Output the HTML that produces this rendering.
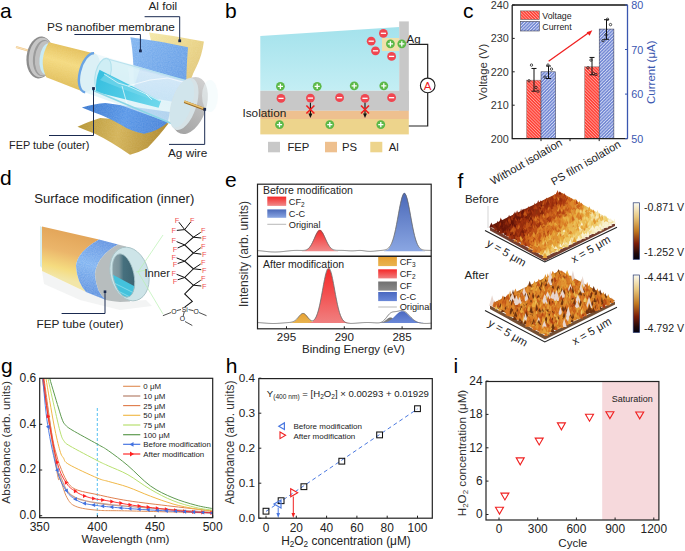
<!DOCTYPE html>
<html><head><meta charset="utf-8"><style>
html,body{margin:0;padding:0;background:#fff;}
svg{display:block;font-family:"Liberation Sans", sans-serif;}
</style></head><body>
<svg width="685" height="551" viewBox="0 0 685 551">
<rect width="685" height="551" fill="#fff"/>
<text x="0" y="17.5" font-size="21" fill="#000" text-anchor="start" >a</text>
<text x="225" y="17.5" font-size="21" fill="#000" text-anchor="start" >b</text>
<text x="463" y="17.5" font-size="21" fill="#000" text-anchor="start" >c</text>
<text x="0" y="185" font-size="21" fill="#000" text-anchor="start" >d</text>
<text x="225" y="186.5" font-size="21" fill="#000" text-anchor="start" >e</text>
<text x="457.5" y="187.5" font-size="21" fill="#000" text-anchor="start" >f</text>
<text x="1" y="373" font-size="21" fill="#000" text-anchor="start" >g</text>
<text x="225.8" y="373.3" font-size="21" fill="#000" text-anchor="start" >h</text>
<text x="453.6" y="373.4" font-size="21" fill="#000" text-anchor="start" >i</text>
<defs><linearGradient id="afoil" gradientUnits="userSpaceOnUse" x1="150" y1="33" x2="200" y2="78"><stop offset="0" stop-color="#f4e8a8"/><stop offset="0.6" stop-color="#ead488"/><stop offset="1" stop-color="#e0c67a"/></linearGradient><linearGradient id="afoil2" gradientUnits="userSpaceOnUse" x1="80" y1="125" x2="165" y2="140"><stop offset="0" stop-color="#b89838"/><stop offset="0.45" stop-color="#d4b45a"/><stop offset="1" stop-color="#b08a30"/></linearGradient><linearGradient id="amem" gradientUnits="userSpaceOnUse" x1="130" y1="40" x2="185" y2="78"><stop offset="0" stop-color="#80b4f0"/><stop offset="1" stop-color="#669ee6"/></linearGradient><linearGradient id="amem2" gradientUnits="userSpaceOnUse" x1="85" y1="105" x2="165" y2="130"><stop offset="0" stop-color="#3a78d0"/><stop offset="0.5" stop-color="#5a98e8"/><stop offset="1" stop-color="#4a84d8"/></linearGradient><linearGradient id="ayel" gradientUnits="userSpaceOnUse" x1="75" y1="48" x2="64" y2="88"><stop offset="0" stop-color="#e4c05c"/><stop offset="0.4" stop-color="#f4da80"/><stop offset="1" stop-color="#dfbc58"/></linearGradient><linearGradient id="atube" gradientUnits="userSpaceOnUse" x1="140" y1="62" x2="125" y2="118"><stop offset="0" stop-color="#eef8fb"/><stop offset="0.5" stop-color="#d4eef6"/><stop offset="1" stop-color="#dff3f8"/></linearGradient><linearGradient id="acyan" gradientUnits="userSpaceOnUse" x1="100" y1="75" x2="160" y2="105"><stop offset="0" stop-color="#38c0e0"/><stop offset="1" stop-color="#70d8ec"/></linearGradient><linearGradient id="adisc" gradientUnits="userSpaceOnUse" x1="175" y1="78" x2="200" y2="132"><stop offset="0" stop-color="#f4f4f4"/><stop offset="1" stop-color="#cacaca"/></linearGradient><filter id="tex" x="0" y="0" width="1" height="1"><feTurbulence type="fractalNoise" baseFrequency="0.8" numOctaves="2" seed="5"/><feColorMatrix values="0 0 0 0 1  0 0 0 0 1  0 0 0 0 1  0 0 0 0.5 -0.1"/><feComposite in2="SourceGraphic" operator="in"/></filter></defs>
<path d="M149,32.6 Q176,36 203.9,41.6 Q202,56 196.3,67 Q193,73 190.7,80 L160,75 Z" fill="url(#afoil)"/>
<path d="M149,32.6 Q176,36 203.9,41.6 Q202,56 196.3,67 Q193,73 190.7,80 L160,75 Z" fill="#a08030" filter="url(#tex)" opacity="0.3"/>
<path d="M130.4,37.2 Q160,41 188,47.2 Q186,70 186,104 L134,95 Q134,55 130.4,37.2 Z" fill="url(#amem)"/>
<path d="M130.4,37.2 Q160,41 188,47.2 Q186,70 186,104 L134,95 Q134,55 130.4,37.2 Z" fill="#fff" filter="url(#tex)" opacity="0.5"/>
<path d="M77.5,126.8 Q90,121 100.3,118 L168.6,123.3 Q160,135 147.6,147.8 Q140,152 130,154.8 Q110,141 95,133.8 Q85,130 77.5,126.8 Z" fill="url(#afoil2)"/>
<path d="M77.5,126.8 Q90,121 100.3,118 L168.6,123.3 Q160,135 147.6,147.8 Q140,152 130,154.8 Q110,141 95,133.8 Q85,130 77.5,126.8 Z" fill="#604010" filter="url(#tex)" opacity="0.25"/>
<path d="M81.9,107.5 Q95,104 105.5,103.1 L170,112 L167.7,122.4 Q158,131 144,133.8 Q130,131 121.3,125 Q105,116 95,112.8 Q88,110 81.9,107.5 Z" fill="url(#amem2)"/>
<path d="M81.9,107.5 Q95,104 105.5,103.1 L170,112 L167.7,122.4 Q158,131 144,133.8 Q130,131 121.3,125 Q105,116 95,112.8 Q88,110 81.9,107.5 Z" fill="#fff" filter="url(#tex)" opacity="0.4"/>
<path d="M16,47 L40,54" stroke="#f0c888" stroke-width="2.2"/><path d="M16,47 L40,54" stroke="#fff4e0" stroke-width="0.6"/>
<ellipse cx="40" cy="57.5" rx="13.5" ry="21" transform="rotate(6 40 57.5)" fill="#8c8c8c"/>
<ellipse cx="41" cy="57.5" rx="12.2" ry="19.8" transform="rotate(6 41 57.5)" fill="#c6c6c6"/>
<ellipse cx="43" cy="58" rx="10" ry="18" transform="rotate(6 43 58)" fill="#9c9c9c"/>
<ellipse cx="44" cy="58.2" rx="9" ry="17.2" transform="rotate(6 44 58.2)" fill="#c0c0c0"/>
<ellipse cx="47" cy="59" rx="7.5" ry="15.5" transform="rotate(6 47 59)" fill="#c8eaf4"/>
<path d="M48.9,42.3 L95.3,53.7 L84,92 L46.3,77.3 Q38,60 48.9,42.3 Z" fill="url(#ayel)"/>
<path d="M48.9,42.3 L95.3,53.7 L84,92 L46.3,77.3 Q38,60 48.9,42.3 Z" fill="#806010" filter="url(#tex)" opacity="0.22"/>
<path d="M95.3,53.7 L190.7,81.9 L177.3,125.4 L84,92 Z" fill="url(#atube)" opacity="0.72"/>
<ellipse cx="89.6" cy="72.8" rx="9.5" ry="19.8" transform="rotate(15 89.6 72.8)" fill="#dcf0f6"/>
<path d="M94,53.2 A9.5,19.8 15 0 0 85.2,92.4" fill="none" stroke="#6aa4e4" stroke-width="2.4"/>
<path d="M108,59 L140,68 L130,100 L97,88 Z" fill="#d6f0f6" opacity="0.8"/>
<ellipse cx="103" cy="74" rx="7.5" ry="16" transform="rotate(15 103 74)" fill="#cfeef5" stroke="#b0e0ec" stroke-width="1.1"/>
<path d="M99.5,69.7 Q106,73 130,85 L161,101 L158.6,107.8 Q128,100 96,92 Q95,80 99.5,69.7 Z" fill="url(#acyan)"/>
<path d="M106,73.6 L129.7,86.8 L161,101 L150,99 L120,88 L100,80 Z" fill="#7ad8ec" opacity="0.6"/>
<path d="M128,67 L190,83 L182,106 L161,101 L130,85 Z" fill="#e8f6fb" opacity="0.35"/>
<path d="M104,74 L118,83 L128,86 L146,94 L152,100 M128,86 L150,80 L168,78 L190,84 M122,86 L127,104 M146,94 L160,101" stroke="#fff" stroke-width="0.7" fill="none" opacity="0.95"/>
<path d="M106,58.5 L190.7,81.9" stroke="#b8e2ee" stroke-width="1.1"/>
<path d="M92.4,90 L177.4,126" stroke="#8ad6e6" stroke-width="1.6"/>
<defs><linearGradient id="arim" gradientUnits="userSpaceOnUse" x1="200" y1="80" x2="185" y2="134"><stop offset="0" stop-color="#cfcfcf"/><stop offset="1" stop-color="#a4a4a4"/></linearGradient></defs>
<ellipse cx="189.5" cy="105.5" rx="16.8" ry="29.5" transform="rotate(18 189.5 105.5)" fill="url(#arim)"/>
<ellipse cx="184" cy="104" rx="12.5" ry="27" transform="rotate(18 184 104)" fill="#d6e2e6"/>
<ellipse cx="182" cy="103.5" rx="10" ry="25" transform="rotate(18 182 103.5)" fill="#cfe6ee" opacity="0.8"/>
<path d="M184.3,101.8 L204.7,109.3" stroke="#9a6a20" stroke-width="2.8"/>
<path d="M184.3,101.3 L204.7,108.8" stroke="#eac474" stroke-width="1.5"/>
<ellipse cx="210" cy="96" rx="8" ry="16" fill="#eef9fc" opacity="0.5"/>
<g stroke="#1a2a50" stroke-width="1" fill="none"><path d="M144.6,16.7 H179.7 V40.8"/><path d="M74.4,34.5 H140.4 V50.9"/><path d="M49,135.5 H93.5 V88.5"/><path d="M169,144.4 H204.7 V109.3"/></g>
<rect x="178.29999999999998" y="39.4" width="2.8" height="2.8" fill="#1a2a50"/>
<rect x="139.0" y="49.5" width="2.8" height="2.8" fill="#1a2a50"/>
<rect x="92.1" y="87.1" width="2.8" height="2.8" fill="#1a2a50"/>
<rect x="203.29999999999998" y="107.89999999999999" width="2.8" height="2.8" fill="#1a2a50"/>
<text x="148.4" y="9.9" font-size="11.8" fill="#222" text-anchor="start" >Al foil</text>
<text x="47" y="30.6" font-size="11.8" fill="#222" text-anchor="start" >PS nanofiber membrane</text>
<text x="9" y="148.5" font-size="10.9" fill="#222" text-anchor="start" >FEP tube (outer)</text>
<text x="168" y="157.3" font-size="11.8" fill="#222" text-anchor="start" >Ag wire</text>
<defs><linearGradient id="bw" x1="0" y1="0" x2="0" y2="1"><stop offset="0" stop-color="#a4e2ec"/><stop offset="1" stop-color="#c4eef4"/></linearGradient></defs>
<path d="M260.3,36 L399.2,27 V90.8 H260.3 Z" fill="url(#bw)"/>
<rect x="399.2" y="21.4" width="9.6" height="89.4" fill="#c8c8c8"/>
<rect x="260.3" y="90.8" width="148.5" height="20" fill="#c8c8c8"/>
<rect x="260.3" y="110.8" width="148.5" height="8.2" fill="#eec08f"/>
<rect x="260.3" y="119" width="148.5" height="15.4" fill="#edd48c"/>
<rect x="382" y="38" width="17.2" height="13" fill="#efe0aa"/>
<path d="M408.8,44.3 H427.7 V78 M427.7,92.8 V126 H408.8" stroke="#222" stroke-width="1.2" fill="none"/>
<circle cx="427.7" cy="85.4" r="7.3" fill="#fff" stroke="#222" stroke-width="1.1"/>
<text x="427.7" y="89.6" font-size="11.5" fill="#f02020" text-anchor="middle" >A</text>
<text x="406.5" y="43.2" font-size="11.5" fill="#222" text-anchor="start" >Ag</text>
<circle cx="280.4" cy="86.3" r="4.4" fill="#5cb848"/><path d="M277.79999999999995,86.3 h5.2 M280.4,83.7 v5.2" stroke="#fff" stroke-width="1.3"/>
<circle cx="317.2" cy="86.3" r="4.4" fill="#5cb848"/><path d="M314.59999999999997,86.3 h5.2 M317.2,83.7 v5.2" stroke="#fff" stroke-width="1.3"/>
<circle cx="354.2" cy="85.8" r="4.4" fill="#5cb848"/><path d="M351.59999999999997,85.8 h5.2 M354.2,83.2 v5.2" stroke="#fff" stroke-width="1.3"/>
<circle cx="383.8" cy="85.8" r="4.4" fill="#5cb848"/><path d="M381.2,85.8 h5.2 M383.8,83.2 v5.2" stroke="#fff" stroke-width="1.3"/>
<circle cx="279.5" cy="124.6" r="4.4" fill="#5cb848"/><path d="M276.9,124.6 h5.2 M279.5,122.0 v5.2" stroke="#fff" stroke-width="1.3"/>
<circle cx="329.8" cy="124.6" r="4.4" fill="#5cb848"/><path d="M327.2,124.6 h5.2 M329.8,122.0 v5.2" stroke="#fff" stroke-width="1.3"/>
<circle cx="380.8" cy="124.6" r="4.4" fill="#5cb848"/><path d="M378.2,124.6 h5.2 M380.8,122.0 v5.2" stroke="#fff" stroke-width="1.3"/>
<circle cx="390.4" cy="43.8" r="4.4" fill="#5cb848"/><path d="M387.79999999999995,43.8 h5.2 M390.4,41.199999999999996 v5.2" stroke="#fff" stroke-width="1.3"/>
<circle cx="401.8" cy="43.8" r="4.4" fill="#5cb848"/><path d="M399.2,43.8 h5.2 M401.8,41.199999999999996 v5.2" stroke="#fff" stroke-width="1.3"/>
<circle cx="281" cy="98.4" r="4.4" fill="#f04650"/><path d="M278.4,98.4 h5.2" stroke="#fff" stroke-width="1.3"/>
<circle cx="310.4" cy="98.1" r="4.4" fill="#f04650"/><path d="M307.79999999999995,98.1 h5.2" stroke="#fff" stroke-width="1.3"/>
<circle cx="339.6" cy="97.7" r="4.4" fill="#f04650"/><path d="M337.0,97.7 h5.2" stroke="#fff" stroke-width="1.3"/>
<circle cx="365" cy="98.3" r="4.4" fill="#f04650"/><path d="M362.4,98.3 h5.2" stroke="#fff" stroke-width="1.3"/>
<circle cx="391.6" cy="97.7" r="4.4" fill="#f04650"/><path d="M389.0,97.7 h5.2" stroke="#fff" stroke-width="1.3"/>
<circle cx="383.4" cy="33.3" r="4.4" fill="#f04650"/><path d="M380.79999999999995,33.3 h5.2" stroke="#fff" stroke-width="1.3"/>
<circle cx="371.2" cy="41.2" r="4.4" fill="#f04650"/><path d="M368.59999999999997,41.2 h5.2" stroke="#fff" stroke-width="1.3"/>
<circle cx="375.5" cy="50.8" r="4.4" fill="#f04650"/><path d="M372.9,50.8 h5.2" stroke="#fff" stroke-width="1.3"/>
<circle cx="391.6" cy="56.4" r="4.4" fill="#f04650"/><path d="M389.0,56.4 h5.2" stroke="#fff" stroke-width="1.3"/>
<path d="M310.4,102.7 V114" stroke="#111" stroke-width="1.1"/><path d="M308.4,113.6 L312.4,113.6 L310.4,118 Z" fill="#111"/>
<path d="M306.4,105.5 L314.4,113.5 M314.4,105.5 L306.4,113.5" stroke="#f21d1d" stroke-width="1.6"/>
<path d="M365,102.7 V114" stroke="#111" stroke-width="1.1"/><path d="M363,113.6 L367,113.6 L365,118 Z" fill="#111"/>
<path d="M361,105.5 L369,113.5 M369,105.5 L361,113.5" stroke="#f21d1d" stroke-width="1.6"/>
<text x="242.4" y="117" font-size="11.8" fill="#222" text-anchor="start" >Isolation</text>
<rect x="268" y="141.8" width="12" height="10.5" fill="#c8c8c8"/>
<rect x="325" y="141.8" width="12" height="10.5" fill="#eec08f"/>
<rect x="370.3" y="141.8" width="12" height="10.5" fill="#edd48c"/>
<text x="287.4" y="150.9" font-size="11.3" fill="#222" text-anchor="start" >FEP</text>
<text x="341.9" y="150.9" font-size="11.3" fill="#222" text-anchor="start" >PS</text>
<text x="388.7" y="150.9" font-size="11.3" fill="#222" text-anchor="start" >Al</text>
<defs><pattern id="hr" width="2.2" height="2.2" patternUnits="userSpaceOnUse" patternTransform="rotate(-45)"><rect width="2.2" height="2.2" fill="#ff3a30"/><rect width="0.9" height="2.2" fill="#ffa098"/></pattern><pattern id="hb" width="2.3" height="2.3" patternUnits="userSpaceOnUse" patternTransform="rotate(45)"><rect width="2.2" height="2.2" fill="#5a72cc"/><rect width="0.95" height="2.2" fill="#d8e0f6"/></pattern></defs>
<rect x="526.5" y="80.14999999999999" width="14.5" height="58.45" fill="url(#hr)" stroke="#888" stroke-width="0.5"/>
<rect x="541.0" y="71.8" width="14.600000000000023" height="66.8" fill="url(#hb)" stroke="#334" stroke-width="0.5"/>
<rect x="584.5" y="66.78999999999999" width="14.700000000000045" height="71.81" fill="url(#hr)" stroke="#888" stroke-width="0.5"/>
<rect x="599.2" y="29.04800000000003" width="14.699999999999932" height="109.55199999999996" fill="url(#hb)" stroke="#334" stroke-width="0.5"/>
<path d="M534,68.46 V91.17200000000004 M531.5,68.46 h5 M531.5,91.17200000000004 h5" stroke="#111" stroke-width="1" fill="none"/>
<path d="M548.5,66.01066666666668 V78.47999999999999 M546.0,66.01066666666668 h5 M546.0,78.47999999999999 h5" stroke="#111" stroke-width="1" fill="none"/>
<path d="M592,57.43799999999996 V74.80600000000001 M589.5,57.43799999999996 h5 M589.5,74.80600000000001 h5" stroke="#111" stroke-width="1" fill="none"/>
<path d="M606.5,19.695999999999984 V39.29066666666668 M604.0,19.695999999999984 h5 M604.0,39.29066666666668 h5" stroke="#111" stroke-width="1" fill="none"/>
<circle cx="531.5" cy="65.1" r="1.2" fill="none" stroke="#222" stroke-width="0.8"/>
<circle cx="529" cy="80.8" r="1.2" fill="none" stroke="#222" stroke-width="0.8"/>
<circle cx="536" cy="87.5" r="1.2" fill="none" stroke="#222" stroke-width="0.8"/>
<circle cx="538" cy="91.2" r="1.2" fill="none" stroke="#222" stroke-width="0.8"/>
<circle cx="545" cy="77.1" r="1.2" fill="none" stroke="#222" stroke-width="0.8"/>
<circle cx="548" cy="65.1" r="1.2" fill="none" stroke="#222" stroke-width="0.8"/>
<circle cx="551.5" cy="69.1" r="1.2" fill="none" stroke="#222" stroke-width="0.8"/>
<circle cx="588" cy="67.8" r="1.2" fill="none" stroke="#222" stroke-width="0.8"/>
<circle cx="591" cy="60.1" r="1.2" fill="none" stroke="#222" stroke-width="0.8"/>
<circle cx="593.5" cy="73.5" r="1.2" fill="none" stroke="#222" stroke-width="0.8"/>
<circle cx="596" cy="74.5" r="1.2" fill="none" stroke="#222" stroke-width="0.8"/>
<circle cx="603" cy="40.6" r="1.2" fill="none" stroke="#222" stroke-width="0.8"/>
<circle cx="606" cy="34.8" r="1.2" fill="none" stroke="#222" stroke-width="0.8"/>
<circle cx="607.5" cy="19.3" r="1.2" fill="none" stroke="#222" stroke-width="0.8"/>
<circle cx="610.5" cy="24.6" r="1.2" fill="none" stroke="#222" stroke-width="0.8"/>
<path d="M512.2,5.0 V138.6 H627.5" stroke="#222" stroke-width="1.3" fill="none"/>
<path d="M512.2,5.0 H627.5" stroke="#111" stroke-width="1.3" fill="none"/>
<path d="M627.5,5.0 V138.6" stroke="#3a56b0" stroke-width="1.3" fill="none"/>
<path d="M512.2,138.6 h2.5" stroke="#222" stroke-width="1"/>
<text x="508.7" y="138.6" font-size="10.8" fill="#333" text-anchor="end" dominant-baseline="central">200</text>
<path d="M512.2,105.2 h2.5" stroke="#222" stroke-width="1"/>
<text x="508.7" y="105.19999999999999" font-size="10.8" fill="#333" text-anchor="end" dominant-baseline="central">210</text>
<path d="M512.2,71.8 h2.5" stroke="#222" stroke-width="1"/>
<text x="508.7" y="71.8" font-size="10.8" fill="#333" text-anchor="end" dominant-baseline="central">220</text>
<path d="M512.2,38.4 h2.5" stroke="#222" stroke-width="1"/>
<text x="508.7" y="38.39999999999999" font-size="10.8" fill="#333" text-anchor="end" dominant-baseline="central">230</text>
<path d="M512.2,5.0 h2.5" stroke="#222" stroke-width="1"/>
<text x="508.7" y="5.0" font-size="10.8" fill="#333" text-anchor="end" dominant-baseline="central">240</text>
<path d="M627.5,138.6 h-2.5" stroke="#3a56b0" stroke-width="1"/>
<text x="631.3" y="138.6" font-size="10.8" fill="#3a56b0" text-anchor="start" dominant-baseline="central">50</text>
<path d="M627.5,94.1 h-2.5" stroke="#3a56b0" stroke-width="1"/>
<text x="631.3" y="94.06666666666666" font-size="10.8" fill="#3a56b0" text-anchor="start" dominant-baseline="central">60</text>
<path d="M627.5,49.5 h-2.5" stroke="#3a56b0" stroke-width="1"/>
<text x="631.3" y="49.53333333333333" font-size="10.8" fill="#3a56b0" text-anchor="start" dominant-baseline="central">70</text>
<path d="M627.5,5.0 h-2.5" stroke="#3a56b0" stroke-width="1"/>
<text x="631.3" y="5.0" font-size="10.8" fill="#3a56b0" text-anchor="start" dominant-baseline="central">80</text>
<path d="M541,138.6 v2.5" stroke="#222" stroke-width="1"/>
<path d="M570,138.6 v2.5" stroke="#222" stroke-width="1"/>
<path d="M599.2,138.6 v2.5" stroke="#222" stroke-width="1"/>
<text x="0" y="0" font-size="11.4" fill="#333" text-anchor="middle" dominant-baseline="central" transform="translate(482.5,72) rotate(-90)">Voltage (V)</text>
<text x="0" y="0" font-size="11.5" fill="#3a56b0" text-anchor="middle" dominant-baseline="central" transform="translate(651,72.2) rotate(-90)">Current (μA)</text>
<rect x="520.6" y="10.9" width="18.7" height="8.7" fill="url(#hr)" stroke="#666" stroke-width="0.6"/>
<rect x="520.6" y="21.4" width="18.7" height="9.6" fill="url(#hb)" stroke="#445" stroke-width="0.6"/>
<text x="542.3" y="18.9" font-size="8.8" fill="#222" text-anchor="start" >Voltage</text>
<text x="542.3" y="29.5" font-size="8.8" fill="#222" text-anchor="start" >Current</text>
<path d="M548.6,61.3 L589,32.5" stroke="#f02020" stroke-width="1.3" fill="none"/>
<path d="M592.3,30.2 L586.6,32.2 L589.6,35.8 Z" fill="#f02020"/>
<text font-size="11" fill="#222" text-anchor="end" transform="translate(563,145) rotate(-30)">Without isolation</text>
<text font-size="11" fill="#222" text-anchor="end" transform="translate(621.5,146.5) rotate(-30)">PS film isolation</text>
<text x="34.2" y="202.7" font-size="13.1" fill="#222" text-anchor="start" >Surface modification (inner)</text>
<defs><linearGradient id="dor" gradientUnits="userSpaceOnUse" x1="60" y1="228" x2="48" y2="275"><stop offset="0" stop-color="#e2a458"/><stop offset="0.45" stop-color="#ebb56a"/><stop offset="0.8" stop-color="#f5dc80"/><stop offset="1" stop-color="#f2e6a8"/></linearGradient><linearGradient id="dbl" gradientUnits="userSpaceOnUse" x1="100" y1="240" x2="85" y2="290"><stop offset="0" stop-color="#5a8ee0"/><stop offset="0.5" stop-color="#7ab0f0"/><stop offset="1" stop-color="#5a90e0"/></linearGradient><linearGradient id="dsh" gradientUnits="userSpaceOnUse" x1="60" y1="270" x2="70" y2="305"><stop offset="0" stop-color="#e8d8c8"/><stop offset="1" stop-color="#ffffff" stop-opacity="0"/></linearGradient><radialGradient id="dgr" cx="0.5" cy="0.5" r="0.5"><stop offset="0" stop-color="#c8cccc"/><stop offset="1" stop-color="#a8b0b0"/></radialGradient><filter id="noise" x="0" y="0" width="1" height="1"><feTurbulence type="fractalNoise" baseFrequency="0.9" numOctaves="2" seed="3"/><feColorMatrix values="0 0 0 0 1  0 0 0 0 1  0 0 0 0 1  0 0 0 0.35 0"/><feComposite in2="SourceGraphic" operator="in"/></filter></defs>
<path d="M40,226 L42,227.3 L42,268 L40,266 Z" fill="#d8eef0"/>
<path d="M42,271 L86,292 L120,302 L146,300 L152,306 L120,310 L80,300 L44,284 Z" fill="#eef0f0" opacity="0.7"/>
<path d="M42,226.5 L99,239.5 Q77,252 76,266 Q77,282 86,292 L42,271 Z" fill="url(#dor)"/>
<path d="M99,239.5 L118,244.5 Q97,256 95,274 Q96,292 106,300 L86,292 Q77,282 76,266 Q77,252 99,239.5 Z" fill="url(#dbl)"/>
<path d="M99,239.5 L118,244.5 Q97,256 95,274 Q96,292 106,300 L86,292 Q77,282 76,266 Q77,252 99,239.5 Z" fill="#fff" filter="url(#noise)" opacity="0.8"/>
<path d="M118,244.5 L126,246.6 L130,301.5 L120,302 Q110,301 106,300 Q96,292 95,274 Q97,256 118,244.5 Z" fill="#b7bdbe"/>
<ellipse cx="129.5" cy="274" rx="19" ry="27.3" transform="rotate(-15 129.5 274)" fill="#cde4e8" stroke="#a9c3c7" stroke-width="0.9"/>
<defs><clipPath id="dop"><ellipse cx="123.5" cy="275.5" rx="10.5" ry="22" transform="rotate(-12 123.5 275.5)"/></clipPath><linearGradient id="ddk" x1="0" y1="0" x2="1" y2="0"><stop offset="0" stop-color="#8ea4aa"/><stop offset="0.3" stop-color="#7a949c"/><stop offset="0.45" stop-color="#46707e"/><stop offset="1" stop-color="#385e6c"/></linearGradient></defs>
<g clip-path="url(#dop)"><rect x="110" y="250" width="30" height="52" fill="url(#ddk)"/><path d="M108,272 L136,287 L136,302 L108,302 Z" fill="#44c2dc"/><path d="M112,282 L134,293 M114,289 L132,298" stroke="#9ae4f0" stroke-width="1" opacity="0.7"/></g>
<ellipse cx="123.5" cy="275.5" rx="10.5" ry="22" transform="rotate(-12 123.5 275.5)" fill="none" stroke="#a8c4c8" stroke-width="0.8"/>
<path d="M138,272 L163,235 M138,272 L163,314 M136,272 L146,270" stroke="#b8f0b0" stroke-width="0.7" fill="none"/>
<text x="144.4" y="277" font-size="11.2" fill="#222" text-anchor="start" >Inner</text>
<path d="M61.6,313.5 H105 V291.7" stroke="#1a2a50" stroke-width="1" fill="none"/><rect x="103.7" y="290.4" width="2.6" height="2.6" fill="#1a2a50"/>
<text x="36.5" y="327.6" font-size="11.8" fill="#222" text-anchor="start" >FEP tube (outer)</text>
<path d="M184.7,229.6 L193.4,237.2 L184.7,244.9 L193.4,253 L184.7,261.2 L193.4,268.8 L184.7,277.5 L193.4,285.2 L184.7,293.9 L192.3,301.5 L184.7,307.1" stroke="#111" stroke-width="1.05" fill="none"/>
<text x="177" y="222.5" font-size="7.4" fill="#f05050" text-anchor="middle">F</text>
<text x="192.3" y="222.5" font-size="7.4" fill="#f05050" text-anchor="middle">F</text>
<text x="173.8" y="233.39999999999998" font-size="7.4" fill="#f05050" text-anchor="middle">F</text>
<text x="203.2" y="233.39999999999998" font-size="7.4" fill="#f05050" text-anchor="middle">F</text>
<text x="204.3" y="241.0" font-size="7.4" fill="#f05050" text-anchor="middle">F</text>
<text x="173.8" y="243.2" font-size="7.4" fill="#f05050" text-anchor="middle">F</text>
<text x="174.9" y="251.89999999999998" font-size="7.4" fill="#f05050" text-anchor="middle">F</text>
<text x="203.2" y="248.7" font-size="7.4" fill="#f05050" text-anchor="middle">F</text>
<text x="204.3" y="257.4" font-size="7.4" fill="#f05050" text-anchor="middle">F</text>
<text x="173.8" y="259.5" font-size="7.4" fill="#f05050" text-anchor="middle">F</text>
<text x="174.9" y="267.2" font-size="7.4" fill="#f05050" text-anchor="middle">F</text>
<text x="203.2" y="265.0" font-size="7.4" fill="#f05050" text-anchor="middle">F</text>
<text x="204.3" y="272.7" font-size="7.4" fill="#f05050" text-anchor="middle">F</text>
<text x="173.8" y="275.9" font-size="7.4" fill="#f05050" text-anchor="middle">F</text>
<text x="174.9" y="283.5" font-size="7.4" fill="#f05050" text-anchor="middle">F</text>
<text x="203.2" y="281.3" font-size="7.4" fill="#f05050" text-anchor="middle">F</text>
<text x="204.3" y="289.0" font-size="7.4" fill="#f05050" text-anchor="middle">F</text>
<path d="M184.7,229.6 L178.9,222.2 M184.7,229.6 L190.5,222.2 M184.7,229.6 L176.8,230.4 M193.4,237.2 L200.7,232.4 M193.4,237.2 L201.3,238.0 M184.7,244.9 L176.6,241.6 M184.7,244.9 L177.6,248.0 M193.4,253 L200.8,247.7 M193.4,253 L201.3,254.2 M184.7,261.2 L176.6,257.9 M184.7,261.2 L177.7,263.5 M193.4,268.8 L200.7,264.0 M193.4,268.8 L201.3,269.7 M184.7,277.5 L176.6,274.3 M184.7,277.5 L177.7,279.8 M193.4,285.2 L200.7,280.3 M193.4,285.2 L201.3,286.0" stroke="#111" stroke-width="1" fill="none"/>
<text x="184.7" y="311.5" font-size="6.8" fill="#222" text-anchor="middle">Si</text>
<text x="173.8" y="313.7" font-size="6.8" fill="#222" text-anchor="middle">O</text>
<text x="196.2" y="313.7" font-size="6.8" fill="#222" text-anchor="middle">O</text>
<text x="182.5" y="321.4" font-size="6.8" fill="#222" text-anchor="middle">O</text>
<path d="M181,309.5 L176.5,310.7 M188.5,309.5 L193.5,310.7 M184.2,312 L183.2,316 M171,312.5 L162.9,315.7 M199,312.5 L206.5,315.7 M185,321.5 L192.3,325.5" stroke="#222" stroke-width="0.8" fill="none"/>
<defs><linearGradient id="gr1" x1="0" y1="0" x2="0" y2="1"><stop offset="0" stop-color="#f52828"/><stop offset="1" stop-color="#f08a8a"/></linearGradient><linearGradient id="gb1" x1="0" y1="0" x2="0" y2="1"><stop offset="0" stop-color="#4a68b8"/><stop offset="1" stop-color="#8aa6e2"/></linearGradient><linearGradient id="go1" x1="0" y1="0" x2="0" y2="1"><stop offset="0" stop-color="#e8a030"/><stop offset="1" stop-color="#e8b450"/></linearGradient><linearGradient id="gg1" x1="0" y1="0" x2="0" y2="1"><stop offset="0" stop-color="#707070"/><stop offset="1" stop-color="#8a8a8a"/></linearGradient><linearGradient id="gr2" x1="0" y1="0" x2="0" y2="1"><stop offset="0" stop-color="#f52828"/><stop offset="1" stop-color="#f08080"/></linearGradient><linearGradient id="gb2" x1="0" y1="0" x2="0" y2="1"><stop offset="0" stop-color="#4a68c0"/><stop offset="1" stop-color="#6a88d8"/></linearGradient></defs>
<path d="M302.00,251.06 L302.60,251.01 L303.20,250.93 L303.80,250.84 L304.40,250.71 L305.00,250.55 L305.60,250.34 L306.20,250.07 L306.80,249.75 L307.40,249.35 L308.00,248.86 L308.60,248.29 L309.20,247.62 L309.80,246.83 L310.40,245.94 L311.00,244.95 L311.60,243.84 L312.20,242.64 L312.80,241.36 L313.40,240.01 L314.00,238.63 L314.60,237.23 L315.20,235.86 L315.80,234.54 L316.40,233.32 L317.00,232.23 L317.60,231.30 L318.20,230.56 L318.80,230.04 L319.40,229.75 L320.00,229.71 L320.60,229.92 L321.20,230.36 L321.80,231.03 L322.40,231.90 L323.00,232.94 L323.60,234.12 L324.20,235.41 L324.80,236.77 L325.40,238.16 L326.00,239.55 L326.60,240.91 L327.20,242.22 L327.80,243.45 L328.40,244.59 L329.00,245.62 L329.60,246.55 L330.20,247.37 L330.80,248.08 L331.40,248.68 L332.00,249.20 L332.60,249.62 L333.20,249.97 L333.80,250.26 L334.40,250.48 L335.00,250.66 L335.60,250.80 L336.20,250.90 L336.80,250.99 L337.40,251.05 L338.00,251.09 L338.00,251.2 L302.00,251.2 Z" fill="url(#gr1)"/>
<path d="M384.00,250.89 L384.68,250.76 L385.37,250.59 L386.05,250.36 L386.73,250.05 L387.42,249.65 L388.10,249.14 L388.78,248.49 L389.47,247.68 L390.15,246.67 L390.83,245.44 L391.52,243.97 L392.20,242.23 L392.88,240.20 L393.57,237.86 L394.25,235.22 L394.93,232.28 L395.62,229.07 L396.30,225.60 L396.98,221.94 L397.67,218.15 L398.35,214.31 L399.03,210.50 L399.72,206.82 L400.40,203.38 L401.08,200.27 L401.77,197.59 L402.45,195.44 L403.13,193.87 L403.82,192.95 L404.50,192.71 L405.18,193.15 L405.87,194.26 L406.55,196.01 L407.23,198.33 L407.92,201.14 L408.60,204.36 L409.28,207.88 L409.97,211.61 L410.65,215.44 L411.33,219.27 L412.02,223.03 L412.70,226.64 L413.38,230.03 L414.07,233.17 L414.75,236.03 L415.43,238.58 L416.12,240.82 L416.80,242.77 L417.48,244.43 L418.17,245.83 L418.85,246.99 L419.53,247.93 L420.22,248.70 L420.90,249.30 L421.58,249.78 L422.27,250.15 L422.95,250.43 L423.63,250.65 L424.32,250.80 L425.00,250.92 L425.00,251.2 L384.00,251.2 Z" fill="url(#gb1)"/>
<path d="M257.50,250.57 L258.50,250.64 L259.50,250.73 L260.50,250.83 L261.50,250.93 L262.50,251.04 L263.50,251.16 L264.50,251.27 L265.50,251.38 L266.50,251.49 L267.50,251.59 L268.50,251.69 L269.50,251.77 L270.50,251.85 L271.50,251.91 L272.50,251.95 L273.50,251.98 L274.50,252.00 L275.50,252.00 L276.50,251.98 L277.50,251.95 L278.50,251.90 L279.50,251.83 L280.50,251.76 L281.50,251.67 L282.50,251.57 L283.50,251.47 L284.50,251.36 L285.50,251.24 L286.50,251.13 L287.50,251.02 L288.50,250.91 L289.50,250.80 L290.50,250.71 L291.50,250.62 L292.50,250.55 L293.50,250.49 L294.50,250.45 L295.50,250.41 L296.50,250.40 L297.50,250.40 L298.50,250.41 L299.50,250.43 L300.50,250.45 L301.50,250.46 L302.50,250.46 L303.50,250.42 L304.50,250.31 L305.50,250.11 L306.50,249.76 L307.50,249.23 L308.50,248.46 L309.50,247.42 L310.50,246.08 L311.50,244.43 L312.50,242.50 L313.50,240.36 L314.50,238.11 L315.50,235.90 L316.50,233.88 L317.50,232.22 L318.50,231.07 L319.50,230.53 L320.50,230.65 L321.50,231.41 L322.50,232.75 L323.50,234.55 L324.50,236.64 L325.50,238.86 L326.50,241.06 L327.50,243.11 L328.50,244.92 L329.50,246.45 L330.50,247.66 L331.50,248.59 L332.50,249.26 L333.50,249.72 L334.50,250.02 L335.50,250.20 L336.50,250.30 L337.50,250.34 L338.50,250.36 L339.50,250.37 L340.50,250.38 L341.50,250.39 L342.50,250.41 L343.50,250.45 L344.50,250.50 L345.50,250.55 L346.50,250.62 L347.50,250.68 L348.50,250.75 L349.50,250.81 L350.50,250.85 L351.50,250.87 L352.50,250.87 L353.50,250.84 L354.50,250.78 L355.50,250.71 L356.50,250.62 L357.50,250.54 L358.50,250.48 L359.50,250.45 L360.50,250.46 L361.50,250.51 L362.50,250.60 L363.50,250.73 L364.50,250.87 L365.50,251.02 L366.50,251.15 L367.50,251.25 L368.50,251.32 L369.50,251.36 L370.50,251.36 L371.50,251.32 L372.50,251.26 L373.50,251.19 L374.50,251.09 L375.50,250.99 L376.50,250.89 L377.50,250.79 L378.50,250.69 L379.50,250.60 L380.50,250.50 L381.50,250.41 L382.50,250.31 L383.50,250.18 L384.50,250.00 L385.50,249.75 L386.50,249.39 L387.50,248.86 L388.50,248.09 L389.50,247.00 L390.50,245.52 L391.50,243.55 L392.50,241.01 L393.50,237.84 L394.50,234.03 L395.50,229.59 L396.50,224.62 L397.50,219.28 L398.50,213.76 L399.50,208.37 L400.50,203.39 L401.50,199.16 L402.50,195.95 L403.50,194.00 L404.50,193.46 L405.50,194.37 L406.50,196.66 L407.50,200.17 L408.50,204.64 L409.50,209.79 L410.50,215.28 L411.50,220.83 L412.50,226.15 L413.50,231.05 L414.50,235.38 L415.50,239.07 L416.50,242.10 L417.50,244.50 L418.50,246.34 L419.50,247.70 L420.50,248.67 L421.50,249.33 L422.50,249.76 L423.50,250.03 L424.50,250.19 L425.50,250.27 L426.50,250.32 L427.50,250.34 L428.50,250.36 L429.50,250.38 L430.50,250.41 L431.50,250.45" stroke="#666" stroke-width="0.8" fill="none"/>
<path d="M290.00,322.84 L290.43,322.79 L290.87,322.73 L291.30,322.66 L291.73,322.57 L292.17,322.45 L292.60,322.32 L293.03,322.16 L293.47,321.97 L293.90,321.74 L294.33,321.49 L294.77,321.19 L295.20,320.86 L295.63,320.49 L296.07,320.09 L296.50,319.64 L296.93,319.16 L297.37,318.66 L297.80,318.13 L298.23,317.58 L298.67,317.03 L299.10,316.48 L299.53,315.94 L299.97,315.42 L300.40,314.94 L300.83,314.50 L301.27,314.12 L301.70,313.80 L302.13,313.56 L302.57,313.39 L303.00,313.31 L303.43,313.31 L303.87,313.40 L304.30,313.57 L304.73,313.82 L305.17,314.15 L305.60,314.53 L306.03,314.98 L306.47,315.46 L306.90,315.98 L307.33,316.52 L307.77,317.07 L308.20,317.63 L308.63,318.17 L309.07,318.70 L309.50,319.20 L309.93,319.68 L310.37,320.12 L310.80,320.52 L311.23,320.89 L311.67,321.22 L312.10,321.51 L312.53,321.76 L312.97,321.98 L313.40,322.17 L313.83,322.33 L314.27,322.46 L314.70,322.57 L315.13,322.66 L315.57,322.74 L316.00,322.80 L316.00,323.0 L290.00,323.0 Z" fill="url(#go1)"/>
<path d="M308.00,322.85 L308.70,322.78 L309.40,322.67 L310.10,322.53 L310.80,322.33 L311.50,322.06 L312.20,321.70 L312.90,321.22 L313.60,320.61 L314.30,319.82 L315.00,318.82 L315.70,317.60 L316.40,316.10 L317.10,314.32 L317.80,312.21 L318.50,309.78 L319.20,307.03 L319.90,303.95 L320.60,300.59 L321.30,297.00 L322.00,293.24 L322.70,289.39 L323.40,285.56 L324.10,281.86 L324.80,278.40 L325.50,275.31 L326.20,272.69 L326.90,270.64 L327.60,269.25 L328.30,268.57 L329.00,268.62 L329.70,269.41 L330.40,270.90 L331.10,273.03 L331.80,275.73 L332.50,278.88 L333.20,282.38 L333.90,286.11 L334.60,289.94 L335.30,293.78 L336.00,297.53 L336.70,301.09 L337.40,304.41 L338.10,307.44 L338.80,310.15 L339.50,312.53 L340.20,314.59 L340.90,316.33 L341.60,317.79 L342.30,318.98 L343.00,319.94 L343.70,320.70 L344.40,321.30 L345.10,321.76 L345.80,322.10 L346.50,322.36 L347.20,322.55 L347.90,322.69 L348.60,322.79 L349.30,322.86 L350.00,322.91 L350.00,323.0 L308.00,323.0 Z" fill="url(#gr2)"/>
<path d="M380.00,322.81 L380.35,322.77 L380.70,322.71 L381.05,322.64 L381.40,322.56 L381.75,322.47 L382.10,322.36 L382.45,322.24 L382.80,322.10 L383.15,321.94 L383.50,321.76 L383.85,321.56 L384.20,321.35 L384.55,321.11 L384.90,320.86 L385.25,320.60 L385.60,320.32 L385.95,320.04 L386.30,319.75 L386.65,319.46 L387.00,319.17 L387.35,318.89 L387.70,318.62 L388.05,318.37 L388.40,318.15 L388.75,317.95 L389.10,317.78 L389.45,317.65 L389.80,317.56 L390.15,317.51 L390.50,317.50 L390.85,317.53 L391.20,317.61 L391.55,317.72 L391.90,317.87 L392.25,318.06 L392.60,318.27 L392.95,318.51 L393.30,318.77 L393.65,319.05 L394.00,319.33 L394.35,319.62 L394.70,319.91 L395.05,320.20 L395.40,320.48 L395.75,320.75 L396.10,321.01 L396.45,321.25 L396.80,321.47 L397.15,321.68 L397.50,321.86 L397.85,322.03 L398.20,322.18 L398.55,322.31 L398.90,322.42 L399.25,322.52 L399.60,322.61 L399.95,322.68 L400.30,322.74 L400.65,322.79 L401.00,322.84 L401.00,323.0 L380.00,323.0 Z" fill="url(#gg1)"/>
<path d="M380.00,322.92 L380.75,322.89 L381.50,322.85 L382.25,322.80 L383.00,322.73 L383.75,322.63 L384.50,322.52 L385.25,322.37 L386.00,322.19 L386.75,321.97 L387.50,321.70 L388.25,321.38 L389.00,321.01 L389.75,320.57 L390.50,320.08 L391.25,319.53 L392.00,318.92 L392.75,318.26 L393.50,317.55 L394.25,316.81 L395.00,316.05 L395.75,315.28 L396.50,314.53 L397.25,313.81 L398.00,313.14 L398.75,312.55 L399.50,312.05 L400.25,311.65 L401.00,311.37 L401.75,311.22 L402.50,311.21 L403.25,311.33 L404.00,311.58 L404.75,311.96 L405.50,312.44 L406.25,313.02 L407.00,313.67 L407.75,314.38 L408.50,315.13 L409.25,315.89 L410.00,316.66 L410.75,317.40 L411.50,318.12 L412.25,318.79 L413.00,319.41 L413.75,319.98 L414.50,320.48 L415.25,320.92 L416.00,321.31 L416.75,321.64 L417.50,321.92 L418.25,322.15 L419.00,322.34 L419.75,322.49 L420.50,322.61 L421.25,322.71 L422.00,322.78 L422.75,322.84 L423.50,322.88 L424.25,322.92 L425.00,322.94 L425.00,323.0 L380.00,323.0 Z" fill="url(#gb2)"/>
<path d="M257.50,322.56 L258.50,322.61 L259.50,322.67 L260.50,322.73 L261.50,322.81 L262.50,322.88 L263.50,322.97 L264.50,323.05 L265.50,323.13 L266.50,323.21 L267.50,323.28 L268.50,323.35 L269.50,323.40 L270.50,323.45 L271.50,323.48 L272.50,323.50 L273.50,323.50 L274.50,323.49 L275.50,323.47 L276.50,323.43 L277.50,323.38 L278.50,323.32 L279.50,323.26 L280.50,323.18 L281.50,323.10 L282.50,323.02 L283.50,322.94 L284.50,322.85 L285.50,322.77 L286.50,322.69 L287.50,322.62 L288.50,322.53 L289.50,322.43 L290.50,322.30 L291.50,322.12 L292.50,321.85 L293.50,321.46 L294.50,320.92 L295.50,320.19 L296.50,319.27 L297.50,318.18 L298.50,317.00 L299.50,315.81 L300.50,314.74 L301.50,313.93 L302.50,313.48 L303.50,313.47 L304.50,313.90 L305.50,314.71 L306.50,315.80 L307.50,317.04 L308.50,318.26 L309.50,319.34 L310.50,320.17 L311.50,320.65 L312.50,320.74 L313.50,320.37 L314.50,319.50 L315.50,318.07 L316.50,316.02 L317.50,313.31 L318.50,309.91 L319.50,305.81 L320.50,301.08 L321.50,295.85 L322.50,290.33 L323.50,284.78 L324.50,279.53 L325.50,274.94 L326.50,271.31 L327.50,268.95 L328.50,268.02 L329.50,268.61 L330.50,270.67 L331.50,274.03 L332.50,278.43 L333.50,283.54 L334.50,289.03 L335.50,294.57 L336.50,299.87 L337.50,304.71 L338.50,308.96 L339.50,312.55 L340.50,315.48 L341.50,317.78 L342.50,319.53 L343.50,320.83 L344.50,321.75 L345.50,322.40 L346.50,322.83 L347.50,323.11 L348.50,323.28 L349.50,323.37 L350.50,323.41 L351.50,323.41 L352.50,323.38 L353.50,323.34 L354.50,323.28 L355.50,323.21 L356.50,323.13 L357.50,323.05 L358.50,322.97 L359.50,322.89 L360.50,322.81 L361.50,322.73 L362.50,322.67 L363.50,322.61 L364.50,322.56 L365.50,322.53 L366.50,322.51 L367.50,322.50 L368.50,322.51 L369.50,322.53 L370.50,322.56 L371.50,322.60 L372.50,322.66 L373.50,322.72 L374.50,322.78 L375.50,322.84 L376.50,322.88 L377.50,322.90 L378.50,322.86 L379.50,322.74 L380.50,322.51 L381.50,322.13 L382.50,321.57 L383.50,320.79 L384.50,319.82 L385.50,318.66 L386.50,317.39 L387.50,316.10 L388.50,314.87 L389.50,313.81 L390.50,312.97 L391.50,312.38 L392.50,312.02 L393.50,311.82 L394.50,311.71 L395.50,311.62 L396.50,311.48 L397.50,311.28 L398.50,311.04 L399.50,310.79 L400.50,310.59 L401.50,310.50 L402.50,310.56 L403.50,310.81 L404.50,311.27 L405.50,311.91 L406.50,312.73 L407.50,313.67 L408.50,314.70 L409.50,315.77 L410.50,316.84 L411.50,317.86 L412.50,318.82 L413.50,319.70 L414.50,320.46 L415.50,321.13 L416.50,321.68 L417.50,322.14 L418.50,322.51 L419.50,322.80 L420.50,323.02 L421.50,323.19 L422.50,323.31 L423.50,323.38 L424.50,323.43 L425.50,323.44 L426.50,323.43 L427.50,323.41 L428.50,323.36 L429.50,323.31 L430.50,323.24 L431.50,323.16" stroke="#666" stroke-width="0.8" fill="none"/>
<rect x="257.5" y="184.2" width="173.7" height="144.60000000000002" fill="none" stroke="#222" stroke-width="1.2"/>
<path d="M257.5,256.2 H431.2" stroke="#222" stroke-width="1.4"/>
<path d="M286.5,328.8 v-2.5" stroke="#222" stroke-width="1"/>
<text x="286.5" y="341" font-size="11.6" fill="#222" text-anchor="middle" >295</text>
<path d="M344.3,328.8 v-2.5" stroke="#222" stroke-width="1"/>
<text x="344.3" y="341" font-size="11.6" fill="#222" text-anchor="middle" >290</text>
<path d="M402.1,328.8 v-2.5" stroke="#222" stroke-width="1"/>
<text x="402.1" y="341" font-size="11.6" fill="#222" text-anchor="middle" >285</text>
<text x="353.5" y="352.8" font-size="11.5" fill="#222" text-anchor="middle" >Binding Energy (eV)</text>
<text x="0" y="0" font-size="12.1" fill="#333" text-anchor="middle" dominant-baseline="central" transform="translate(244,254) rotate(-90)">Intensity (arb. units)</text>
<text x="263" y="194.3" font-size="10.5" fill="#222" text-anchor="start" >Before modification</text>
<text x="263" y="268.2" font-size="10.5" fill="#222" text-anchor="start" >After modification</text>
<rect x="267.3" y="196.6" width="18.9" height="9.3" fill="url(#gr1)"/>
<rect x="267.3" y="209.4" width="18.9" height="8.4" fill="url(#gb1)"/>
<path d="M267.3,224.3 H286.2" stroke="#999" stroke-width="0.7"/>
<text x="288.8" y="204.5" font-size="9.2" fill="#222" text-anchor="start" >CF<tspan font-size="6.5" dy="2.2">2</tspan></text>
<text x="288.8" y="216.8" font-size="9.2" fill="#222" text-anchor="start" >C-C</text>
<text x="288.8" y="227.6" font-size="9.2" fill="#222" text-anchor="start" >Original</text>
<rect x="378.2" y="257" width="18.7" height="9.100000000000023" fill="url(#go1)"/>
<text x="399.7" y="264.8" font-size="9.2" fill="#222" text-anchor="start" >CF<tspan font-size="6.5" dy="2.2">3</tspan></text>
<rect x="378.2" y="269.3" width="18.7" height="9.099999999999966" fill="url(#gr2)"/>
<text x="399.7" y="277.09999999999997" font-size="9.2" fill="#222" text-anchor="start" >CF<tspan font-size="6.5" dy="2.2">2</tspan></text>
<rect x="378.2" y="281.5" width="18.7" height="9.100000000000023" fill="url(#gg1)"/>
<text x="399.7" y="289.3" font-size="9.2" fill="#222" text-anchor="start" >CF</text>
<rect x="378.2" y="292" width="18.7" height="9.100000000000023" fill="url(#gb2)"/>
<text x="399.7" y="299.8" font-size="9.2" fill="#222" text-anchor="start" >C-C</text>
<path d="M378.2,307 H396.9" stroke="#999" stroke-width="0.7"/>
<text x="399.7" y="310.3" font-size="9.2" fill="#222" text-anchor="start" >Original</text>
<defs><linearGradient id="cbar" x1="0" y1="0" x2="0" y2="1"><stop offset="0" stop-color="#fbfbf0"/><stop offset="0.25" stop-color="#e8c880"/><stop offset="0.5" stop-color="#c07820"/><stop offset="0.72" stop-color="#7a1c08"/><stop offset="0.9" stop-color="#200808"/><stop offset="1" stop-color="#000010"/></linearGradient></defs>
<text x="464.9" y="202.7" font-size="11.5" fill="#222" text-anchor="start" >Before</text>
<text x="464.5" y="278.5" font-size="11.5" fill="#222" text-anchor="start" >After</text>
<defs><linearGradient id="fgbefore" gradientUnits="userSpaceOnUse" x1="525.0" y1="211.0" x2="580.0" y2="241.0"><stop offset="0" stop-color="#6a1a08"/><stop offset="0.35" stop-color="#b04814"/><stop offset="0.6" stop-color="#d88a30"/><stop offset="0.85" stop-color="#e8c060"/><stop offset="1" stop-color="#f0e0a0"/></linearGradient></defs>
<path d="M490.0,228.0 L560.0,194.0 L615.0,224.0 L545.0,258.0 Z" fill="url(#fgbefore)" transform="translate(0,-2)"/>
<path d="M490,227 L545,257 L615,223 L615,226 L545,261 L490,230.5 Z" fill="#5a1c0a" opacity="0.85"/>
<g><path d="M557.8,194.7 L559.8,191.2 L561.9,194.7 Z" fill="#81220b"/><path d="M561.7,195.7 L562.9,192.9 L564.2,195.7 Z" fill="#c85e1b"/><path d="M555.5,195.9 L557.6,190.1 L559.8,195.9 Z" fill="#b64614"/><path d="M558.7,196.8 L560.9,194.0 L563.2,196.8 Z" fill="#b24213"/><path d="M554.5,196.9 L556.7,192.3 L558.8,196.9 Z" fill="#af3e12"/><path d="M563.6,197.3 L565.1,195.0 L566.5,197.3 Z" fill="#d36c1f"/><path d="M560.9,197.7 L562.3,193.2 L563.8,197.7 Z" fill="#bf5217"/><path d="M551.8,197.9 L553.5,195.7 L555.2,197.9 Z" fill="#ab3910"/><path d="M555.2,198.3 L557.4,195.6 L559.5,198.3 Z" fill="#b94a15"/><path d="M562.7,198.4 L564.6,192.9 L566.6,198.4 Z" fill="#aa3710"/><path d="M550.1,199.3 L552.6,197.0 L555.1,199.3 Z" fill="#902a0d"/><path d="M552.7,199.3 L554.4,193.7 L556.1,199.3 Z" fill="#c85e1b"/><path d="M558.2,200.0 L560.4,196.9 L562.5,200.0 Z" fill="#a2330f"/><path d="M565.9,200.0 L567.3,197.0 L568.7,200.0 Z" fill="#b24112"/><path d="M560.7,200.2 L562.6,195.0 L564.5,200.2 Z" fill="#b74814"/><path d="M548.7,200.3 L551.0,197.3 L553.3,200.3 Z" fill="#ac3a11"/><path d="M555.7,200.4 L557.9,197.1 L560.1,200.4 Z" fill="#dd872b"/><path d="M562.3,200.4 L564.4,195.7 L566.5,200.4 Z" fill="#bb4d16"/><path d="M549.5,200.7 L552.0,196.0 L554.5,200.7 Z" fill="#982e0e"/><path d="M545.0,200.7 L546.8,198.3 L548.5,200.7 Z" fill="#791e0a"/><path d="M565.2,200.9 L567.2,197.0 L569.3,200.9 Z" fill="#af3e11"/><path d="M552.4,201.0 L553.7,197.8 L555.0,201.0 Z" fill="#a7350f"/><path d="M554.5,201.0 L556.4,197.2 L558.4,201.0 Z" fill="#9d300e"/><path d="M570.2,201.1 L571.7,197.9 L573.3,201.1 Z" fill="#c35819"/><path d="M546.8,201.6 L548.9,199.2 L550.9,201.6 Z" fill="#ae3c11"/><path d="M562.0,201.9 L564.2,198.5 L566.4,201.9 Z" fill="#af3e12"/><path d="M559.4,201.9 L560.9,196.6 L562.5,201.9 Z" fill="#ba4c15"/><path d="M544.7,202.0 L546.3,197.4 L547.9,202.0 Z" fill="#9b2f0e"/><path d="M559.3,202.3 L561.7,197.7 L564.1,202.3 Z" fill="#a0320e"/><path d="M570.4,202.4 L572.5,200.2 L574.7,202.4 Z" fill="#e19532"/><path d="M567.1,202.4 L569.6,196.8 L572.0,202.4 Z" fill="#ca601b"/><path d="M572.6,202.6 L575.2,198.7 L577.8,202.6 Z" fill="#e6a439"/><path d="M545.8,202.7 L547.2,197.4 L548.5,202.7 Z" fill="#c75c1a"/><path d="M555.2,202.8 L557.2,197.6 L559.1,202.8 Z" fill="#bb4e16"/><path d="M558.2,202.8 L560.4,197.6 L562.7,202.8 Z" fill="#952c0d"/><path d="M565.5,203.0 L567.7,198.4 L570.0,203.0 Z" fill="#d67120"/><path d="M553.5,203.0 L554.7,198.8 L555.9,203.0 Z" fill="#bd5017"/><path d="M542.6,203.0 L544.3,199.4 L546.1,203.0 Z" fill="#b34313"/><path d="M549.2,203.0 L551.7,198.4 L554.3,203.0 Z" fill="#a4340f"/><path d="M539.0,203.6 L540.8,200.2 L542.6,203.6 Z" fill="#8d280c"/><path d="M569.7,203.6 L571.7,200.7 L573.7,203.6 Z" fill="#de8b2d"/><path d="M562.3,203.7 L564.2,198.1 L566.1,203.7 Z" fill="#ad3b11"/><path d="M548.0,203.7 L549.5,200.9 L551.0,203.7 Z" fill="#b74815"/><path d="M553.4,203.9 L555.8,198.8 L558.2,203.9 Z" fill="#a5340f"/><path d="M575.1,204.0 L576.6,199.2 L578.0,204.0 Z" fill="#b14012"/><path d="M551.0,204.2 L552.8,201.3 L554.6,204.2 Z" fill="#aa3710"/><path d="M567.2,204.3 L568.9,200.7 L570.6,204.3 Z" fill="#d97a25"/><path d="M557.8,204.8 L559.7,199.8 L561.7,204.8 Z" fill="#a8360f"/><path d="M545.5,204.8 L547.7,199.2 L549.8,204.8 Z" fill="#8a270c"/><path d="M543.7,204.9 L545.2,200.6 L546.6,204.9 Z" fill="#ae3d11"/><path d="M570.5,204.9 L572.5,201.0 L574.4,204.9 Z" fill="#d67120"/><path d="M572.5,205.2 L574.7,199.3 L576.9,205.2 Z" fill="#d67120"/><path d="M570.9,205.3 L572.7,199.6 L574.6,205.3 Z" fill="#dd862a"/><path d="M569.8,205.3 L571.2,200.5 L572.7,205.3 Z" fill="#de8a2c"/><path d="M542.1,205.3 L543.3,200.9 L544.6,205.3 Z" fill="#c35719"/><path d="M536.3,205.4 L538.2,199.9 L540.1,205.4 Z" fill="#912a0d"/><path d="M561.1,205.5 L563.1,201.3 L565.0,205.5 Z" fill="#9f310e"/><path d="M577.6,205.5 L579.5,201.0 L581.5,205.5 Z" fill="#dc852a"/><path d="M565.1,205.6 L567.0,201.2 L568.9,205.6 Z" fill="#c25618"/><path d="M555.2,205.8 L556.5,200.9 L557.9,205.8 Z" fill="#8a270c"/><path d="M549.3,205.8 L551.5,203.0 L553.7,205.8 Z" fill="#ab3910"/><path d="M561.0,205.8 L562.7,200.0 L564.3,205.8 Z" fill="#b34313"/><path d="M559.5,206.1 L561.1,200.2 L562.7,206.1 Z" fill="#a7350f"/><path d="M565.1,206.1 L567.2,203.8 L569.3,206.1 Z" fill="#d87723"/><path d="M535.4,206.2 L536.8,203.1 L538.2,206.2 Z" fill="#902a0d"/><path d="M542.1,206.2 L544.5,204.0 L547.0,206.2 Z" fill="#932b0d"/><path d="M555.8,206.3 L558.2,202.9 L560.6,206.3 Z" fill="#b84915"/><path d="M551.0,206.4 L552.7,200.6 L554.3,206.4 Z" fill="#942c0d"/><path d="M539.5,206.4 L541.4,204.0 L543.3,206.4 Z" fill="#711a09"/><path d="M575.8,206.7 L577.3,204.7 L578.8,206.7 Z" fill="#c85e1b"/><path d="M579.2,206.8 L581.5,202.6 L583.9,206.8 Z" fill="#d46e1f"/><path d="M533.6,206.9 L534.8,202.6 L536.0,206.9 Z" fill="#9d300e"/><path d="M548.2,206.9 L550.6,201.6 L553.1,206.9 Z" fill="#992e0e"/><path d="M542.4,207.2 L544.7,204.9 L547.1,207.2 Z" fill="#a3330f"/><path d="M568.0,207.2 L569.5,204.8 L571.0,207.2 Z" fill="#c65c1a"/><path d="M559.5,207.3 L560.9,205.1 L562.3,207.3 Z" fill="#ae3c11"/><path d="M577.4,207.3 L578.9,203.1 L580.5,207.3 Z" fill="#ca611b"/><path d="M566.2,207.4 L568.0,204.0 L569.7,207.4 Z" fill="#cd641c"/><path d="M544.5,207.4 L546.9,202.4 L549.4,207.4 Z" fill="#8d280c"/><path d="M560.4,207.5 L562.1,203.5 L563.9,207.5 Z" fill="#d56f1f"/><path d="M548.2,207.5 L550.5,202.3 L552.8,207.5 Z" fill="#ac3a11"/><path d="M572.2,207.6 L573.5,205.3 L574.7,207.6 Z" fill="#d67221"/><path d="M581.3,207.7 L582.9,204.6 L584.5,207.7 Z" fill="#e5a037"/><path d="M547.9,207.7 L549.8,204.6 L551.7,207.7 Z" fill="#a8360f"/><path d="M537.6,208.0 L539.7,203.9 L541.8,208.0 Z" fill="#a8360f"/><path d="M567.6,208.2 L569.0,202.8 L570.5,208.2 Z" fill="#d87924"/><path d="M562.5,208.3 L564.5,205.8 L566.5,208.3 Z" fill="#db8228"/><path d="M572.1,208.4 L574.0,204.5 L575.9,208.4 Z" fill="#dd862a"/><path d="M540.9,208.4 L542.9,205.0 L544.8,208.4 Z" fill="#c55a1a"/><path d="M556.6,208.4 L557.9,203.5 L559.3,208.4 Z" fill="#d67221"/><path d="M543.7,208.5 L545.0,202.7 L546.3,208.5 Z" fill="#942c0d"/><path d="M553.2,208.5 L555.5,202.9 L557.9,208.5 Z" fill="#ba4c15"/><path d="M534.9,208.6 L537.0,205.4 L539.0,208.6 Z" fill="#972d0d"/><path d="M532.7,208.7 L534.0,205.6 L535.3,208.7 Z" fill="#9a2f0e"/><path d="M529.7,208.8 L531.1,206.2 L532.5,208.8 Z" fill="#88260c"/><path d="M579.5,208.9 L581.4,205.5 L583.3,208.9 Z" fill="#db8228"/><path d="M550.2,209.2 L551.6,203.7 L553.0,209.2 Z" fill="#9b2f0e"/><path d="M575.8,209.3 L577.9,204.4 L579.9,209.3 Z" fill="#cc631c"/><path d="M533.4,209.3 L535.7,204.9 L538.0,209.3 Z" fill="#b03f12"/><path d="M564.1,209.4 L565.8,206.7 L567.4,209.4 Z" fill="#d26b1e"/><path d="M552.5,209.4 L553.9,206.0 L555.2,209.4 Z" fill="#c25719"/><path d="M571.7,209.5 L573.7,207.3 L575.7,209.5 Z" fill="#d26b1e"/><path d="M537.2,209.5 L539.7,206.7 L542.1,209.5 Z" fill="#7d200a"/><path d="M579.0,209.7 L580.8,205.1 L582.6,209.7 Z" fill="#da7f27"/><path d="M560.9,209.8 L562.2,204.9 L563.6,209.8 Z" fill="#d26b1e"/><path d="M583.8,209.8 L585.1,205.9 L586.3,209.8 Z" fill="#ebb84f"/><path d="M561.9,209.8 L564.2,206.0 L566.5,209.8 Z" fill="#dc852a"/><path d="M545.6,209.9 L547.0,204.3 L548.3,209.9 Z" fill="#9b2f0e"/><path d="M526.3,209.9 L528.8,206.2 L531.4,209.9 Z" fill="#982e0e"/><path d="M539.9,210.0 L541.7,208.0 L543.4,210.0 Z" fill="#9f310e"/><path d="M542.8,210.0 L544.6,206.0 L546.3,210.0 Z" fill="#992e0e"/><path d="M557.7,210.1 L559.4,204.1 L561.0,210.1 Z" fill="#da7d26"/><path d="M568.4,210.1 L570.8,204.7 L573.2,210.1 Z" fill="#d67221"/><path d="M588.1,210.2 L589.3,206.3 L590.6,210.2 Z" fill="#e49d35"/><path d="M530.4,210.2 L532.1,207.9 L533.8,210.2 Z" fill="#81220b"/><path d="M554.9,210.4 L556.5,207.1 L558.0,210.4 Z" fill="#c25618"/><path d="M581.7,210.4 L583.2,207.3 L584.6,210.4 Z" fill="#dd872b"/><path d="M552.9,210.5 L555.0,206.8 L557.2,210.5 Z" fill="#ce661d"/><path d="M536.7,210.6 L538.6,206.5 L540.5,210.6 Z" fill="#952c0d"/><path d="M573.6,210.8 L574.9,207.6 L576.2,210.8 Z" fill="#c45919"/><path d="M563.8,210.8 L566.3,207.1 L568.8,210.8 Z" fill="#c55a1a"/><path d="M543.5,210.8 L544.8,205.7 L546.1,210.8 Z" fill="#a5340f"/><path d="M559.3,210.9 L561.6,207.7 L563.9,210.9 Z" fill="#d56f1f"/><path d="M549.2,210.9 L550.5,207.0 L551.7,210.9 Z" fill="#9b2f0e"/><path d="M537.2,211.1 L539.7,208.8 L542.1,211.1 Z" fill="#8b270c"/><path d="M587.3,211.1 L589.1,207.6 L590.8,211.1 Z" fill="#e8ab3e"/><path d="M550.8,211.2 L552.3,208.8 L553.8,211.2 Z" fill="#c95f1b"/><path d="M574.7,211.3 L576.7,209.1 L578.7,211.3 Z" fill="#dc852a"/><path d="M546.4,211.4 L549.0,206.3 L551.6,211.4 Z" fill="#d67221"/><path d="M579.0,211.4 L581.0,209.3 L583.1,211.4 Z" fill="#e8ad41"/><path d="M566.6,211.4 L568.8,206.9 L570.9,211.4 Z" fill="#c15518"/><path d="M583.5,211.5 L584.9,208.6 L586.2,211.5 Z" fill="#efcc69"/><path d="M525.1,211.6 L526.5,209.3 L527.9,211.6 Z" fill="#9c300e"/><path d="M533.5,211.6 L535.1,208.5 L536.6,211.6 Z" fill="#912a0d"/><path d="M569.5,211.7 L571.0,208.4 L572.5,211.7 Z" fill="#bd5017"/><path d="M581.6,211.8 L582.9,209.1 L584.1,211.8 Z" fill="#e39934"/><path d="M556.3,211.8 L558.7,207.9 L561.1,211.8 Z" fill="#e19632"/><path d="M541.7,211.8 L542.9,206.0 L544.1,211.8 Z" fill="#b14012"/><path d="M522.7,211.9 L525.0,208.4 L527.4,211.9 Z" fill="#972d0d"/><path d="M547.7,212.1 L550.2,206.8 L552.7,212.1 Z" fill="#b64714"/><path d="M575.8,212.1 L577.8,207.7 L579.8,212.1 Z" fill="#eab54b"/><path d="M530.5,212.1 L532.7,208.3 L534.8,212.1 Z" fill="#88260c"/><path d="M529.8,212.1 L531.4,209.6 L533.0,212.1 Z" fill="#a3330f"/><path d="M552.8,212.1 L555.1,206.8 L557.3,212.1 Z" fill="#c35819"/><path d="M584.0,212.2 L586.6,209.6 L589.1,212.2 Z" fill="#e09230"/><path d="M528.3,212.2 L529.9,207.2 L531.6,212.2 Z" fill="#7f210b"/><path d="M589.4,212.2 L591.7,209.5 L593.9,212.2 Z" fill="#e6a439"/><path d="M540.7,212.2 L542.7,207.9 L544.6,212.2 Z" fill="#ae3c11"/><path d="M567.2,212.4 L569.7,207.7 L572.3,212.4 Z" fill="#d36c1f"/><path d="M573.0,212.4 L574.7,208.5 L576.4,212.4 Z" fill="#e09230"/><path d="M569.7,212.6 L571.4,208.6 L573.2,212.6 Z" fill="#e29833"/><path d="M559.2,212.7 L561.6,208.7 L564.0,212.7 Z" fill="#e09130"/><path d="M538.0,212.7 L539.3,208.0 L540.6,212.7 Z" fill="#b34313"/><path d="M582.2,212.9 L583.9,207.8 L585.6,212.9 Z" fill="#f0d173"/><path d="M562.5,212.9 L564.8,210.5 L567.0,212.9 Z" fill="#cc641c"/><path d="M545.6,213.1 L547.0,208.2 L548.3,213.1 Z" fill="#922b0d"/><path d="M528.1,213.2 L529.5,210.1 L530.8,213.2 Z" fill="#982e0d"/><path d="M559.5,213.3 L561.9,211.1 L564.3,213.3 Z" fill="#d77321"/><path d="M525.9,213.4 L527.5,208.7 L529.0,213.4 Z" fill="#ae3c11"/><path d="M521.4,213.4 L523.1,208.8 L524.8,213.4 Z" fill="#80220b"/><path d="M572.6,213.4 L574.3,210.1 L576.0,213.4 Z" fill="#e29733"/><path d="M558.1,213.5 L559.7,210.8 L561.4,213.5 Z" fill="#d36c1f"/><path d="M575.1,213.5 L576.7,207.9 L578.4,213.5 Z" fill="#ebbb53"/><path d="M533.3,213.5 L534.7,208.2 L536.1,213.5 Z" fill="#992e0e"/><path d="M591.1,213.5 L593.4,210.6 L595.7,213.5 Z" fill="#e7a73a"/><path d="M539.8,213.6 L541.2,208.1 L542.6,213.6 Z" fill="#d1691e"/><path d="M545.3,213.7 L547.5,207.7 L549.7,213.7 Z" fill="#b84915"/><path d="M551.8,213.7 L554.0,208.8 L556.2,213.7 Z" fill="#c95f1b"/><path d="M579.2,213.8 L580.8,209.2 L582.4,213.8 Z" fill="#f3da8d"/><path d="M544.5,213.9 L545.9,208.2 L547.2,213.9 Z" fill="#c65b1a"/><path d="M557.3,214.0 L559.8,208.6 L562.2,214.0 Z" fill="#b44413"/><path d="M519.7,214.0 L521.1,208.4 L522.6,214.0 Z" fill="#81220b"/><path d="M587.7,214.1 L589.6,211.4 L591.5,214.1 Z" fill="#e7a93b"/><path d="M568.9,214.1 L570.2,210.0 L571.5,214.1 Z" fill="#cd641c"/><path d="M539.6,214.2 L542.0,209.3 L544.4,214.2 Z" fill="#84240b"/><path d="M577.4,214.3 L579.4,211.0 L581.5,214.3 Z" fill="#ebba51"/><path d="M553.0,214.3 L555.4,210.0 L557.8,214.3 Z" fill="#cd641c"/><path d="M592.0,214.4 L593.6,209.3 L595.2,214.4 Z" fill="#de8a2c"/><path d="M520.5,214.5 L523.1,208.8 L525.7,214.5 Z" fill="#641408"/><path d="M564.8,214.5 L566.6,211.0 L568.4,214.5 Z" fill="#cc631c"/><path d="M537.1,214.5 L538.6,208.6 L540.2,214.5 Z" fill="#932b0d"/><path d="M580.1,214.6 L582.5,211.9 L584.9,214.6 Z" fill="#efce6b"/><path d="M585.4,214.6 L587.6,210.5 L589.8,214.6 Z" fill="#f3db8f"/><path d="M522.3,214.6 L524.5,210.5 L526.7,214.6 Z" fill="#83230b"/><path d="M528.6,214.6 L530.9,211.9 L533.2,214.6 Z" fill="#86250b"/><path d="M561.5,214.6 L563.3,209.0 L565.2,214.6 Z" fill="#b44413"/><path d="M595.9,214.6 L597.5,209.9 L599.1,214.6 Z" fill="#f5e2a4"/><path d="M544.3,214.7 L546.8,209.7 L549.4,214.7 Z" fill="#b14012"/><path d="M530.9,214.8 L532.7,210.6 L534.5,214.8 Z" fill="#a6350f"/><path d="M552.6,214.8 L554.6,212.1 L556.6,214.8 Z" fill="#d97b25"/><path d="M573.2,214.9 L574.7,209.2 L576.1,214.9 Z" fill="#dc8329"/><path d="M519.0,214.9 L520.3,210.9 L521.6,214.9 Z" fill="#962d0d"/><path d="M579.7,215.0 L581.3,213.0 L582.8,215.0 Z" fill="#e19632"/><path d="M567.6,215.1 L569.9,212.7 L572.3,215.1 Z" fill="#d97c25"/><path d="M523.6,215.1 L525.6,210.4 L527.5,215.1 Z" fill="#ad3c11"/><path d="M549.9,215.2 L552.3,212.3 L554.7,215.2 Z" fill="#c15418"/><path d="M546.0,215.3 L547.6,213.1 L549.2,215.3 Z" fill="#d97a25"/><path d="M586.3,215.5 L588.0,209.8 L589.7,215.5 Z" fill="#e19431"/><path d="M585.0,215.6 L586.4,210.3 L587.9,215.6 Z" fill="#e29833"/><path d="M555.9,215.6 L557.5,211.9 L559.1,215.6 Z" fill="#c9601b"/><path d="M574.6,215.7 L577.2,211.5 L579.8,215.7 Z" fill="#eab449"/><path d="M592.0,215.7 L594.2,212.1 L596.4,215.7 Z" fill="#ecbf58"/><path d="M559.2,215.7 L561.0,212.7 L562.9,215.7 Z" fill="#d67220"/><path d="M535.8,215.8 L538.3,211.5 L540.9,215.8 Z" fill="#952c0d"/><path d="M543.0,215.9 L544.8,212.9 L546.6,215.9 Z" fill="#ab3910"/><path d="M597.7,216.0 L599.3,213.2 L600.9,216.0 Z" fill="#eab74d"/><path d="M551.0,216.0 L552.4,213.6 L553.8,216.0 Z" fill="#d1691e"/><path d="M590.9,216.0 L592.4,211.5 L593.8,216.0 Z" fill="#f5e2a4"/><path d="M532.5,216.0 L534.3,212.7 L536.0,216.0 Z" fill="#ab3810"/><path d="M548.3,216.0 L550.2,210.5 L552.1,216.0 Z" fill="#cb621c"/><path d="M585.5,216.1 L587.5,212.3 L589.6,216.1 Z" fill="#e39d35"/><path d="M528.7,216.1 L531.2,212.2 L533.6,216.1 Z" fill="#7a1f0a"/><path d="M567.7,216.1 L570.1,212.6 L572.5,216.1 Z" fill="#e8aa3c"/><path d="M514.9,216.2 L517.1,210.2 L519.3,216.2 Z" fill="#982e0e"/><path d="M565.0,216.2 L566.9,211.1 L568.8,216.2 Z" fill="#e19431"/><path d="M574.1,216.3 L575.8,213.8 L577.6,216.3 Z" fill="#e7a73a"/><path d="M556.2,216.4 L557.5,210.7 L558.7,216.4 Z" fill="#a3330f"/><path d="M518.0,216.4 L519.9,212.5 L521.7,216.4 Z" fill="#ae3c11"/><path d="M566.3,216.4 L568.5,213.3 L570.8,216.4 Z" fill="#df8e2e"/><path d="M578.6,216.5 L581.0,212.7 L583.5,216.5 Z" fill="#ebbb52"/><path d="M522.5,216.5 L524.9,210.8 L527.3,216.5 Z" fill="#c55a19"/><path d="M559.5,216.6 L561.1,213.9 L562.7,216.6 Z" fill="#cb621c"/><path d="M563.7,216.6 L566.1,213.5 L568.4,216.6 Z" fill="#c35819"/><path d="M512.8,216.6 L515.0,211.5 L517.2,216.6 Z" fill="#7c200a"/><path d="M552.3,216.7 L554.1,212.4 L555.9,216.7 Z" fill="#c25618"/><path d="M531.4,216.8 L533.9,211.4 L536.4,216.8 Z" fill="#992e0e"/><path d="M528.4,216.9 L530.1,213.9 L531.8,216.9 Z" fill="#902a0d"/><path d="M534.5,216.9 L537.0,214.6 L539.5,216.9 Z" fill="#b34313"/><path d="M581.1,216.9 L583.5,213.2 L585.8,216.9 Z" fill="#e9af43"/><path d="M572.7,216.9 L574.0,211.8 L575.4,216.9 Z" fill="#e49d36"/><path d="M598.7,217.0 L600.8,213.9 L602.8,217.0 Z" fill="#f9f0ce"/><path d="M539.8,217.2 L541.1,213.4 L542.3,217.2 Z" fill="#c65c1a"/><path d="M546.4,217.3 L548.3,212.7 L550.2,217.3 Z" fill="#ce661d"/><path d="M520.7,217.3 L523.3,214.6 L525.9,217.3 Z" fill="#86250b"/><path d="M544.9,217.4 L546.2,211.8 L547.5,217.4 Z" fill="#cb621c"/><path d="M579.8,217.4 L582.0,211.6 L584.1,217.4 Z" fill="#e29733"/><path d="M593.7,217.5 L595.0,215.1 L596.3,217.5 Z" fill="#f1d379"/><path d="M518.2,217.5 L519.5,212.2 L520.8,217.5 Z" fill="#a0320e"/><path d="M572.7,217.5 L574.7,213.9 L576.7,217.5 Z" fill="#e8ac3f"/><path d="M575.8,217.6 L578.3,211.7 L580.8,217.6 Z" fill="#da7c26"/><path d="M594.1,217.6 L595.8,213.8 L597.5,217.6 Z" fill="#ebb951"/><path d="M541.8,217.7 L543.5,213.3 L545.3,217.7 Z" fill="#d97c25"/><path d="M587.5,217.8 L589.0,215.4 L590.5,217.8 Z" fill="#e6a63a"/><path d="M554.7,217.8 L556.9,212.6 L559.1,217.8 Z" fill="#c25618"/><path d="M576.9,217.9 L579.5,212.0 L582.0,217.9 Z" fill="#e09330"/><path d="M513.2,217.9 L515.5,213.7 L517.9,217.9 Z" fill="#6e1909"/><path d="M599.3,217.9 L600.7,215.2 L602.0,217.9 Z" fill="#f9efcb"/><path d="M557.3,217.9 L559.9,215.2 L562.5,217.9 Z" fill="#b84a15"/><path d="M511.7,218.0 L513.7,213.2 L515.6,218.0 Z" fill="#972d0d"/><path d="M534.1,218.0 L536.5,214.3 L538.9,218.0 Z" fill="#ae3c11"/><path d="M546.0,218.0 L547.7,212.2 L549.3,218.0 Z" fill="#d67120"/><path d="M522.9,218.1 L525.3,214.7 L527.6,218.1 Z" fill="#a8360f"/><path d="M565.1,218.1 L567.2,214.6 L569.2,218.1 Z" fill="#e39b35"/><path d="M519.9,218.1 L522.3,214.7 L524.7,218.1 Z" fill="#721b09"/><path d="M523.8,218.1 L526.4,215.7 L529.0,218.1 Z" fill="#751c09"/><path d="M540.2,218.1 L541.6,214.6 L543.0,218.1 Z" fill="#ba4b15"/><path d="M583.8,218.2 L585.4,214.7 L587.0,218.2 Z" fill="#ebb950"/><path d="M596.4,218.2 L598.0,212.5 L599.6,218.2 Z" fill="#f3dc93"/><path d="M584.8,218.3 L587.2,213.8 L589.6,218.3 Z" fill="#e5a137"/><path d="M559.5,218.4 L561.4,215.1 L563.3,218.4 Z" fill="#d0681d"/><path d="M530.1,218.4 L531.9,213.2 L533.7,218.4 Z" fill="#942c0d"/><path d="M590.8,218.5 L592.7,216.1 L594.5,218.5 Z" fill="#eec763"/><path d="M560.8,218.6 L562.6,215.4 L564.3,218.6 Z" fill="#dc852a"/><path d="M568.7,218.7 L570.9,214.8 L573.2,218.7 Z" fill="#e39b35"/><path d="M544.5,218.8 L545.9,216.5 L547.2,218.8 Z" fill="#c65b1a"/><path d="M550.6,218.8 L552.6,216.4 L554.5,218.8 Z" fill="#a9360f"/><path d="M507.0,218.9 L509.3,216.9 L511.5,218.9 Z" fill="#741c09"/><path d="M513.2,219.0 L514.9,215.5 L516.6,219.0 Z" fill="#701a09"/><path d="M533.4,219.0 L534.9,217.0 L536.4,219.0 Z" fill="#a3330f"/><path d="M588.5,219.1 L589.8,213.5 L591.2,219.1 Z" fill="#ebba51"/><path d="M562.7,219.1 L565.1,216.4 L567.6,219.1 Z" fill="#e9af43"/><path d="M579.0,219.2 L580.6,214.2 L582.3,219.2 Z" fill="#d77422"/><path d="M596.5,219.2 L598.5,216.4 L600.5,219.2 Z" fill="#faf2d2"/><path d="M582.5,219.2 L584.1,215.0 L585.7,219.2 Z" fill="#ecbe57"/><path d="M551.9,219.2 L554.2,216.4 L556.5,219.2 Z" fill="#b94b15"/><path d="M576.6,219.3 L578.3,216.6 L580.1,219.3 Z" fill="#de8b2d"/><path d="M557.4,219.3 L558.7,216.2 L560.0,219.3 Z" fill="#dc8329"/><path d="M539.7,219.3 L541.5,217.1 L543.3,219.3 Z" fill="#c15518"/><path d="M591.4,219.4 L593.3,214.2 L595.2,219.4 Z" fill="#f3dc91"/><path d="M521.5,219.4 L524.0,216.7 L526.6,219.4 Z" fill="#932b0d"/><path d="M527.6,219.5 L530.0,213.7 L532.4,219.5 Z" fill="#7c200a"/><path d="M535.5,219.5 L537.6,216.0 L539.7,219.5 Z" fill="#d36c1e"/><path d="M529.3,219.5 L530.8,217.1 L532.2,219.5 Z" fill="#932b0d"/><path d="M584.9,219.7 L587.2,216.2 L589.5,219.7 Z" fill="#ebbb52"/><path d="M594.1,219.7 L596.6,214.5 L599.2,219.7 Z" fill="#f7e9b8"/><path d="M546.4,219.7 L548.3,216.4 L550.1,219.7 Z" fill="#9a2f0e"/><path d="M570.8,219.8 L572.6,213.9 L574.3,219.8 Z" fill="#db8228"/><path d="M600.3,219.8 L602.0,214.7 L603.7,219.8 Z" fill="#e5a137"/><path d="M602.9,219.8 L604.4,214.9 L606.0,219.8 Z" fill="#f1d680"/><path d="M567.4,219.8 L569.1,215.5 L570.8,219.8 Z" fill="#e49f36"/><path d="M531.6,219.9 L533.9,217.7 L536.1,219.9 Z" fill="#942c0d"/><path d="M507.2,219.9 L509.1,214.8 L511.0,219.9 Z" fill="#7d200a"/><path d="M525.7,219.9 L527.8,216.4 L530.0,219.9 Z" fill="#82230b"/><path d="M558.9,220.0 L561.4,218.0 L563.8,220.0 Z" fill="#df8e2e"/><path d="M516.6,220.0 L518.9,215.5 L521.2,220.0 Z" fill="#6b1708"/><path d="M538.5,220.1 L540.4,216.2 L542.3,220.1 Z" fill="#c65b1a"/><path d="M576.8,220.1 L578.2,214.2 L579.6,220.1 Z" fill="#da7f27"/><path d="M597.7,220.1 L599.7,214.3 L601.6,220.1 Z" fill="#e8ae41"/><path d="M564.7,220.1 L566.6,217.1 L568.4,220.1 Z" fill="#e8ac3e"/><path d="M547.6,220.3 L549.8,215.3 L552.0,220.3 Z" fill="#b54614"/><path d="M541.7,220.4 L543.8,217.4 L545.9,220.4 Z" fill="#cd651d"/><path d="M584.2,220.4 L586.7,216.3 L589.3,220.4 Z" fill="#f0d171"/><path d="M514.3,220.4 L515.6,217.5 L517.0,220.4 Z" fill="#a9360f"/><path d="M509.9,220.4 L511.8,215.6 L513.7,220.4 Z" fill="#a2330f"/><path d="M528.4,220.5 L530.6,215.3 L532.8,220.5 Z" fill="#c35819"/><path d="M572.5,220.5 L573.7,217.0 L574.9,220.5 Z" fill="#d97a24"/><path d="M554.0,220.6 L556.4,216.1 L558.7,220.6 Z" fill="#dd892c"/><path d="M531.0,220.8 L533.0,215.6 L535.0,220.8 Z" fill="#be5117"/><path d="M603.2,220.8 L605.8,215.6 L608.4,220.8 Z" fill="#efcf6d"/><path d="M580.4,220.8 L581.6,217.2 L582.9,220.8 Z" fill="#da7f27"/><path d="M551.1,220.8 L552.6,216.7 L554.1,220.8 Z" fill="#c05318"/><path d="M588.8,220.9 L590.1,216.8 L591.3,220.9 Z" fill="#efce6c"/><path d="M582.3,220.9 L584.8,216.1 L587.3,220.9 Z" fill="#f0d274"/><path d="M534.6,220.9 L537.0,218.1 L539.4,220.9 Z" fill="#b14012"/><path d="M561.0,220.9 L563.5,216.1 L566.0,220.9 Z" fill="#eab449"/><path d="M544.0,221.0 L545.7,218.6 L547.3,221.0 Z" fill="#c25618"/><path d="M569.5,221.0 L571.3,217.9 L573.0,221.0 Z" fill="#df8e2e"/><path d="M524.6,221.2 L526.0,218.6 L527.4,221.2 Z" fill="#9b2f0e"/><path d="M566.7,221.2 L568.0,216.6 L569.3,221.2 Z" fill="#ebb84f"/><path d="M556.8,221.2 L558.1,215.9 L559.4,221.2 Z" fill="#d77321"/><path d="M528.6,221.3 L530.9,216.1 L533.2,221.3 Z" fill="#741c09"/><path d="M603.2,221.3 L604.8,217.7 L606.4,221.3 Z" fill="#f1d57d"/><path d="M519.2,221.3 L520.8,217.5 L522.4,221.3 Z" fill="#8c280c"/><path d="M599.6,221.3 L601.4,215.5 L603.3,221.3 Z" fill="#ebbc54"/><path d="M583.3,221.4 L585.4,218.0 L587.5,221.4 Z" fill="#ebba52"/><path d="M515.0,221.4 L516.2,219.2 L517.4,221.4 Z" fill="#b03f12"/><path d="M551.4,221.5 L553.7,218.4 L556.1,221.5 Z" fill="#d26c1e"/><path d="M592.9,221.5 L595.3,216.2 L597.8,221.5 Z" fill="#f4df9a"/><path d="M533.1,221.5 L535.6,216.1 L538.0,221.5 Z" fill="#d87723"/><path d="M558.8,221.5 L560.7,218.9 L562.5,221.5 Z" fill="#dc8429"/><path d="M505.7,221.5 L507.3,217.1 L509.0,221.5 Z" fill="#7a1f0a"/><path d="M508.6,221.6 L509.9,215.8 L511.1,221.6 Z" fill="#731b09"/><path d="M565.0,221.7 L567.3,216.0 L569.6,221.7 Z" fill="#e9b247"/><path d="M502.8,221.7 L505.1,218.6 L507.5,221.7 Z" fill="#741c09"/><path d="M519.0,221.8 L521.6,217.7 L524.2,221.8 Z" fill="#b44413"/><path d="M570.3,221.8 L572.7,215.9 L575.1,221.8 Z" fill="#cc641c"/><path d="M609.3,221.8 L610.8,217.9 L612.3,221.8 Z" fill="#faf2d2"/><path d="M538.5,221.9 L541.0,218.8 L543.6,221.9 Z" fill="#d46e1f"/><path d="M592.1,222.0 L594.1,217.8 L596.0,222.0 Z" fill="#e5a138"/><path d="M547.1,222.0 L548.8,218.7 L550.5,222.0 Z" fill="#a4340f"/><path d="M606.8,222.0 L609.2,218.7 L611.6,222.0 Z" fill="#faf2d2"/><path d="M603.8,222.1 L606.1,219.4 L608.5,222.1 Z" fill="#ebbb53"/><path d="M576.2,222.1 L577.7,217.6 L579.3,222.1 Z" fill="#e8ae42"/><path d="M597.4,222.2 L599.2,218.1 L600.9,222.2 Z" fill="#f4de98"/><path d="M561.2,222.2 L562.7,216.4 L564.2,222.2 Z" fill="#df8e2e"/><path d="M506.9,222.2 L509.2,217.5 L511.4,222.2 Z" fill="#b14012"/><path d="M524.9,222.3 L527.4,218.9 L530.0,222.3 Z" fill="#a6350f"/><path d="M548.5,222.3 L550.6,217.9 L552.6,222.3 Z" fill="#ac3910"/><path d="M577.9,222.3 L579.6,219.8 L581.3,222.3 Z" fill="#efce6b"/><path d="M516.6,222.4 L518.9,220.0 L521.2,222.4 Z" fill="#791e0a"/><path d="M505.3,222.5 L507.0,218.2 L508.7,222.5 Z" fill="#6d1809"/><path d="M550.2,222.5 L552.3,217.1 L554.3,222.5 Z" fill="#ca611b"/><path d="M523.4,222.5 L524.9,217.5 L526.3,222.5 Z" fill="#a3330f"/><path d="M512.9,222.5 L514.1,216.7 L515.4,222.5 Z" fill="#6e1909"/><path d="M516.6,222.5 L518.6,218.2 L520.6,222.5 Z" fill="#952c0d"/><path d="M568.9,222.6 L570.9,216.7 L573.0,222.6 Z" fill="#e29933"/><path d="M573.7,222.6 L576.0,220.5 L578.3,222.6 Z" fill="#e29833"/><path d="M600.5,222.6 L602.6,220.3 L604.6,222.6 Z" fill="#f5e3a7"/><path d="M587.3,222.7 L589.2,216.9 L591.1,222.7 Z" fill="#edc25c"/><path d="M544.3,222.8 L546.2,220.0 L548.1,222.8 Z" fill="#c25618"/><path d="M537.3,222.8 L539.0,217.8 L540.6,222.8 Z" fill="#b54514"/><path d="M595.5,222.8 L597.2,217.7 L598.9,222.8 Z" fill="#e8ad40"/><path d="M521.3,222.8 L522.6,217.7 L524.0,222.8 Z" fill="#a0320e"/><path d="M574.9,222.9 L577.0,217.2 L579.1,222.9 Z" fill="#ebbb53"/><path d="M589.0,222.9 L590.2,218.7 L591.4,222.9 Z" fill="#edc45e"/><path d="M580.8,222.9 L582.8,217.8 L584.8,222.9 Z" fill="#ecbd55"/><path d="M499.0,222.9 L500.8,217.6 L502.5,222.9 Z" fill="#82230b"/><path d="M537.1,223.0 L538.5,220.3 L539.9,223.0 Z" fill="#d46d1f"/><path d="M529.7,223.0 L531.0,218.8 L532.4,223.0 Z" fill="#ba4b15"/><path d="M561.7,223.2 L564.0,218.4 L566.4,223.2 Z" fill="#e39a34"/><path d="M554.3,223.2 L556.4,219.8 L558.6,223.2 Z" fill="#d46e1f"/><path d="M541.4,223.3 L543.7,218.6 L546.1,223.3 Z" fill="#b94a15"/><path d="M604.3,223.3 L606.0,220.4 L607.6,223.3 Z" fill="#faf2d2"/><path d="M532.8,223.3 L534.3,219.0 L535.7,223.3 Z" fill="#c75d1a"/><path d="M578.9,223.4 L581.1,220.2 L583.3,223.4 Z" fill="#eeca67"/><path d="M517.0,223.4 L519.3,220.1 L521.7,223.4 Z" fill="#87250c"/><path d="M498.8,223.4 L501.0,218.8 L503.3,223.4 Z" fill="#641408"/><path d="M557.7,223.4 L559.8,219.6 L561.8,223.4 Z" fill="#d26b1e"/><path d="M512.8,223.4 L514.7,218.7 L516.5,223.4 Z" fill="#7e210a"/><path d="M568.9,223.5 L570.6,217.6 L572.3,223.5 Z" fill="#df8d2e"/><path d="M541.0,223.6 L542.6,220.3 L544.2,223.6 Z" fill="#d67120"/><path d="M520.0,223.6 L522.3,218.3 L524.6,223.6 Z" fill="#962d0d"/><path d="M510.1,223.6 L511.8,219.0 L513.4,223.6 Z" fill="#641408"/><path d="M564.8,223.7 L566.5,218.3 L568.1,223.7 Z" fill="#e09130"/><path d="M588.0,223.8 L590.0,219.8 L592.0,223.8 Z" fill="#f2d682"/><path d="M590.2,223.8 L591.5,220.1 L592.9,223.8 Z" fill="#efcb68"/><path d="M515.4,223.8 L517.0,221.5 L518.5,223.8 Z" fill="#9a2f0e"/><path d="M554.2,223.8 L555.6,221.5 L557.0,223.8 Z" fill="#db8027"/><path d="M550.4,223.9 L551.8,218.0 L553.2,223.9 Z" fill="#c25618"/><path d="M571.7,223.9 L574.1,219.7 L576.5,223.9 Z" fill="#e7a83b"/><path d="M612.9,223.9 L614.3,218.6 L615.7,223.9 Z" fill="#faf2d2"/><path d="M597.8,224.0 L599.5,218.8 L601.2,224.0 Z" fill="#f2d98a"/><path d="M507.3,224.0 L509.6,220.9 L511.9,224.0 Z" fill="#a8360f"/><path d="M570.5,224.0 L571.9,221.4 L573.3,224.0 Z" fill="#e5a238"/><path d="M555.1,224.1 L556.9,218.9 L558.8,224.1 Z" fill="#dc8329"/><path d="M607.3,224.1 L608.7,221.8 L610.1,224.1 Z" fill="#f4dd96"/><path d="M576.2,224.2 L578.7,221.0 L581.3,224.2 Z" fill="#ecbd55"/><path d="M546.7,224.2 L548.5,220.6 L550.2,224.2 Z" fill="#d0681e"/><path d="M523.8,224.3 L525.3,219.6 L526.8,224.3 Z" fill="#962d0d"/><path d="M535.0,224.3 L536.3,219.6 L537.5,224.3 Z" fill="#bf5317"/><path d="M606.3,224.3 L607.7,221.3 L609.0,224.3 Z" fill="#faf2d2"/><path d="M537.5,224.3 L539.1,221.3 L540.6,224.3 Z" fill="#c45819"/><path d="M529.8,224.4 L531.3,220.4 L532.7,224.4 Z" fill="#d67220"/><path d="M501.3,224.4 L502.7,222.4 L504.1,224.4 Z" fill="#641408"/><path d="M526.0,224.5 L527.7,222.0 L529.4,224.5 Z" fill="#c15518"/><path d="M531.5,224.5 L533.9,220.0 L536.3,224.5 Z" fill="#ad3b11"/><path d="M585.3,224.5 L587.0,219.8 L588.6,224.5 Z" fill="#e8aa3c"/><path d="M592.4,224.5 L594.7,218.6 L596.9,224.5 Z" fill="#e29732"/><path d="M536.3,224.6 L538.0,222.5 L539.6,224.6 Z" fill="#ad3c11"/><path d="M511.6,224.7 L512.9,219.8 L514.2,224.7 Z" fill="#641408"/><path d="M560.8,224.7 L563.0,219.9 L565.2,224.7 Z" fill="#dc862a"/><path d="M581.0,224.7 L583.6,219.2 L586.2,224.7 Z" fill="#ebbb53"/><path d="M601.0,224.8 L603.2,219.8 L605.4,224.8 Z" fill="#faf2d2"/><path d="M502.5,224.8 L503.9,222.6 L505.3,224.8 Z" fill="#7d200a"/><path d="M497.7,224.8 L499.3,222.8 L500.9,224.8 Z" fill="#6d1809"/><path d="M608.3,225.0 L609.9,221.8 L611.5,225.0 Z" fill="#f9f0ce"/><path d="M529.1,225.0 L530.9,219.5 L532.6,225.0 Z" fill="#b04012"/><path d="M589.9,225.0 L592.3,220.1 L594.6,225.0 Z" fill="#efce6c"/><path d="M596.4,225.1 L598.3,221.2 L600.3,225.1 Z" fill="#f2d682"/><path d="M504.3,225.1 L506.3,220.0 L508.4,225.1 Z" fill="#912a0d"/><path d="M520.8,225.1 L522.1,219.4 L523.5,225.1 Z" fill="#a3330f"/><path d="M541.2,225.2 L543.7,222.9 L546.3,225.2 Z" fill="#bf5317"/><path d="M574.8,225.2 L576.2,221.3 L577.5,225.2 Z" fill="#e5a338"/><path d="M553.3,225.2 L555.4,222.5 L557.6,225.2 Z" fill="#e9af43"/><path d="M521.8,225.4 L523.5,221.8 L525.1,225.4 Z" fill="#942c0d"/><path d="M586.7,225.4 L588.4,222.4 L590.1,225.4 Z" fill="#f3dc91"/><path d="M572.8,225.6 L574.9,219.7 L577.0,225.6 Z" fill="#ecc059"/><path d="M550.5,225.6 L553.0,219.8 L555.6,225.6 Z" fill="#e09130"/><path d="M566.2,225.7 L567.8,220.9 L569.4,225.7 Z" fill="#d87623"/><path d="M569.5,225.7 L571.3,222.0 L573.1,225.7 Z" fill="#eab54a"/><path d="M576.7,225.7 L578.8,220.5 L580.9,225.7 Z" fill="#e19532"/><path d="M597.9,225.7 L600.2,221.1 L602.6,225.7 Z" fill="#f2d98a"/><path d="M601.4,225.7 L603.0,220.3 L604.6,225.7 Z" fill="#f7eabb"/><path d="M516.9,225.8 L519.5,222.5 L522.1,225.8 Z" fill="#a6350f"/><path d="M580.1,225.8 L581.8,222.3 L583.5,225.8 Z" fill="#f9f1cf"/><path d="M561.1,225.8 L562.5,221.2 L564.0,225.8 Z" fill="#db8128"/><path d="M595.8,225.8 L597.5,222.0 L599.2,225.8 Z" fill="#f3db90"/><path d="M530.3,225.8 L532.6,221.8 L534.9,225.8 Z" fill="#89260c"/><path d="M546.1,225.9 L547.9,221.4 L549.7,225.9 Z" fill="#dd862a"/><path d="M541.4,225.9 L543.5,223.8 L545.7,225.9 Z" fill="#b74915"/><path d="M506.9,225.9 L508.7,221.8 L510.6,225.9 Z" fill="#7d200a"/><path d="M564.4,225.9 L566.9,222.9 L569.3,225.9 Z" fill="#e7a73a"/><path d="M525.1,226.0 L526.9,221.0 L528.7,226.0 Z" fill="#c15418"/><path d="M588.2,226.0 L590.2,220.6 L592.1,226.0 Z" fill="#f0d172"/><path d="M559.3,226.0 L560.8,220.2 L562.3,226.0 Z" fill="#db8128"/><path d="M542.0,226.1 L543.7,223.6 L545.3,226.1 Z" fill="#d97c25"/><path d="M548.0,226.1 L550.4,221.4 L552.7,226.1 Z" fill="#e19531"/><path d="M607.3,226.1 L609.8,223.8 L612.3,226.1 Z" fill="#faf2d2"/><path d="M509.2,226.1 L511.5,222.1 L513.9,226.1 Z" fill="#641408"/><path d="M556.5,226.1 L558.6,223.4 L560.7,226.1 Z" fill="#e29732"/><path d="M495.6,226.1 L497.8,220.8 L500.0,226.1 Z" fill="#701a09"/><path d="M512.5,226.2 L515.1,222.0 L517.6,226.2 Z" fill="#88260c"/><path d="M563.0,226.2 L565.3,222.2 L567.6,226.2 Z" fill="#d77623"/><path d="M498.6,226.4 L500.4,221.8 L502.3,226.4 Z" fill="#9e310e"/><path d="M605.1,226.4 L607.3,223.7 L609.5,226.4 Z" fill="#faf2d2"/><path d="M577.6,226.4 L579.1,221.4 L580.5,226.4 Z" fill="#eec763"/><path d="M589.8,226.5 L592.2,221.1 L594.6,226.5 Z" fill="#ecbe56"/><path d="M552.6,226.5 L554.6,222.5 L556.6,226.5 Z" fill="#e5a137"/><path d="M594.6,226.5 L596.6,221.3 L598.6,226.5 Z" fill="#f0d171"/><path d="M602.0,226.6 L603.4,222.8 L604.9,226.6 Z" fill="#faf2d2"/><path d="M510.6,226.7 L512.0,222.7 L513.4,226.7 Z" fill="#641408"/><path d="M531.0,226.7 L533.3,222.3 L535.7,226.7 Z" fill="#b34313"/><path d="M490.9,226.8 L492.8,224.4 L494.7,226.8 Z" fill="#8a270c"/><path d="M535.4,226.8 L536.7,224.7 L537.9,226.8 Z" fill="#952c0d"/><path d="M583.9,226.8 L586.4,221.0 L588.9,226.8 Z" fill="#eab54a"/><path d="M563.0,226.8 L565.5,223.4 L567.9,226.8 Z" fill="#d97c25"/><path d="M567.2,226.9 L568.8,221.6 L570.4,226.9 Z" fill="#ebb950"/><path d="M518.8,226.9 L521.2,222.1 L523.6,226.9 Z" fill="#a5340f"/><path d="M501.9,227.0 L504.1,222.2 L506.4,227.0 Z" fill="#711a09"/><path d="M540.2,227.0 L541.7,224.5 L543.2,227.0 Z" fill="#d26a1e"/><path d="M527.6,227.1 L529.3,221.7 L531.0,227.1 Z" fill="#bf5217"/><path d="M593.1,227.1 L594.5,225.0 L595.9,227.1 Z" fill="#f4e09d"/><path d="M585.8,227.1 L587.2,222.2 L588.6,227.1 Z" fill="#eec763"/><path d="M594.6,227.1 L596.0,222.1 L597.5,227.1 Z" fill="#eec763"/><path d="M500.3,227.1 L501.8,221.9 L503.2,227.1 Z" fill="#641408"/><path d="M522.8,227.1 L524.7,224.4 L526.7,227.1 Z" fill="#ac3a11"/><path d="M537.3,227.2 L539.7,221.5 L542.1,227.2 Z" fill="#9d300e"/><path d="M516.5,227.3 L518.0,222.0 L519.6,227.3 Z" fill="#a9360f"/><path d="M572.2,227.3 L573.4,224.8 L574.6,227.3 Z" fill="#e09331"/><path d="M552.3,227.3 L553.6,222.3 L554.9,227.3 Z" fill="#dd872b"/><path d="M553.9,227.3 L555.9,224.9 L557.9,227.3 Z" fill="#df8e2e"/><path d="M559.6,227.4 L561.6,221.4 L563.6,227.4 Z" fill="#e09130"/><path d="M581.9,227.4 L583.2,223.8 L584.6,227.4 Z" fill="#e8ae41"/><path d="M598.3,227.4 L600.1,222.9 L601.9,227.4 Z" fill="#faf2d2"/><path d="M489.2,227.4 L491.4,222.4 L493.5,227.4 Z" fill="#641408"/><path d="M547.7,227.5 L549.3,222.3 L551.0,227.5 Z" fill="#e8aa3c"/><path d="M574.9,227.5 L577.1,224.3 L579.2,227.5 Z" fill="#e19431"/><path d="M536.3,227.6 L538.4,223.9 L540.5,227.6 Z" fill="#a4340f"/><path d="M512.8,227.6 L514.8,223.4 L516.7,227.6 Z" fill="#641408"/><path d="M518.5,227.7 L519.8,224.3 L521.2,227.7 Z" fill="#b64714"/><path d="M603.7,227.7 L605.9,221.8 L608.2,227.7 Z" fill="#faf2d2"/><path d="M498.4,227.7 L499.6,223.1 L500.8,227.7 Z" fill="#8b270c"/><path d="M574.3,227.7 L575.8,222.6 L577.3,227.7 Z" fill="#eab449"/><path d="M592.6,227.8 L594.1,223.8 L595.7,227.8 Z" fill="#f0d173"/><path d="M547.3,227.8 L549.6,224.3 L551.8,227.8 Z" fill="#d87924"/><path d="M499.3,227.8 L500.7,225.3 L502.0,227.8 Z" fill="#651408"/><path d="M504.9,228.0 L506.2,223.0 L507.6,228.0 Z" fill="#701a09"/><path d="M544.7,228.0 L546.1,224.8 L547.5,228.0 Z" fill="#e39c35"/><path d="M560.5,228.1 L562.2,225.9 L563.9,228.1 Z" fill="#d87623"/><path d="M509.4,228.2 L511.5,223.7 L513.5,228.2 Z" fill="#942c0d"/><path d="M581.2,228.2 L583.7,224.5 L586.3,228.2 Z" fill="#ecbf57"/><path d="M519.1,228.3 L521.5,222.4 L523.9,228.3 Z" fill="#942c0d"/><path d="M522.7,228.3 L524.2,223.4 L525.7,228.3 Z" fill="#b24213"/><path d="M589.5,228.3 L590.8,223.7 L592.0,228.3 Z" fill="#f2d784"/><path d="M557.1,228.3 L559.1,223.6 L561.1,228.3 Z" fill="#cd641c"/><path d="M492.9,228.4 L494.1,224.7 L495.4,228.4 Z" fill="#89260c"/><path d="M533.6,228.4 L535.6,225.1 L537.6,228.4 Z" fill="#ca601b"/><path d="M552.6,228.4 L554.5,225.7 L556.4,228.4 Z" fill="#db8329"/><path d="M547.3,228.4 L548.8,224.0 L550.3,228.4 Z" fill="#d46e1f"/><path d="M584.6,228.5 L586.3,223.1 L588.0,228.5 Z" fill="#e19531"/><path d="M532.1,228.6 L533.7,224.7 L535.3,228.6 Z" fill="#992e0e"/><path d="M595.2,228.7 L597.5,225.5 L599.7,228.7 Z" fill="#faf2d2"/><path d="M524.4,228.7 L526.8,223.8 L529.1,228.7 Z" fill="#c15518"/><path d="M594.9,228.8 L596.4,225.2 L597.9,228.8 Z" fill="#faf2d2"/><path d="M515.1,228.8 L516.7,224.6 L518.2,228.8 Z" fill="#b14112"/><path d="M528.3,228.8 L529.7,226.3 L531.2,228.8 Z" fill="#a4340f"/><path d="M564.1,228.9 L566.3,225.7 L568.4,228.9 Z" fill="#e09331"/><path d="M508.3,228.9 L510.4,225.7 L512.6,228.9 Z" fill="#85240b"/><path d="M537.8,228.9 L540.3,225.8 L542.9,228.9 Z" fill="#b24112"/><path d="M591.2,229.0 L592.5,224.8 L593.7,229.0 Z" fill="#f9f0ce"/><path d="M494.5,229.0 L495.9,223.9 L497.3,229.0 Z" fill="#641408"/><path d="M502.1,229.0 L503.8,224.4 L505.5,229.0 Z" fill="#7d200a"/><path d="M559.6,229.0 L561.8,225.9 L564.0,229.0 Z" fill="#da7f27"/><path d="M523.5,229.0 L524.8,225.4 L526.1,229.0 Z" fill="#aa3710"/><path d="M512.9,229.1 L514.4,226.3 L515.9,229.1 Z" fill="#9a2f0e"/><path d="M574.9,229.2 L577.2,226.7 L579.6,229.2 Z" fill="#eec964"/><path d="M510.3,229.3 L511.6,224.4 L512.9,229.3 Z" fill="#8e290c"/><path d="M541.7,229.3 L544.2,226.6 L546.7,229.3 Z" fill="#cf671d"/><path d="M579.3,229.3 L581.8,224.9 L584.3,229.3 Z" fill="#e7a73b"/><path d="M516.7,229.4 L518.8,224.4 L521.0,229.4 Z" fill="#cc631c"/><path d="M586.0,229.4 L588.6,227.2 L591.2,229.4 Z" fill="#eec864"/><path d="M512.8,229.4 L514.7,227.4 L516.5,229.4 Z" fill="#a5340f"/><path d="M496.9,229.5 L498.4,225.8 L499.9,229.5 Z" fill="#771d0a"/><path d="M569.2,229.5 L570.9,225.7 L572.6,229.5 Z" fill="#eab74e"/><path d="M599.9,229.6 L602.0,225.5 L604.1,229.6 Z" fill="#faf2d2"/><path d="M550.8,229.7 L553.3,224.4 L555.7,229.7 Z" fill="#d46d1f"/><path d="M506.7,229.7 L507.9,226.9 L509.1,229.7 Z" fill="#741c09"/><path d="M560.8,229.8 L563.3,224.5 L565.9,229.8 Z" fill="#e9b145"/><path d="M532.3,229.8 L533.6,224.6 L535.0,229.8 Z" fill="#d36d1f"/><path d="M554.8,229.8 L557.2,225.5 L559.6,229.8 Z" fill="#d97a25"/><path d="M576.8,229.8 L579.4,226.2 L582.0,229.8 Z" fill="#f7ebbd"/><path d="M582.4,229.9 L584.8,225.4 L587.1,229.9 Z" fill="#eab348"/><path d="M499.8,230.0 L501.9,226.9 L503.9,230.0 Z" fill="#641408"/><path d="M537.0,230.1 L538.3,226.7 L539.5,230.1 Z" fill="#d67221"/><path d="M543.5,230.1 L545.7,225.0 L547.9,230.1 Z" fill="#da7f27"/><path d="M572.0,230.1 L573.6,226.6 L575.2,230.1 Z" fill="#ebbc54"/><path d="M502.0,230.1 L504.5,226.2 L507.0,230.1 Z" fill="#671508"/><path d="M547.1,230.2 L549.0,226.5 L551.0,230.2 Z" fill="#da7f27"/><path d="M567.7,230.3 L569.1,226.4 L570.4,230.3 Z" fill="#ecbd55"/><path d="M541.5,230.3 L542.8,228.0 L544.1,230.3 Z" fill="#d77422"/><path d="M538.0,230.4 L540.6,224.5 L543.1,230.4 Z" fill="#dd882b"/><path d="M575.3,230.4 L577.6,227.4 L580.0,230.4 Z" fill="#e6a63a"/><path d="M593.9,230.5 L595.7,225.7 L597.5,230.5 Z" fill="#faf2d2"/><path d="M522.6,230.6 L524.9,227.2 L527.2,230.6 Z" fill="#cd641c"/><path d="M582.0,230.7 L584.3,228.1 L586.5,230.7 Z" fill="#df8d2e"/><path d="M493.8,230.7 L495.7,226.1 L497.7,230.7 Z" fill="#88260c"/><path d="M527.4,230.7 L529.7,228.3 L531.9,230.7 Z" fill="#b03f12"/><path d="M562.4,230.7 L564.3,227.1 L566.2,230.7 Z" fill="#e09130"/><path d="M526.4,230.7 L527.8,227.2 L529.2,230.7 Z" fill="#bb4d16"/><path d="M597.8,230.8 L600.3,228.3 L602.7,230.8 Z" fill="#f2d886"/><path d="M499.4,230.8 L501.1,228.0 L502.7,230.8 Z" fill="#9e310e"/><path d="M530.6,230.8 L532.5,225.7 L534.4,230.8 Z" fill="#af3d11"/><path d="M514.8,230.8 L516.9,227.9 L519.1,230.8 Z" fill="#b84915"/><path d="M565.3,230.8 L567.2,225.5 L569.1,230.8 Z" fill="#e9b145"/><path d="M554.4,230.9 L555.8,226.6 L557.2,230.9 Z" fill="#e49f36"/><path d="M519.9,230.9 L521.8,224.9 L523.7,230.9 Z" fill="#9d300e"/><path d="M589.0,230.9 L591.2,227.8 L593.4,230.9 Z" fill="#faf2d2"/><path d="M511.6,231.0 L513.7,225.6 L515.7,231.0 Z" fill="#c25618"/><path d="M555.7,231.0 L558.1,225.5 L560.5,231.0 Z" fill="#e19431"/><path d="M505.0,231.0 L506.6,227.3 L508.2,231.0 Z" fill="#731b09"/><path d="M507.0,231.1 L508.3,225.7 L509.6,231.1 Z" fill="#7b1f0a"/><path d="M542.1,231.1 L544.1,228.3 L546.2,231.1 Z" fill="#d36d1f"/><path d="M590.3,231.1 L592.7,225.5 L595.0,231.1 Z" fill="#faf2d2"/><path d="M584.6,231.2 L586.3,227.6 L588.1,231.2 Z" fill="#f2d783"/><path d="M533.8,231.2 L535.7,225.7 L537.7,231.2 Z" fill="#c05418"/><path d="M557.5,231.2 L560.0,228.9 L562.5,231.2 Z" fill="#e29732"/><path d="M576.0,231.3 L577.8,225.7 L579.7,231.3 Z" fill="#e39c35"/><path d="M547.2,231.3 L549.2,228.3 L551.2,231.3 Z" fill="#d26a1e"/><path d="M596.7,231.3 L599.1,227.5 L601.5,231.3 Z" fill="#faf2d2"/><path d="M502.4,231.4 L503.9,228.9 L505.5,231.4 Z" fill="#641408"/><path d="M563.6,231.4 L564.9,226.3 L566.2,231.4 Z" fill="#e5a037"/><path d="M554.3,231.5 L555.7,226.1 L557.0,231.5 Z" fill="#c55a19"/><path d="M551.2,231.5 L552.7,226.8 L554.2,231.5 Z" fill="#bf5317"/><path d="M569.0,231.5 L571.2,229.4 L573.4,231.5 Z" fill="#ebbc54"/><path d="M584.8,231.5 L587.3,227.7 L589.7,231.5 Z" fill="#f1d57e"/><path d="M573.6,231.6 L574.9,227.6 L576.2,231.6 Z" fill="#eab348"/><path d="M576.2,231.7 L577.9,227.8 L579.6,231.7 Z" fill="#e6a339"/><path d="M532.5,231.8 L535.0,228.0 L537.5,231.8 Z" fill="#c05318"/><path d="M565.9,231.9 L567.5,226.8 L569.1,231.9 Z" fill="#e7a83b"/><path d="M496.8,231.9 L498.0,226.7 L499.3,231.9 Z" fill="#711a09"/><path d="M522.5,232.0 L524.6,228.2 L526.8,232.0 Z" fill="#a0320e"/><path d="M517.5,232.1 L519.6,226.9 L521.7,232.1 Z" fill="#9c300e"/><path d="M594.9,232.1 L596.3,228.2 L597.7,232.1 Z" fill="#f9f0cd"/><path d="M556.6,232.1 L558.7,229.0 L560.9,232.1 Z" fill="#cf671d"/><path d="M509.5,232.2 L511.1,228.3 L512.6,232.2 Z" fill="#b14012"/><path d="M537.7,232.3 L540.3,228.5 L542.8,232.3 Z" fill="#d26b1e"/><path d="M573.5,232.4 L575.2,230.1 L576.9,232.4 Z" fill="#e7a83b"/><path d="M510.1,232.4 L512.3,227.4 L514.6,232.4 Z" fill="#c65c1a"/><path d="M566.3,232.5 L568.2,228.9 L570.2,232.5 Z" fill="#e49d36"/><path d="M561.5,232.5 L564.1,229.3 L566.6,232.5 Z" fill="#f7e8b6"/><path d="M530.6,232.5 L532.6,228.2 L534.6,232.5 Z" fill="#bc4f16"/><path d="M526.7,232.5 L528.2,230.1 L529.7,232.5 Z" fill="#c25618"/><path d="M499.9,232.6 L501.6,226.8 L503.3,232.6 Z" fill="#6d1809"/><path d="M572.8,232.6 L575.3,229.4 L577.7,232.6 Z" fill="#eab74d"/><path d="M589.7,232.6 L591.1,229.0 L592.5,232.6 Z" fill="#f3dc92"/><path d="M539.3,232.7 L541.7,229.2 L544.0,232.7 Z" fill="#d97c26"/><path d="M545.1,232.7 L546.5,226.8 L547.9,232.7 Z" fill="#d56e1f"/><path d="M536.4,232.7 L538.0,227.7 L539.6,232.7 Z" fill="#dc8429"/><path d="M593.1,232.7 L595.2,228.1 L597.4,232.7 Z" fill="#faf2d2"/><path d="M520.1,232.9 L522.5,228.6 L524.9,232.9 Z" fill="#82230b"/><path d="M535.0,233.0 L536.4,228.5 L537.8,233.0 Z" fill="#be5217"/><path d="M552.6,233.1 L554.8,229.3 L557.0,233.1 Z" fill="#de8c2d"/><path d="M513.7,233.1 L515.4,228.0 L517.1,233.1 Z" fill="#c15518"/><path d="M503.1,233.1 L504.6,230.2 L506.1,233.1 Z" fill="#932b0d"/><path d="M524.5,233.2 L526.2,228.3 L528.0,233.2 Z" fill="#942c0d"/><path d="M549.4,233.2 L551.0,230.0 L552.6,233.2 Z" fill="#d0691e"/><path d="M514.5,233.2 L516.8,227.8 L519.2,233.2 Z" fill="#992e0e"/><path d="M580.1,233.3 L582.0,231.1 L583.8,233.3 Z" fill="#f1d57d"/><path d="M568.8,233.4 L571.1,228.5 L573.3,233.4 Z" fill="#ecbe57"/><path d="M584.1,233.4 L586.5,230.8 L589.0,233.4 Z" fill="#f0d377"/><path d="M544.4,233.6 L545.7,228.4 L546.9,233.6 Z" fill="#dc862a"/><path d="M546.5,233.6 L548.4,230.3 L550.2,233.6 Z" fill="#b14012"/><path d="M530.4,233.7 L532.8,228.7 L535.2,233.7 Z" fill="#be5117"/><path d="M507.4,233.7 L509.8,231.4 L512.3,233.7 Z" fill="#9d300e"/><path d="M498.9,233.8 L501.0,228.4 L503.0,233.8 Z" fill="#85240b"/><path d="M520.7,233.8 L522.7,230.1 L524.6,233.8 Z" fill="#761d0a"/><path d="M506.5,233.8 L508.4,228.8 L510.4,233.8 Z" fill="#9b2f0e"/><path d="M570.6,233.8 L572.9,231.4 L575.1,233.8 Z" fill="#edc45e"/><path d="M568.2,234.0 L570.7,230.5 L573.1,234.0 Z" fill="#dc862a"/><path d="M581.7,234.0 L583.4,228.7 L585.2,234.0 Z" fill="#efcb68"/><path d="M550.2,234.1 L552.5,228.3 L554.8,234.1 Z" fill="#d87723"/><path d="M590.6,234.1 L593.1,228.4 L595.5,234.1 Z" fill="#f7ebbd"/><path d="M560.1,234.2 L562.0,229.3 L564.0,234.2 Z" fill="#edc560"/><path d="M554.2,234.2 L556.1,231.9 L558.1,234.2 Z" fill="#e19431"/><path d="M564.2,234.2 L565.9,229.4 L567.7,234.2 Z" fill="#edc25b"/><path d="M524.7,234.2 L527.3,230.3 L529.9,234.2 Z" fill="#b44413"/><path d="M577.8,234.3 L580.0,228.7 L582.2,234.3 Z" fill="#f3db91"/><path d="M586.2,234.4 L587.7,230.6 L589.3,234.4 Z" fill="#f0d275"/><path d="M535.5,234.4 L537.1,231.2 L538.7,234.4 Z" fill="#c25718"/><path d="M539.7,234.5 L541.6,232.2 L543.5,234.5 Z" fill="#d56e1f"/><path d="M547.6,234.5 L549.6,230.9 L551.7,234.5 Z" fill="#dc862a"/><path d="M551.8,234.5 L553.5,229.8 L555.3,234.5 Z" fill="#e5a338"/><path d="M579.2,234.5 L581.4,230.8 L583.6,234.5 Z" fill="#ecbf58"/><path d="M504.9,234.6 L506.2,229.1 L507.5,234.6 Z" fill="#a8360f"/><path d="M512.9,234.6 L514.2,230.5 L515.5,234.6 Z" fill="#be5217"/><path d="M587.5,234.7 L588.8,231.6 L590.2,234.7 Z" fill="#efcd6a"/><path d="M527.1,234.7 L529.6,230.4 L532.1,234.7 Z" fill="#9f310e"/><path d="M528.6,234.7 L530.4,231.5 L532.2,234.7 Z" fill="#d97a24"/><path d="M557.8,234.9 L559.2,230.8 L560.5,234.9 Z" fill="#ecbe57"/><path d="M523.1,234.9 L524.7,232.3 L526.3,234.9 Z" fill="#b44413"/><path d="M512.7,235.0 L514.1,232.4 L515.4,235.0 Z" fill="#b54514"/><path d="M503.9,235.0 L505.9,231.4 L507.9,235.0 Z" fill="#681608"/><path d="M574.1,235.0 L576.1,230.1 L578.0,235.0 Z" fill="#ecbd56"/><path d="M586.5,235.0 L588.0,230.5 L589.6,235.0 Z" fill="#faf2d2"/><path d="M577.1,235.0 L578.9,230.4 L580.7,235.0 Z" fill="#ecc059"/><path d="M544.4,235.1 L546.2,231.7 L547.9,235.1 Z" fill="#dd882b"/><path d="M576.2,235.1 L577.6,229.2 L579.0,235.1 Z" fill="#edc55f"/><path d="M563.3,235.2 L565.8,231.6 L568.2,235.2 Z" fill="#eab54a"/><path d="M519.4,235.3 L521.8,232.3 L524.1,235.3 Z" fill="#a2330f"/><path d="M517.2,235.4 L519.5,230.8 L521.9,235.4 Z" fill="#a2330f"/><path d="M535.8,235.4 L537.5,231.0 L539.2,235.4 Z" fill="#e19331"/><path d="M569.6,235.4 L571.9,233.1 L574.2,235.4 Z" fill="#e5a338"/><path d="M561.4,235.4 L563.9,232.1 L566.4,235.4 Z" fill="#f1d680"/><path d="M583.9,235.5 L585.5,232.7 L587.1,235.5 Z" fill="#faf2d2"/><path d="M581.2,235.5 L582.7,229.9 L584.1,235.5 Z" fill="#f1d378"/><path d="M546.7,235.6 L548.9,232.1 L551.2,235.6 Z" fill="#ca601b"/><path d="M524.9,235.6 L526.3,232.4 L527.7,235.6 Z" fill="#b84a15"/><path d="M507.4,235.6 L508.8,232.8 L510.2,235.6 Z" fill="#d26b1e"/><path d="M575.7,235.7 L578.0,230.3 L580.2,235.7 Z" fill="#eec762"/><path d="M537.0,235.7 L539.3,233.5 L541.7,235.7 Z" fill="#cd651d"/><path d="M557.0,235.7 L558.6,232.6 L560.2,235.7 Z" fill="#f2d98a"/><path d="M535.3,235.8 L537.7,233.4 L540.1,235.8 Z" fill="#cf681d"/><path d="M510.6,236.0 L512.1,230.7 L513.6,236.0 Z" fill="#7f210b"/><path d="M505.8,236.0 L507.8,230.5 L509.8,236.0 Z" fill="#9d300e"/><path d="M515.2,236.1 L517.5,232.3 L519.8,236.1 Z" fill="#cb611c"/><path d="M571.5,236.1 L573.6,230.2 L575.8,236.1 Z" fill="#eab44a"/><path d="M543.7,236.2 L544.9,232.7 L546.1,236.2 Z" fill="#d67120"/><path d="M527.5,236.3 L529.9,230.9 L532.3,236.3 Z" fill="#bf5217"/><path d="M551.4,236.4 L553.0,233.7 L554.7,236.4 Z" fill="#e8ac3f"/><path d="M558.8,236.4 L560.7,234.0 L562.6,236.4 Z" fill="#edc35e"/><path d="M546.5,236.5 L548.1,233.9 L549.7,236.5 Z" fill="#cd651c"/><path d="M552.7,236.6 L554.6,232.5 L556.5,236.6 Z" fill="#e8ae41"/><path d="M506.9,236.6 L508.5,234.3 L510.0,236.6 Z" fill="#ab3810"/><path d="M557.6,236.6 L559.2,232.8 L560.7,236.6 Z" fill="#e7a93b"/><path d="M548.8,236.7 L550.9,233.1 L553.0,236.7 Z" fill="#c85e1b"/><path d="M580.3,236.7 L582.7,231.9 L585.1,236.7 Z" fill="#faf2d2"/><path d="M521.4,236.7 L523.6,233.0 L525.9,236.7 Z" fill="#85240b"/><path d="M567.1,236.8 L569.6,234.2 L572.2,236.8 Z" fill="#f1d57f"/><path d="M561.9,236.8 L563.8,234.6 L565.6,236.8 Z" fill="#e09130"/><path d="M515.1,236.9 L517.6,231.8 L520.0,236.9 Z" fill="#a2330f"/><path d="M532.3,237.0 L534.2,233.7 L536.1,237.0 Z" fill="#b34313"/><path d="M527.3,237.0 L528.6,233.0 L529.9,237.0 Z" fill="#dd882b"/><path d="M529.0,237.0 L531.3,232.1 L533.6,237.0 Z" fill="#bb4d16"/><path d="M518.7,237.0 L520.8,231.4 L522.9,237.0 Z" fill="#83230b"/><path d="M513.3,237.1 L515.7,231.9 L518.1,237.1 Z" fill="#85240b"/><path d="M563.3,237.1 L565.2,231.1 L567.1,237.1 Z" fill="#eab449"/><path d="M586.5,237.2 L587.8,231.4 L589.1,237.2 Z" fill="#faf2d2"/><path d="M540.2,237.2 L542.2,231.8 L544.3,237.2 Z" fill="#db8229"/><path d="M569.7,237.2 L572.0,233.5 L574.4,237.2 Z" fill="#ecc05a"/><path d="M531.2,237.3 L533.8,231.6 L536.4,237.3 Z" fill="#e0912f"/><path d="M542.6,237.5 L544.4,231.9 L546.2,237.5 Z" fill="#b94b15"/><path d="M520.0,237.6 L522.0,232.2 L524.0,237.6 Z" fill="#9f310e"/><path d="M547.5,237.6 L549.7,235.0 L551.9,237.6 Z" fill="#d77321"/><path d="M553.7,237.6 L555.6,231.9 L557.5,237.6 Z" fill="#e19532"/><path d="M549.5,237.7 L551.5,234.1 L553.5,237.7 Z" fill="#e5a238"/><path d="M564.6,237.7 L567.1,234.9 L569.6,237.7 Z" fill="#e7a73a"/><path d="M510.4,237.8 L512.2,234.1 L514.1,237.8 Z" fill="#a3330f"/><path d="M538.2,237.8 L540.6,233.5 L542.9,237.8 Z" fill="#c45819"/><path d="M559.1,237.8 L560.5,233.0 L561.9,237.8 Z" fill="#d67321"/><path d="M537.6,237.8 L539.0,232.9 L540.4,237.8 Z" fill="#d87924"/><path d="M580.4,237.9 L582.4,232.9 L584.4,237.9 Z" fill="#faf2d2"/><path d="M574.3,238.0 L576.1,232.1 L577.9,238.0 Z" fill="#f1d47a"/><path d="M533.9,238.1 L536.1,233.4 L538.3,238.1 Z" fill="#d87824"/><path d="M564.1,238.3 L566.4,234.7 L568.8,238.3 Z" fill="#e7a73a"/><path d="M547.6,238.3 L549.6,233.0 L551.6,238.3 Z" fill="#e9b044"/><path d="M557.0,238.4 L559.5,234.4 L561.9,238.4 Z" fill="#e7a73a"/><path d="M527.2,238.5 L528.8,235.2 L530.3,238.5 Z" fill="#cd651d"/><path d="M578.7,238.5 L580.6,233.3 L582.4,238.5 Z" fill="#f1d57e"/><path d="M545.7,238.6 L547.5,235.3 L549.4,238.6 Z" fill="#dc852a"/><path d="M524.4,238.6 L526.0,233.0 L527.5,238.6 Z" fill="#d56f1f"/><path d="M514.5,238.6 L516.1,235.0 L517.8,238.6 Z" fill="#af3d11"/><path d="M508.1,238.6 L509.8,234.1 L511.5,238.6 Z" fill="#ad3b11"/><path d="M568.6,238.7 L570.2,235.3 L571.8,238.7 Z" fill="#e8aa3c"/><path d="M542.9,238.7 L544.1,234.2 L545.4,238.7 Z" fill="#df8d2e"/><path d="M581.3,238.7 L583.6,235.8 L586.0,238.7 Z" fill="#f8ebbe"/><path d="M522.9,238.8 L525.0,235.8 L527.1,238.8 Z" fill="#c25618"/><path d="M573.7,239.0 L575.4,235.0 L577.1,239.0 Z" fill="#f1d378"/><path d="M551.3,239.0 L553.9,235.2 L556.5,239.0 Z" fill="#e09230"/><path d="M574.3,239.0 L576.3,234.7 L578.3,239.0 Z" fill="#eec762"/><path d="M517.0,239.0 L519.5,236.4 L522.0,239.0 Z" fill="#c25719"/><path d="M534.5,239.1 L536.5,236.7 L538.6,239.1 Z" fill="#d67020"/><path d="M572.2,239.1 L573.9,233.3 L575.7,239.1 Z" fill="#f1d681"/><path d="M515.8,239.1 L517.6,236.4 L519.5,239.1 Z" fill="#b03f12"/><path d="M538.1,239.2 L539.3,233.4 L540.6,239.2 Z" fill="#bd4f17"/><path d="M526.7,239.2 L528.0,235.7 L529.2,239.2 Z" fill="#cd641c"/><path d="M561.6,239.3 L563.7,236.3 L565.8,239.3 Z" fill="#e29733"/><path d="M565.5,239.3 L568.1,237.1 L570.7,239.3 Z" fill="#eeca66"/><path d="M510.3,239.4 L512.4,234.8 L514.4,239.4 Z" fill="#972d0d"/><path d="M527.6,239.5 L530.0,236.2 L532.4,239.5 Z" fill="#d77421"/><path d="M569.1,239.6 L571.6,237.2 L574.2,239.6 Z" fill="#f5e2a3"/><path d="M544.6,239.6 L546.1,236.6 L547.6,239.6 Z" fill="#d87723"/><path d="M568.3,239.7 L569.5,233.9 L570.8,239.7 Z" fill="#eec965"/><path d="M544.8,239.7 L547.0,236.3 L549.2,239.7 Z" fill="#edc55f"/><path d="M551.8,239.8 L553.4,237.4 L555.0,239.8 Z" fill="#eab54b"/><path d="M524.8,239.8 L526.4,235.3 L527.9,239.8 Z" fill="#d56f1f"/><path d="M577.6,239.9 L579.6,234.8 L581.7,239.9 Z" fill="#f5e3a7"/><path d="M531.7,239.9 L534.0,237.8 L536.2,239.9 Z" fill="#b64614"/><path d="M536.6,240.1 L538.9,237.9 L541.2,240.1 Z" fill="#c55a1a"/><path d="M521.1,240.1 L523.3,238.0 L525.6,240.1 Z" fill="#d97c25"/><path d="M559.1,240.1 L561.5,236.0 L563.9,240.1 Z" fill="#e7a93b"/><path d="M529.5,240.2 L532.1,234.4 L534.7,240.2 Z" fill="#d67120"/><path d="M576.6,240.4 L578.7,235.7 L580.8,240.4 Z" fill="#faf2d2"/><path d="M544.7,240.4 L546.6,234.9 L548.6,240.4 Z" fill="#e5a137"/><path d="M564.4,240.6 L565.7,235.7 L567.1,240.6 Z" fill="#efcb68"/><path d="M548.3,240.6 L550.1,237.6 L551.9,240.6 Z" fill="#eec864"/><path d="M516.5,240.7 L518.9,237.0 L521.3,240.7 Z" fill="#c55b1a"/><path d="M539.7,240.8 L542.1,235.0 L544.5,240.8 Z" fill="#de8a2c"/><path d="M564.5,240.8 L567.0,236.6 L569.5,240.8 Z" fill="#eec762"/><path d="M552.3,240.8 L553.6,237.0 L555.0,240.8 Z" fill="#da7f27"/><path d="M557.7,240.8 L559.9,238.5 L562.0,240.8 Z" fill="#e5a238"/><path d="M555.6,240.8 L557.5,235.4 L559.3,240.8 Z" fill="#e19331"/><path d="M529.5,240.9 L532.0,238.9 L534.5,240.9 Z" fill="#de8a2c"/><path d="M572.4,241.2 L574.4,237.5 L576.4,241.2 Z" fill="#faf2d2"/><path d="M513.4,241.4 L515.2,238.7 L516.9,241.4 Z" fill="#db8329"/><path d="M525.2,241.4 L526.6,237.2 L527.9,241.4 Z" fill="#cb621c"/><path d="M518.4,241.5 L520.8,235.5 L523.2,241.5 Z" fill="#e5a037"/><path d="M516.5,241.6 L518.8,236.2 L521.1,241.6 Z" fill="#b03f12"/><path d="M523.6,241.7 L526.0,236.2 L528.4,241.7 Z" fill="#cf671d"/><path d="M546.5,241.7 L547.8,237.2 L549.0,241.7 Z" fill="#e8ac3f"/><path d="M521.9,241.7 L524.3,236.5 L526.7,241.7 Z" fill="#ac3a10"/><path d="M534.4,241.7 L536.5,237.4 L538.6,241.7 Z" fill="#d97b25"/><path d="M537.8,241.8 L539.7,239.2 L541.7,241.8 Z" fill="#bf5217"/><path d="M572.0,241.8 L574.5,238.8 L577.0,241.8 Z" fill="#f2d783"/><path d="M559.2,241.9 L561.6,237.7 L564.1,241.9 Z" fill="#e7a73a"/><path d="M562.2,242.0 L564.0,238.5 L565.8,242.0 Z" fill="#eab54a"/><path d="M556.2,242.0 L558.1,239.9 L560.1,242.0 Z" fill="#eab349"/><path d="M570.3,242.2 L572.1,237.6 L573.8,242.2 Z" fill="#f6e6b0"/><path d="M563.6,242.2 L564.9,238.0 L566.2,242.2 Z" fill="#e39c35"/><path d="M535.8,242.2 L537.5,238.8 L539.1,242.2 Z" fill="#d67120"/><path d="M551.1,242.2 L552.8,239.1 L554.6,242.2 Z" fill="#e8ad40"/><path d="M572.1,242.3 L574.6,236.8 L577.0,242.3 Z" fill="#e6a439"/><path d="M542.4,242.5 L544.1,239.0 L545.9,242.5 Z" fill="#ca611b"/><path d="M548.6,242.6 L550.8,239.1 L553.0,242.6 Z" fill="#df8d2e"/><path d="M516.5,242.8 L518.0,239.5 L519.6,242.8 Z" fill="#c25719"/><path d="M543.4,242.9 L545.3,237.5 L547.1,242.9 Z" fill="#e19431"/><path d="M528.6,242.9 L529.9,238.1 L531.1,242.9 Z" fill="#d56f1f"/><path d="M541.2,243.1 L543.3,237.6 L545.3,243.1 Z" fill="#e7a93b"/><path d="M531.7,243.2 L533.8,238.4 L535.9,243.2 Z" fill="#b44413"/><path d="M524.1,243.3 L525.6,239.3 L527.1,243.3 Z" fill="#cc631c"/><path d="M556.1,243.3 L557.9,240.3 L559.7,243.3 Z" fill="#dc852a"/><path d="M567.8,243.4 L570.3,240.6 L572.9,243.4 Z" fill="#f9f0cf"/><path d="M562.5,243.5 L564.6,237.8 L566.7,243.5 Z" fill="#f1d479"/><path d="M552.8,243.6 L554.9,238.4 L557.0,243.6 Z" fill="#e9af43"/><path d="M529.5,243.7 L532.0,240.0 L534.5,243.7 Z" fill="#c45819"/><path d="M527.7,243.9 L530.1,240.6 L532.5,243.9 Z" fill="#d56e1f"/><path d="M559.5,244.0 L560.8,238.1 L562.1,244.0 Z" fill="#eec864"/><path d="M522.2,244.0 L524.7,240.5 L527.3,244.0 Z" fill="#bb4d16"/><path d="M526.4,244.0 L528.0,240.2 L529.7,244.0 Z" fill="#bc4f16"/><path d="M535.4,244.0 L536.9,241.7 L538.4,244.0 Z" fill="#df8f2f"/><path d="M566.8,244.1 L568.1,239.3 L569.5,244.1 Z" fill="#f0d070"/><path d="M539.0,244.1 L541.6,240.9 L544.1,244.1 Z" fill="#df8f2f"/><path d="M552.4,244.1 L553.7,241.8 L555.0,244.1 Z" fill="#e6a53a"/><path d="M547.9,244.2 L549.4,239.0 L551.0,244.2 Z" fill="#e19632"/><path d="M570.4,244.3 L571.7,238.6 L573.0,244.3 Z" fill="#eec965"/><path d="M568.8,244.3 L570.4,239.1 L572.1,244.3 Z" fill="#faf2d2"/><path d="M553.3,244.4 L555.4,239.5 L557.5,244.4 Z" fill="#e29833"/><path d="M536.6,244.4 L538.4,240.3 L540.2,244.4 Z" fill="#da7f27"/><path d="M563.8,244.5 L566.1,241.9 L568.4,244.5 Z" fill="#f6e4aa"/><path d="M543.1,244.7 L545.0,242.2 L546.8,244.7 Z" fill="#e7a93b"/><path d="M541.7,244.7 L543.3,240.9 L545.0,244.7 Z" fill="#ecc15a"/><path d="M532.5,244.8 L534.8,239.4 L537.1,244.8 Z" fill="#e0902f"/><path d="M523.0,244.9 L524.6,241.9 L526.1,244.9 Z" fill="#b74814"/><path d="M530.9,245.0 L532.7,240.4 L534.4,245.0 Z" fill="#d97b25"/><path d="M520.3,245.0 L522.0,240.4 L523.8,245.0 Z" fill="#ce651d"/><path d="M543.6,245.1 L545.7,239.5 L547.9,245.1 Z" fill="#edc55f"/><path d="M532.5,245.4 L535.0,240.0 L537.6,245.4 Z" fill="#d77522"/><path d="M539.1,245.6 L540.7,240.7 L542.2,245.6 Z" fill="#e09331"/><path d="M558.9,245.6 L560.9,242.3 L562.9,245.6 Z" fill="#ecbd55"/><path d="M561.7,245.8 L563.5,242.2 L565.4,245.8 Z" fill="#faf2d2"/><path d="M548.0,245.8 L550.3,243.5 L552.6,245.8 Z" fill="#e09331"/><path d="M552.8,245.9 L554.6,241.3 L556.5,245.9 Z" fill="#e5a238"/><path d="M525.5,246.1 L528.1,240.3 L530.7,246.1 Z" fill="#bd5017"/><path d="M524.1,246.2 L525.6,242.6 L527.1,246.2 Z" fill="#a3330f"/><path d="M533.9,246.4 L535.3,240.5 L536.8,246.4 Z" fill="#e6a539"/><path d="M555.3,246.4 L556.6,241.4 L558.0,246.4 Z" fill="#e8ad40"/><path d="M549.4,246.4 L551.8,243.8 L554.3,246.4 Z" fill="#e8ae42"/><path d="M564.4,246.5 L566.8,243.0 L569.1,246.5 Z" fill="#f5e1a1"/><path d="M546.0,246.6 L548.0,243.2 L550.1,246.6 Z" fill="#e19632"/><path d="M543.2,246.9 L545.3,240.9 L547.4,246.9 Z" fill="#d87824"/><path d="M529.1,246.9 L530.7,244.3 L532.3,246.9 Z" fill="#de8a2c"/><path d="M558.3,247.0 L560.3,243.4 L562.4,247.0 Z" fill="#faf2d2"/><path d="M539.0,247.0 L541.3,242.8 L543.6,247.0 Z" fill="#e49d36"/><path d="M545.0,247.2 L546.7,244.4 L548.4,247.2 Z" fill="#e6a338"/><path d="M527.8,247.2 L529.1,244.8 L530.4,247.2 Z" fill="#ca611b"/><path d="M549.4,247.2 L551.1,244.4 L552.8,247.2 Z" fill="#e5a338"/><path d="M561.7,247.3 L564.0,243.8 L566.3,247.3 Z" fill="#f0d06e"/><path d="M535.0,247.3 L536.9,244.8 L538.7,247.3 Z" fill="#e29833"/><path d="M565.6,247.3 L566.9,244.3 L568.1,247.3 Z" fill="#f0d06e"/><path d="M536.8,247.4 L538.8,243.2 L540.9,247.4 Z" fill="#ebba52"/><path d="M531.3,247.5 L533.4,245.2 L535.4,247.5 Z" fill="#d46d1f"/><path d="M557.5,247.6 L558.7,242.9 L560.0,247.6 Z" fill="#edc660"/><path d="M537.3,248.1 L539.4,244.8 L541.6,248.1 Z" fill="#df8f2f"/><path d="M541.3,248.3 L543.5,244.4 L545.7,248.3 Z" fill="#e39a34"/><path d="M550.5,248.3 L552.5,244.0 L554.5,248.3 Z" fill="#f5e1a1"/><path d="M547.2,248.3 L549.7,244.2 L552.2,248.3 Z" fill="#e7a73a"/><path d="M553.5,248.5 L554.9,245.9 L556.3,248.5 Z" fill="#ebb94f"/><path d="M553.8,248.6 L556.1,246.6 L558.4,248.6 Z" fill="#eeca66"/><path d="M536.6,248.7 L538.6,245.2 L540.6,248.7 Z" fill="#d97a25"/><path d="M546.4,249.0 L547.9,246.2 L549.4,249.0 Z" fill="#e49f36"/><path d="M540.4,249.0 L541.8,245.1 L543.2,249.0 Z" fill="#df8f2f"/><path d="M553.8,249.0 L555.8,245.9 L557.8,249.0 Z" fill="#f8edc5"/><path d="M559.8,249.1 L561.4,247.1 L563.1,249.1 Z" fill="#ebbb52"/><path d="M527.9,249.4 L529.6,247.1 L531.4,249.4 Z" fill="#e39a34"/><path d="M532.5,249.4 L535.1,246.8 L537.6,249.4 Z" fill="#de8a2c"/><path d="M531.0,249.5 L533.4,243.7 L535.8,249.5 Z" fill="#da7d26"/><path d="M542.0,249.8 L544.1,247.7 L546.2,249.8 Z" fill="#d87924"/><path d="M548.8,249.9 L551.3,247.4 L553.9,249.9 Z" fill="#e9b246"/><path d="M557.2,250.0 L558.5,247.3 L559.7,250.0 Z" fill="#efcd6a"/><path d="M533.6,250.2 L534.9,247.3 L536.3,250.2 Z" fill="#d67020"/><path d="M551.5,250.4 L552.8,246.2 L554.2,250.4 Z" fill="#f2d98a"/><path d="M545.7,250.4 L547.3,246.2 L548.9,250.4 Z" fill="#eab74d"/><path d="M536.8,250.6 L538.8,246.2 L540.9,250.6 Z" fill="#d67321"/><path d="M538.1,250.8 L540.6,248.8 L543.1,250.8 Z" fill="#d87824"/><path d="M556.2,251.0 L558.2,248.8 L560.3,251.0 Z" fill="#eec864"/><path d="M550.3,251.4 L552.2,245.9 L554.1,251.4 Z" fill="#eec965"/><path d="M542.0,251.7 L543.3,248.2 L544.6,251.7 Z" fill="#e49f36"/><path d="M531.8,251.9 L533.9,248.8 L536.0,251.9 Z" fill="#d97a24"/><path d="M555.8,251.9 L557.2,248.1 L558.5,251.9 Z" fill="#f4e09f"/><path d="M544.4,251.9 L546.1,249.7 L547.8,251.9 Z" fill="#eec763"/><path d="M542.5,252.3 L544.8,249.0 L547.2,252.3 Z" fill="#df8d2e"/><path d="M533.0,252.6 L535.6,248.8 L538.1,252.6 Z" fill="#d0681d"/><path d="M552.3,252.6 L554.1,248.8 L555.9,252.6 Z" fill="#ecc059"/><path d="M538.5,252.6 L540.7,249.8 L542.9,252.6 Z" fill="#ca601b"/><path d="M536.5,252.8 L538.9,247.2 L541.3,252.8 Z" fill="#db8128"/><path d="M545.7,252.9 L548.1,247.8 L550.4,252.9 Z" fill="#eec864"/><path d="M545.4,253.3 L547.0,249.7 L548.6,253.3 Z" fill="#ecbd56"/><path d="M547.8,253.7 L549.8,251.6 L551.7,253.7 Z" fill="#eab54b"/><path d="M540.4,253.8 L542.0,249.1 L543.7,253.8 Z" fill="#e8aa3c"/><path d="M539.2,255.0 L540.6,250.5 L542.0,255.0 Z" fill="#eab54a"/><path d="M546.0,255.2 L548.2,249.4 L550.3,255.2 Z" fill="#f3db8f"/><path d="M542.5,255.2 L545.1,249.2 L547.7,255.2 Z" fill="#f3dc91"/><path d="M541.8,255.6 L543.5,253.5 L545.1,255.6 Z" fill="#eec964"/><path d="M543.0,256.0 L545.5,253.0 L548.1,256.0 Z" fill="#f0d06e"/><path d="M542.5,257.9 L544.9,252.4 L547.3,257.9 Z" fill="#e5a238"/></g>
<defs><linearGradient id="fgafter" gradientUnits="userSpaceOnUse" x1="525.0" y1="289.5" x2="580.0" y2="319.5"><stop offset="0" stop-color="#b86c20"/><stop offset="1" stop-color="#b87020"/></linearGradient></defs>
<path d="M490.0,306.5 L560.0,272.5 L615.0,302.5 L545.0,336.5 Z" fill="url(#fgafter)" transform="translate(0,-2)"/>
<path d="M490,305.5 L545,335.5 L615,301.5 L615,304.5 L545,339.5 L490,309.0 Z" fill="#5a3010" opacity="0.85"/>
<g><path d="M559.6,274.1 L561.8,270.3 L564.0,274.1 Z" fill="#ce651d"/><path d="M557.1,274.2 L559.7,270.0 L562.3,274.2 Z" fill="#df902f"/><path d="M556.2,275.1 L558.2,269.8 L560.3,275.1 Z" fill="#d56f1f"/><path d="M556.4,275.5 L558.4,268.9 L560.5,275.5 Z" fill="#6e320f"/><path d="M555.7,275.7 L557.7,271.6 L559.8,275.7 Z" fill="#d67120"/><path d="M562.3,276.1 L563.9,271.5 L565.6,276.1 Z" fill="#d87723"/><path d="M564.7,276.5 L567.1,269.9 L569.5,276.5 Z" fill="#e7a63a"/><path d="M560.5,276.6 L562.9,271.7 L565.2,276.6 Z" fill="#dc852a"/><path d="M550.2,277.1 L552.8,270.7 L555.4,277.1 Z" fill="#d97a24"/><path d="M555.4,277.3 L558.0,270.8 L560.6,277.3 Z" fill="#de8c2d"/><path d="M555.4,277.4 L556.7,273.6 L558.0,277.4 Z" fill="#d87623"/><path d="M552.1,277.5 L553.8,271.9 L555.5,277.5 Z" fill="#e49e36"/><path d="M550.7,278.4 L552.5,273.8 L554.4,278.4 Z" fill="#e8aa3c"/><path d="M564.4,278.4 L566.7,273.7 L569.1,278.4 Z" fill="#c55b1a"/><path d="M567.1,278.5 L569.6,276.4 L572.1,278.5 Z" fill="#e6a63a"/><path d="M555.8,278.6 L558.1,273.0 L560.4,278.6 Z" fill="#d87924"/><path d="M560.7,278.6 L562.0,275.1 L563.4,278.6 Z" fill="#d77321"/><path d="M557.9,278.6 L559.6,276.0 L561.3,278.6 Z" fill="#6e320f"/><path d="M562.5,278.8 L563.8,274.9 L565.1,278.8 Z" fill="#6e320f"/><path d="M548.2,278.8 L550.6,276.1 L553.0,278.8 Z" fill="#d97c25"/><path d="M568.9,278.9 L570.5,276.1 L572.1,278.9 Z" fill="#dd872b"/><path d="M546.1,279.7 L547.8,273.3 L549.5,279.7 Z" fill="#e0902f"/><path d="M543.6,279.8 L545.4,274.0 L547.2,279.8 Z" fill="#e19431"/><path d="M566.1,279.8 L567.7,275.4 L569.2,279.8 Z" fill="#da7d26"/><path d="M551.8,279.9 L553.2,273.1 L554.6,279.9 Z" fill="#df902f"/><path d="M557.7,280.1 L559.6,273.5 L561.4,280.1 Z" fill="#ce651d"/><path d="M547.8,280.3 L550.3,270.8 L552.8,280.3 Z" fill="#e8d6ce"/><path d="M561.5,280.3 L563.0,274.7 L564.5,280.3 Z" fill="#c95f1b"/><path d="M555.1,280.5 L556.9,273.6 L558.8,280.5 Z" fill="#dc842a"/><path d="M568.7,280.9 L570.9,275.1 L573.2,280.9 Z" fill="#da7f27"/><path d="M550.5,280.9 L552.0,277.4 L553.4,280.9 Z" fill="#d77321"/><path d="M552.6,280.9 L554.2,277.3 L555.8,280.9 Z" fill="#c35719"/><path d="M560.3,281.1 L562.8,276.5 L565.3,281.1 Z" fill="#e8ab3d"/><path d="M570.4,281.2 L572.9,270.5 L575.4,281.2 Z" fill="#e8d6ce"/><path d="M572.6,281.3 L574.3,278.4 L576.1,281.3 Z" fill="#d46d1f"/><path d="M558.0,281.3 L559.8,276.4 L561.6,281.3 Z" fill="#e19532"/><path d="M541.8,281.4 L544.2,277.1 L546.5,281.4 Z" fill="#e39b35"/><path d="M565.9,281.6 L567.9,275.7 L569.8,281.6 Z" fill="#d77522"/><path d="M552.5,281.8 L554.8,277.0 L557.0,281.8 Z" fill="#b14012"/><path d="M556.8,281.9 L558.4,276.8 L560.0,281.9 Z" fill="#d0681d"/><path d="M545.9,282.0 L548.1,279.2 L550.3,282.0 Z" fill="#d56f1f"/><path d="M546.9,282.4 L548.6,280.0 L550.2,282.4 Z" fill="#dd862a"/><path d="M541.1,282.5 L542.3,280.1 L543.6,282.5 Z" fill="#e19331"/><path d="M559.2,282.6 L561.6,279.4 L564.0,282.6 Z" fill="#dc8429"/><path d="M562.9,282.6 L564.4,278.6 L565.8,282.6 Z" fill="#d0691e"/><path d="M569.7,282.7 L571.4,277.1 L573.1,282.7 Z" fill="#e19431"/><path d="M575.8,282.9 L577.4,280.0 L579.0,282.9 Z" fill="#c25719"/><path d="M567.0,283.0 L568.5,276.5 L570.1,283.0 Z" fill="#d77422"/><path d="M555.2,283.0 L556.7,280.9 L558.2,283.0 Z" fill="#dd882b"/><path d="M549.8,283.2 L552.3,278.3 L554.9,283.2 Z" fill="#6e320f"/><path d="M544.3,283.4 L545.6,278.2 L546.9,283.4 Z" fill="#6e320f"/><path d="M562.7,283.4 L564.9,277.6 L567.1,283.4 Z" fill="#e39c35"/><path d="M567.8,283.5 L569.3,276.7 L570.8,283.5 Z" fill="#da7e26"/><path d="M555.6,283.7 L557.1,280.9 L558.6,283.7 Z" fill="#cd641c"/><path d="M543.4,283.8 L545.5,281.3 L547.7,283.8 Z" fill="#dc8429"/><path d="M537.7,283.9 L539.3,279.5 L540.9,283.9 Z" fill="#db8128"/><path d="M552.5,284.1 L553.9,278.3 L555.3,284.1 Z" fill="#c55a1a"/><path d="M546.5,284.2 L548.7,279.5 L551.0,284.2 Z" fill="#e19532"/><path d="M573.4,284.3 L575.8,280.0 L578.1,284.3 Z" fill="#d0681d"/><path d="M578.3,284.3 L579.7,280.4 L581.0,284.3 Z" fill="#db8229"/><path d="M536.5,284.3 L538.8,278.8 L541.1,284.3 Z" fill="#da7e27"/><path d="M556.6,284.4 L558.9,279.5 L561.1,284.4 Z" fill="#d97c26"/><path d="M563.4,284.6 L565.4,281.3 L567.4,284.6 Z" fill="#dc852a"/><path d="M539.3,284.7 L540.6,281.0 L541.9,284.7 Z" fill="#e29833"/><path d="M552.0,284.8 L553.2,278.0 L554.5,284.8 Z" fill="#dd872b"/><path d="M534.8,285.0 L536.1,282.6 L537.4,285.0 Z" fill="#e5a238"/><path d="M543.8,285.2 L545.1,282.3 L546.4,285.2 Z" fill="#cb631c"/><path d="M554.9,285.3 L556.3,280.7 L557.6,285.3 Z" fill="#cf671d"/><path d="M546.8,285.3 L549.6,275.1 L552.4,285.3 Z" fill="#e8d6ce"/><path d="M571.9,285.3 L573.2,279.8 L574.6,285.3 Z" fill="#e9af43"/><path d="M567.2,285.4 L569.0,282.5 L570.8,285.4 Z" fill="#d67120"/><path d="M574.9,285.4 L576.3,279.5 L577.7,285.4 Z" fill="#c95f1b"/><path d="M572.6,285.4 L574.0,282.0 L575.3,285.4 Z" fill="#ebb950"/><path d="M536.7,285.5 L539.0,281.3 L541.4,285.5 Z" fill="#e6a63a"/><path d="M559.4,285.6 L561.9,279.1 L564.5,285.6 Z" fill="#e09130"/><path d="M563.1,285.7 L565.1,281.4 L567.2,285.7 Z" fill="#dd882b"/><path d="M551.9,285.8 L553.1,283.6 L554.3,285.8 Z" fill="#bf5217"/><path d="M540.3,285.8 L541.8,281.5 L543.2,285.8 Z" fill="#6e320f"/><path d="M579.8,285.9 L581.2,279.1 L582.6,285.9 Z" fill="#da7f27"/><path d="M546.9,286.0 L548.5,283.4 L550.1,286.0 Z" fill="#6e320f"/><path d="M580.6,286.1 L582.8,283.5 L585.1,286.1 Z" fill="#cf671d"/><path d="M576.1,286.1 L578.2,282.0 L580.3,286.1 Z" fill="#d97924"/><path d="M563.9,286.3 L565.3,280.4 L566.8,286.3 Z" fill="#e39a34"/><path d="M571.4,286.3 L573.4,280.8 L575.4,286.3 Z" fill="#e5a338"/><path d="M567.7,286.4 L570.1,284.0 L572.5,286.4 Z" fill="#e7a83b"/><path d="M537.0,286.4 L538.7,281.5 L540.5,286.4 Z" fill="#b94b15"/><path d="M544.4,286.4 L546.4,282.9 L548.4,286.4 Z" fill="#6e320f"/><path d="M556.9,286.6 L559.4,279.9 L562.0,286.6 Z" fill="#dd872b"/><path d="M555.5,286.8 L556.8,284.2 L558.1,286.8 Z" fill="#d77321"/><path d="M532.2,286.8 L534.5,280.5 L536.9,286.8 Z" fill="#e29733"/><path d="M542.0,287.2 L543.9,284.9 L545.8,287.2 Z" fill="#d77422"/><path d="M551.2,287.2 L553.4,283.2 L555.6,287.2 Z" fill="#d26b1e"/><path d="M527.5,287.4 L529.7,280.7 L531.9,287.4 Z" fill="#6e320f"/><path d="M567.4,287.4 L569.5,283.9 L571.7,287.4 Z" fill="#e0902f"/><path d="M580.1,287.5 L582.6,276.1 L585.2,287.5 Z" fill="#e8d6ce"/><path d="M575.4,287.5 L576.8,283.5 L578.3,287.5 Z" fill="#b84915"/><path d="M539.7,287.5 L542.0,283.9 L544.2,287.5 Z" fill="#6e320f"/><path d="M548.6,287.6 L550.7,285.4 L552.8,287.6 Z" fill="#e6a63a"/><path d="M546.2,287.6 L548.3,281.7 L550.4,287.6 Z" fill="#da7c26"/><path d="M585.4,287.8 L587.2,281.9 L588.9,287.8 Z" fill="#db8027"/><path d="M583.6,287.8 L586.0,284.6 L588.5,287.8 Z" fill="#cb621c"/><path d="M576.9,287.8 L578.1,284.3 L579.3,287.8 Z" fill="#db8027"/><path d="M560.4,287.9 L562.3,284.4 L564.2,287.9 Z" fill="#e8ab3e"/><path d="M533.9,288.0 L535.4,282.7 L536.8,288.0 Z" fill="#e39c35"/><path d="M535.9,288.1 L538.0,281.3 L540.2,288.1 Z" fill="#c15518"/><path d="M571.5,288.1 L573.9,285.1 L576.2,288.1 Z" fill="#d0691e"/><path d="M568.7,288.2 L570.6,282.8 L572.6,288.2 Z" fill="#de8b2d"/><path d="M556.2,288.3 L557.7,282.6 L559.1,288.3 Z" fill="#e29632"/><path d="M559.1,288.3 L561.6,286.2 L564.0,288.3 Z" fill="#6e320f"/><path d="M556.2,288.3 L558.7,285.5 L561.3,288.3 Z" fill="#c9601b"/><path d="M564.6,288.4 L567.0,282.0 L569.5,288.4 Z" fill="#d77422"/><path d="M561.7,288.6 L563.7,282.1 L565.8,288.6 Z" fill="#e09330"/><path d="M580.0,288.7 L583.0,281.1 L586.0,288.7 Z" fill="#e8d6ce"/><path d="M564.6,288.7 L567.1,283.4 L569.6,288.7 Z" fill="#d67120"/><path d="M569.8,288.8 L571.7,284.1 L573.5,288.8 Z" fill="#c65b1a"/><path d="M541.0,288.9 L542.6,283.0 L544.2,288.9 Z" fill="#db8128"/><path d="M537.8,288.9 L539.5,285.1 L541.1,288.9 Z" fill="#db8027"/><path d="M551.0,289.1 L552.3,285.1 L553.7,289.1 Z" fill="#e9af42"/><path d="M531.8,289.2 L533.4,286.0 L535.0,289.2 Z" fill="#cb621c"/><path d="M527.4,289.2 L529.9,285.8 L532.4,289.2 Z" fill="#db8228"/><path d="M545.0,289.4 L547.6,283.7 L550.2,289.4 Z" fill="#ca611b"/><path d="M550.2,289.4 L552.7,285.6 L555.2,289.4 Z" fill="#6e320f"/><path d="M556.9,289.4 L558.3,284.5 L559.7,289.4 Z" fill="#df8f2f"/><path d="M564.4,289.5 L566.9,283.5 L569.3,289.5 Z" fill="#e6a539"/><path d="M547.8,289.5 L549.2,283.1 L550.5,289.5 Z" fill="#cd641c"/><path d="M526.7,289.6 L527.9,285.6 L529.2,289.6 Z" fill="#d0681d"/><path d="M574.3,289.7 L576.7,284.5 L579.0,289.7 Z" fill="#dd872b"/><path d="M587.7,289.7 L589.3,284.0 L590.9,289.7 Z" fill="#e09230"/><path d="M580.7,289.8 L582.4,283.7 L584.0,289.8 Z" fill="#eab449"/><path d="M530.2,289.8 L532.1,286.7 L534.1,289.8 Z" fill="#eab64c"/><path d="M577.3,289.9 L579.7,287.5 L582.2,289.9 Z" fill="#ca611b"/><path d="M542.6,289.9 L543.8,285.4 L545.1,289.9 Z" fill="#dd872b"/><path d="M531.6,289.9 L533.5,286.3 L535.4,289.9 Z" fill="#e6a539"/><path d="M584.4,290.0 L586.9,287.3 L589.4,290.0 Z" fill="#d16a1e"/><path d="M534.2,290.1 L535.6,287.7 L537.1,290.1 Z" fill="#d87723"/><path d="M582.7,290.2 L583.9,286.0 L585.2,290.2 Z" fill="#cb621c"/><path d="M546.9,290.2 L549.2,286.2 L551.4,290.2 Z" fill="#df8e2e"/><path d="M537.9,290.2 L539.7,286.2 L541.5,290.2 Z" fill="#6e320f"/><path d="M561.4,290.2 L563.3,285.9 L565.3,290.2 Z" fill="#d67120"/><path d="M568.5,290.5 L569.9,285.9 L571.2,290.5 Z" fill="#e09230"/><path d="M572.3,290.6 L574.2,287.0 L576.1,290.6 Z" fill="#d46e1f"/><path d="M524.2,290.6 L525.5,288.1 L526.8,290.6 Z" fill="#d77321"/><path d="M525.6,290.7 L528.0,284.4 L530.4,290.7 Z" fill="#da7f27"/><path d="M556.0,290.7 L558.0,285.7 L560.0,290.7 Z" fill="#e7a93b"/><path d="M585.1,290.8 L587.1,288.2 L589.1,290.8 Z" fill="#c25618"/><path d="M551.2,290.9 L553.2,285.4 L555.1,290.9 Z" fill="#6e320f"/><path d="M589.2,291.1 L591.7,288.2 L594.3,291.1 Z" fill="#d67221"/><path d="M535.1,291.1 L537.4,285.4 L539.8,291.1 Z" fill="#e9af43"/><path d="M555.6,291.2 L558.1,285.1 L560.5,291.2 Z" fill="#6e320f"/><path d="M563.8,291.2 L565.3,288.7 L566.7,291.2 Z" fill="#c45919"/><path d="M542.1,291.3 L543.5,284.7 L545.0,291.3 Z" fill="#eab54a"/><path d="M558.9,291.3 L561.2,284.9 L563.5,291.3 Z" fill="#e6a439"/><path d="M544.7,291.4 L546.2,288.0 L547.7,291.4 Z" fill="#dd862a"/><path d="M571.8,291.4 L573.8,287.3 L575.8,291.4 Z" fill="#e39a34"/><path d="M574.6,291.4 L576.9,286.6 L579.1,291.4 Z" fill="#d87824"/><path d="M579.9,291.4 L581.6,285.3 L583.3,291.4 Z" fill="#e09230"/><path d="M567.5,291.5 L569.2,286.4 L570.9,291.5 Z" fill="#df8e2e"/><path d="M548.5,291.5 L550.9,285.8 L553.4,291.5 Z" fill="#da7e26"/><path d="M532.3,291.6 L534.5,286.1 L536.8,291.6 Z" fill="#e39c35"/><path d="M520.5,291.6 L522.3,288.6 L524.2,291.6 Z" fill="#dc852a"/><path d="M567.2,291.6 L570.3,283.8 L573.4,291.6 Z" fill="#e8d6ce"/><path d="M591.6,291.7 L593.7,286.1 L595.9,291.7 Z" fill="#6e320f"/><path d="M582.5,292.0 L584.5,285.7 L586.5,292.0 Z" fill="#d87623"/><path d="M565.0,292.1 L567.1,286.6 L569.1,292.1 Z" fill="#c35819"/><path d="M553.1,292.1 L554.4,285.1 L555.7,292.1 Z" fill="#d56f1f"/><path d="M577.2,292.2 L579.1,289.0 L581.1,292.2 Z" fill="#db8228"/><path d="M525.2,292.2 L527.4,285.5 L529.7,292.2 Z" fill="#e09130"/><path d="M530.7,292.3 L532.4,289.6 L534.1,292.3 Z" fill="#ce651d"/><path d="M589.2,292.3 L591.0,290.1 L592.8,292.3 Z" fill="#d46e1f"/><path d="M523.6,292.3 L525.4,289.8 L527.1,292.3 Z" fill="#d67120"/><path d="M573.9,292.4 L575.2,287.2 L576.4,292.4 Z" fill="#c45919"/><path d="M536.2,292.5 L538.4,285.9 L540.6,292.5 Z" fill="#e39c35"/><path d="M520.0,292.6 L521.9,289.2 L523.8,292.6 Z" fill="#ebba51"/><path d="M582.5,292.7 L583.8,288.5 L585.1,292.7 Z" fill="#6e320f"/><path d="M546.0,292.7 L548.3,290.2 L550.6,292.7 Z" fill="#c85e1a"/><path d="M536.2,292.7 L538.1,286.1 L540.0,292.7 Z" fill="#de8c2d"/><path d="M541.8,292.7 L543.1,287.9 L544.5,292.7 Z" fill="#d97924"/><path d="M550.0,292.8 L552.5,287.7 L554.9,292.8 Z" fill="#d1691e"/><path d="M560.4,292.8 L562.9,288.3 L565.4,292.8 Z" fill="#e29833"/><path d="M585.3,292.8 L587.8,290.0 L590.3,292.8 Z" fill="#c25618"/><path d="M528.4,292.9 L529.7,290.7 L531.0,292.9 Z" fill="#dd872b"/><path d="M531.8,292.9 L533.5,287.8 L535.3,292.9 Z" fill="#e29833"/><path d="M544.8,293.0 L546.1,286.6 L547.5,293.0 Z" fill="#d46d1f"/><path d="M589.2,293.1 L591.5,288.7 L593.8,293.1 Z" fill="#de8a2c"/><path d="M521.3,293.1 L522.8,290.9 L524.4,293.1 Z" fill="#ebba52"/><path d="M595.7,293.1 L597.4,288.3 L599.1,293.1 Z" fill="#d97a25"/><path d="M571.4,293.1 L572.8,286.3 L574.3,293.1 Z" fill="#6e320f"/><path d="M553.4,293.2 L555.8,286.9 L558.3,293.2 Z" fill="#da7d26"/><path d="M568.4,293.3 L570.5,286.3 L572.6,293.3 Z" fill="#6e320f"/><path d="M560.9,293.3 L562.8,289.3 L564.7,293.3 Z" fill="#d67020"/><path d="M560.6,293.3 L561.8,287.2 L563.0,293.3 Z" fill="#6e320f"/><path d="M584.1,293.4 L585.7,290.8 L587.4,293.4 Z" fill="#dd862a"/><path d="M577.6,293.4 L581.1,284.4 L584.6,293.4 Z" fill="#e8d6ce"/><path d="M552.0,293.5 L553.8,288.9 L555.5,293.5 Z" fill="#e9ae42"/><path d="M539.9,293.5 L541.2,289.3 L542.5,293.5 Z" fill="#c55a19"/><path d="M562.7,293.6 L565.0,287.3 L567.3,293.6 Z" fill="#d56f1f"/><path d="M534.5,293.7 L535.8,290.5 L537.1,293.7 Z" fill="#d67120"/><path d="M573.7,293.8 L575.8,291.4 L577.9,293.8 Z" fill="#e0902f"/><path d="M525.4,293.8 L527.0,290.4 L528.5,293.8 Z" fill="#dc8429"/><path d="M586.3,293.8 L588.0,291.4 L589.6,293.8 Z" fill="#e19431"/><path d="M515.8,294.0 L518.4,291.9 L521.0,294.0 Z" fill="#db8329"/><path d="M563.9,294.0 L566.0,289.0 L568.1,294.0 Z" fill="#e19532"/><path d="M546.5,294.2 L547.9,291.1 L549.2,294.2 Z" fill="#c9601b"/><path d="M569.0,294.2 L571.1,287.6 L573.1,294.2 Z" fill="#be5117"/><path d="M595.1,294.3 L596.8,291.1 L598.4,294.3 Z" fill="#b94a15"/><path d="M556.3,294.3 L558.8,287.7 L561.3,294.3 Z" fill="#eab64d"/><path d="M594.0,294.3 L595.7,291.9 L597.4,294.3 Z" fill="#d16a1e"/><path d="M547.8,294.3 L550.1,292.2 L552.5,294.3 Z" fill="#df8d2e"/><path d="M577.3,294.4 L579.6,288.0 L581.9,294.4 Z" fill="#e6a439"/><path d="M582.1,294.5 L584.2,292.2 L586.3,294.5 Z" fill="#cc631c"/><path d="M557.3,294.6 L559.6,291.9 L561.9,294.6 Z" fill="#c65c1a"/><path d="M553.1,294.6 L555.3,288.1 L557.6,294.6 Z" fill="#e29733"/><path d="M520.3,294.7 L522.2,289.7 L524.1,294.7 Z" fill="#d77623"/><path d="M540.5,294.8 L541.8,291.3 L543.2,294.8 Z" fill="#de8b2d"/><path d="M541.2,294.8 L543.1,292.8 L545.0,294.8 Z" fill="#dd892c"/><path d="M536.6,294.8 L538.9,291.6 L541.3,294.8 Z" fill="#da7f27"/><path d="M549.7,294.8 L552.3,288.9 L554.8,294.8 Z" fill="#c45919"/><path d="M514.2,294.9 L515.5,290.4 L516.9,294.9 Z" fill="#d77522"/><path d="M524.5,294.9 L526.2,292.6 L527.9,294.9 Z" fill="#de8c2d"/><path d="M530.2,294.9 L531.5,290.7 L532.8,294.9 Z" fill="#dc8329"/><path d="M512.9,295.0 L515.4,288.6 L517.9,295.0 Z" fill="#dc8429"/><path d="M574.6,295.0 L577.1,291.4 L579.5,295.0 Z" fill="#d97c26"/><path d="M537.1,295.0 L538.4,289.8 L539.7,295.0 Z" fill="#de8a2c"/><path d="M594.5,295.1 L596.1,290.1 L597.7,295.1 Z" fill="#6e320f"/><path d="M531.9,295.1 L534.0,292.6 L536.0,295.1 Z" fill="#d87623"/><path d="M573.7,295.1 L575.4,291.3 L577.1,295.1 Z" fill="#c65b1a"/><path d="M552.2,295.2 L554.5,290.2 L556.8,295.2 Z" fill="#cf681d"/><path d="M527.9,295.3 L530.0,291.8 L532.1,295.3 Z" fill="#6e320f"/><path d="M589.6,295.4 L591.9,291.6 L594.2,295.4 Z" fill="#b14012"/><path d="M532.8,295.6 L534.9,291.7 L537.0,295.6 Z" fill="#e29934"/><path d="M545.7,295.7 L547.8,288.9 L549.9,295.7 Z" fill="#df8e2e"/><path d="M582.3,295.7 L584.4,292.1 L586.6,295.7 Z" fill="#d77622"/><path d="M568.3,295.8 L569.6,291.0 L570.9,295.8 Z" fill="#e5a338"/><path d="M561.4,295.8 L564.0,289.0 L566.6,295.8 Z" fill="#6e320f"/><path d="M578.8,295.8 L580.7,290.8 L582.6,295.8 Z" fill="#6e320f"/><path d="M570.0,295.8 L571.7,291.7 L573.4,295.8 Z" fill="#da7f27"/><path d="M591.6,295.8 L593.4,292.5 L595.2,295.8 Z" fill="#d0681d"/><path d="M585.5,295.8 L588.1,290.3 L590.6,295.8 Z" fill="#e09130"/><path d="M521.3,296.0 L523.2,289.9 L525.2,296.0 Z" fill="#c85f1b"/><path d="M597.6,296.1 L600.1,289.4 L602.6,296.1 Z" fill="#6e320f"/><path d="M511.4,296.1 L513.0,289.6 L514.7,296.1 Z" fill="#6e320f"/><path d="M548.9,296.1 L550.5,289.6 L552.1,296.1 Z" fill="#e5a238"/><path d="M555.7,296.3 L557.3,290.6 L559.0,296.3 Z" fill="#d87924"/><path d="M561.1,296.4 L563.6,292.4 L566.2,296.4 Z" fill="#cd651d"/><path d="M535.8,296.4 L537.9,292.7 L540.1,296.4 Z" fill="#dc8429"/><path d="M585.4,296.4 L587.3,293.4 L589.2,296.4 Z" fill="#e49e36"/><path d="M517.3,296.6 L518.9,293.7 L520.4,296.6 Z" fill="#c9601b"/><path d="M520.7,296.6 L522.0,292.0 L523.3,296.6 Z" fill="#b14112"/><path d="M543.6,296.6 L544.9,293.8 L546.1,296.6 Z" fill="#da8027"/><path d="M564.3,296.6 L566.0,291.1 L567.7,296.6 Z" fill="#d67120"/><path d="M546.3,296.6 L548.1,292.7 L549.9,296.6 Z" fill="#ebba51"/><path d="M524.8,296.7 L526.6,294.0 L528.5,296.7 Z" fill="#da7d26"/><path d="M577.7,296.7 L579.3,291.7 L580.9,296.7 Z" fill="#6e320f"/><path d="M587.3,296.7 L589.1,290.4 L590.9,296.7 Z" fill="#d77422"/><path d="M596.2,296.7 L598.0,290.2 L599.8,296.7 Z" fill="#de8b2d"/><path d="M568.1,296.8 L569.8,290.1 L571.5,296.8 Z" fill="#e8ab3e"/><path d="M582.5,296.8 L583.9,293.6 L585.4,296.8 Z" fill="#6e320f"/><path d="M529.8,296.8 L532.4,292.5 L535.0,296.8 Z" fill="#eab74e"/><path d="M508.7,296.8 L510.1,290.5 L511.4,296.8 Z" fill="#dd862a"/><path d="M522.8,296.9 L524.6,294.6 L526.5,296.9 Z" fill="#cc631c"/><path d="M599.8,296.9 L601.3,293.4 L602.8,296.9 Z" fill="#d46d1f"/><path d="M572.4,297.0 L574.5,290.4 L576.7,297.0 Z" fill="#e9b247"/><path d="M559.8,297.0 L561.8,290.9 L563.9,297.0 Z" fill="#e09130"/><path d="M529.3,297.0 L531.8,291.1 L534.3,297.0 Z" fill="#b74814"/><path d="M529.0,297.1 L531.0,290.6 L533.0,297.1 Z" fill="#e6a339"/><path d="M552.3,297.1 L554.9,292.3 L557.5,297.1 Z" fill="#6e320f"/><path d="M574.4,297.1 L576.8,293.2 L579.2,297.1 Z" fill="#e9b246"/><path d="M543.4,297.3 L545.8,291.2 L548.3,297.3 Z" fill="#d36c1f"/><path d="M584.3,297.4 L585.8,295.3 L587.2,297.4 Z" fill="#eab74d"/><path d="M516.1,297.4 L517.6,294.1 L519.2,297.4 Z" fill="#d67020"/><path d="M550.9,297.4 L553.1,294.8 L555.3,297.4 Z" fill="#eab449"/><path d="M568.0,297.5 L569.9,294.2 L571.9,297.5 Z" fill="#e39a34"/><path d="M601.0,297.6 L603.2,291.7 L605.4,297.6 Z" fill="#da8027"/><path d="M598.0,297.6 L599.5,291.6 L601.0,297.6 Z" fill="#dc852a"/><path d="M512.2,297.7 L514.2,292.4 L516.2,297.7 Z" fill="#d87723"/><path d="M569.5,297.8 L571.6,293.4 L573.8,297.8 Z" fill="#db8128"/><path d="M541.8,297.8 L543.8,291.9 L545.8,297.8 Z" fill="#d46e1f"/><path d="M597.1,298.0 L598.6,295.6 L600.2,298.0 Z" fill="#d26b1e"/><path d="M514.4,298.0 L516.8,295.9 L519.2,298.0 Z" fill="#d77522"/><path d="M520.7,298.0 L524.1,286.5 L527.4,298.0 Z" fill="#e8d6ce"/><path d="M589.8,298.0 L591.4,291.4 L593.1,298.0 Z" fill="#6e320f"/><path d="M563.2,298.0 L564.7,294.0 L566.1,298.0 Z" fill="#c65b1a"/><path d="M595.7,298.1 L597.0,293.7 L598.3,298.1 Z" fill="#d77321"/><path d="M557.1,298.1 L558.3,293.4 L559.5,298.1 Z" fill="#df8f2e"/><path d="M539.6,298.1 L541.9,291.1 L544.1,298.1 Z" fill="#e0902f"/><path d="M506.1,298.1 L507.9,294.1 L509.8,298.1 Z" fill="#d16a1e"/><path d="M536.3,298.2 L538.3,294.5 L540.3,298.2 Z" fill="#6e320f"/><path d="M528.5,298.2 L530.7,292.3 L532.9,298.2 Z" fill="#d97b25"/><path d="M558.8,298.3 L562.4,289.5 L566.1,298.3 Z" fill="#e8d6ce"/><path d="M580.9,298.4 L582.6,291.9 L584.2,298.4 Z" fill="#dc852a"/><path d="M591.0,298.5 L593.2,292.7 L595.4,298.5 Z" fill="#e19331"/><path d="M508.8,298.6 L511.1,293.2 L513.4,298.6 Z" fill="#6e320f"/><path d="M517.9,298.6 L519.2,292.2 L520.4,298.6 Z" fill="#e5a138"/><path d="M548.4,298.7 L550.6,293.1 L552.8,298.7 Z" fill="#df8e2e"/><path d="M526.5,298.7 L528.2,296.6 L529.9,298.7 Z" fill="#ce661d"/><path d="M602.9,298.7 L605.2,292.9 L607.6,298.7 Z" fill="#6e320f"/><path d="M552.3,298.7 L554.0,292.9 L555.7,298.7 Z" fill="#e8ac3f"/><path d="M572.0,298.8 L573.8,294.0 L575.5,298.8 Z" fill="#d0691e"/><path d="M587.8,298.8 L589.7,295.3 L591.6,298.8 Z" fill="#6e320f"/><path d="M544.1,298.8 L547.6,291.6 L551.0,298.8 Z" fill="#e8d6ce"/><path d="M590.2,298.9 L591.6,296.9 L592.9,298.9 Z" fill="#d26b1e"/><path d="M601.2,298.9 L602.6,293.8 L604.0,298.9 Z" fill="#df8d2e"/><path d="M523.0,298.9 L525.4,292.7 L527.8,298.9 Z" fill="#6e320f"/><path d="M599.0,299.0 L600.3,293.9 L601.6,299.0 Z" fill="#d46e1f"/><path d="M580.8,299.0 L582.6,293.0 L584.4,299.0 Z" fill="#d77522"/><path d="M520.1,299.0 L522.5,292.3 L524.9,299.0 Z" fill="#d16a1e"/><path d="M569.6,299.1 L571.9,295.0 L574.1,299.1 Z" fill="#cc631c"/><path d="M564.6,299.1 L566.8,292.7 L569.0,299.1 Z" fill="#e4a037"/><path d="M549.5,299.1 L553.1,290.9 L556.6,299.1 Z" fill="#e8d6ce"/><path d="M584.5,299.1 L586.4,294.1 L588.3,299.1 Z" fill="#cf671d"/><path d="M512.9,299.1 L514.4,294.5 L516.0,299.1 Z" fill="#6e320f"/><path d="M530.9,299.2 L533.1,293.1 L535.3,299.2 Z" fill="#6e320f"/><path d="M525.9,299.3 L528.3,292.7 L530.7,299.3 Z" fill="#e5a338"/><path d="M555.1,299.3 L557.5,295.4 L559.9,299.3 Z" fill="#be5117"/><path d="M507.1,299.3 L509.3,293.6 L511.4,299.3 Z" fill="#ebb94f"/><path d="M571.1,299.4 L573.1,297.4 L575.1,299.4 Z" fill="#6e320f"/><path d="M595.2,299.4 L597.4,297.1 L599.6,299.4 Z" fill="#df8d2e"/><path d="M538.0,299.4 L539.6,296.5 L541.1,299.4 Z" fill="#ca611b"/><path d="M567.2,299.5 L568.7,294.7 L570.2,299.5 Z" fill="#6e320f"/><path d="M533.5,299.5 L535.6,293.3 L537.6,299.5 Z" fill="#c55a19"/><path d="M536.4,299.6 L538.0,297.4 L539.6,299.6 Z" fill="#db8229"/><path d="M606.1,299.6 L608.2,293.9 L610.2,299.6 Z" fill="#e09331"/><path d="M578.5,299.7 L579.7,296.5 L580.9,299.7 Z" fill="#dd862b"/><path d="M562.0,299.7 L563.9,297.2 L565.8,299.7 Z" fill="#6e320f"/><path d="M544.6,299.8 L546.4,295.2 L548.1,299.8 Z" fill="#e9b044"/><path d="M556.5,299.8 L558.7,297.3 L560.9,299.8 Z" fill="#dd872b"/><path d="M533.7,299.8 L535.5,297.5 L537.3,299.8 Z" fill="#e4a037"/><path d="M506.4,299.9 L508.5,293.6 L510.5,299.9 Z" fill="#ca611b"/><path d="M528.9,299.9 L531.1,293.1 L533.3,299.9 Z" fill="#d67221"/><path d="M595.8,300.0 L597.8,293.1 L599.9,300.0 Z" fill="#d56f1f"/><path d="M601.4,300.1 L603.9,293.5 L606.4,300.1 Z" fill="#e0902f"/><path d="M525.0,300.1 L527.6,293.4 L530.2,300.1 Z" fill="#6e320f"/><path d="M559.1,300.1 L561.2,294.8 L563.4,300.1 Z" fill="#bd5017"/><path d="M540.5,300.1 L542.3,294.2 L544.1,300.1 Z" fill="#d16a1e"/><path d="M576.9,300.2 L579.0,293.9 L581.2,300.2 Z" fill="#e09130"/><path d="M504.4,300.2 L507.0,295.0 L509.6,300.2 Z" fill="#c35819"/><path d="M586.2,300.3 L588.6,294.2 L590.9,300.3 Z" fill="#bc4f16"/><path d="M553.3,300.3 L555.1,294.9 L557.0,300.3 Z" fill="#d16a1e"/><path d="M581.9,300.3 L584.3,295.5 L586.7,300.3 Z" fill="#d67120"/><path d="M550.1,300.3 L551.8,297.9 L553.4,300.3 Z" fill="#d56f1f"/><path d="M578.9,300.4 L580.6,294.3 L582.3,300.4 Z" fill="#cc631c"/><path d="M522.4,300.4 L524.4,294.9 L526.5,300.4 Z" fill="#e19532"/><path d="M517.4,300.4 L520.0,297.1 L522.6,300.4 Z" fill="#e29732"/><path d="M536.3,300.5 L538.9,297.1 L541.4,300.5 Z" fill="#e19632"/><path d="M605.0,300.5 L606.2,297.5 L607.4,300.5 Z" fill="#d56e1f"/><path d="M563.9,300.6 L565.5,295.4 L567.1,300.6 Z" fill="#d46d1f"/><path d="M509.8,300.7 L512.3,295.8 L514.8,300.7 Z" fill="#edc55f"/><path d="M544.1,300.8 L545.6,297.2 L547.0,300.8 Z" fill="#dc852a"/><path d="M599.4,300.8 L600.7,295.9 L602.0,300.8 Z" fill="#d0681d"/><path d="M502.7,300.8 L504.5,296.2 L506.4,300.8 Z" fill="#6e320f"/><path d="M576.9,300.9 L579.0,294.5 L581.1,300.9 Z" fill="#e09230"/><path d="M590.9,300.9 L593.4,298.6 L596.0,300.9 Z" fill="#df8e2e"/><path d="M567.2,300.9 L569.5,294.5 L571.8,300.9 Z" fill="#e8ab3d"/><path d="M553.0,301.0 L556.4,289.8 L559.9,301.0 Z" fill="#e8d6ce"/><path d="M575.6,301.1 L577.2,294.8 L578.8,301.1 Z" fill="#e29733"/><path d="M563.5,301.1 L565.0,294.9 L566.5,301.1 Z" fill="#dd872b"/><path d="M562.6,301.1 L563.9,297.4 L565.2,301.1 Z" fill="#d87824"/><path d="M518.7,301.2 L520.7,298.7 L522.6,301.2 Z" fill="#bf5217"/><path d="M589.2,301.2 L591.4,297.7 L593.6,301.2 Z" fill="#dc862a"/><path d="M607.9,301.3 L610.0,297.9 L612.2,301.3 Z" fill="#d87823"/><path d="M500.6,301.3 L502.9,295.6 L505.2,301.3 Z" fill="#c95f1b"/><path d="M508.5,301.3 L511.0,298.1 L513.4,301.3 Z" fill="#d87824"/><path d="M524.0,301.3 L526.5,292.0 L528.9,301.3 Z" fill="#e8d6ce"/><path d="M517.6,301.4 L519.2,295.2 L520.9,301.4 Z" fill="#d87623"/><path d="M583.4,301.5 L585.7,298.5 L588.0,301.5 Z" fill="#db8228"/><path d="M587.3,301.5 L589.7,298.1 L592.2,301.5 Z" fill="#e29733"/><path d="M565.9,301.6 L568.3,295.5 L570.7,301.6 Z" fill="#da7f27"/><path d="M571.3,301.6 L573.0,299.6 L574.8,301.6 Z" fill="#df8e2e"/><path d="M602.8,301.6 L604.5,298.3 L606.2,301.6 Z" fill="#bb4d16"/><path d="M505.9,301.6 L507.4,298.8 L508.9,301.6 Z" fill="#d97b25"/><path d="M514.9,301.7 L516.4,295.9 L517.9,301.7 Z" fill="#e49e36"/><path d="M546.4,301.7 L548.2,295.7 L550.1,301.7 Z" fill="#c85e1a"/><path d="M532.7,301.7 L534.9,295.5 L537.2,301.7 Z" fill="#e8aa3c"/><path d="M588.3,301.7 L589.9,299.2 L591.5,301.7 Z" fill="#d87723"/><path d="M549.1,301.8 L550.6,298.8 L552.1,301.8 Z" fill="#dc8429"/><path d="M549.8,301.8 L552.1,298.7 L554.5,301.8 Z" fill="#df8d2e"/><path d="M558.5,301.8 L559.7,295.5 L560.9,301.8 Z" fill="#dd862a"/><path d="M579.8,301.8 L581.6,295.5 L583.4,301.8 Z" fill="#da8027"/><path d="M529.3,301.9 L530.8,296.2 L532.3,301.9 Z" fill="#d1691e"/><path d="M595.2,301.9 L597.6,297.1 L600.0,301.9 Z" fill="#cd641c"/><path d="M521.6,301.9 L523.5,296.8 L525.4,301.9 Z" fill="#cf681d"/><path d="M535.8,302.0 L537.6,298.0 L539.4,302.0 Z" fill="#cb621c"/><path d="M582.7,302.0 L585.2,296.8 L587.6,302.0 Z" fill="#edc661"/><path d="M593.0,302.0 L594.7,297.6 L596.3,302.0 Z" fill="#6e320f"/><path d="M543.5,302.1 L545.5,297.2 L547.4,302.1 Z" fill="#6e320f"/><path d="M610.5,302.2 L612.4,299.7 L614.3,302.2 Z" fill="#da7e26"/><path d="M533.7,302.2 L535.3,299.7 L537.0,302.2 Z" fill="#de8a2c"/><path d="M513.2,302.3 L515.2,296.7 L517.2,302.3 Z" fill="#cc631c"/><path d="M540.2,302.4 L542.0,298.6 L543.9,302.4 Z" fill="#e39a34"/><path d="M551.7,302.4 L553.1,298.7 L554.6,302.4 Z" fill="#d67221"/><path d="M609.1,302.4 L610.5,300.4 L612.0,302.4 Z" fill="#6e320f"/><path d="M501.1,302.4 L503.1,295.8 L505.1,302.4 Z" fill="#d97b25"/><path d="M597.5,302.4 L599.6,300.2 L601.7,302.4 Z" fill="#e19431"/><path d="M526.7,302.5 L528.0,298.5 L529.3,302.5 Z" fill="#db8228"/><path d="M508.5,302.5 L512.3,292.7 L516.1,302.5 Z" fill="#e8d6ce"/><path d="M564.2,302.6 L566.0,297.5 L567.7,302.6 Z" fill="#e19531"/><path d="M596.2,302.8 L598.4,296.7 L600.7,302.8 Z" fill="#d67221"/><path d="M499.1,302.9 L501.2,299.3 L503.4,302.9 Z" fill="#d67120"/><path d="M558.0,302.9 L559.9,298.9 L561.8,302.9 Z" fill="#c25618"/><path d="M575.1,303.0 L577.5,296.1 L579.8,303.0 Z" fill="#dd882b"/><path d="M600.7,303.0 L601.9,296.7 L603.2,303.0 Z" fill="#6e320f"/><path d="M610.3,303.1 L611.9,297.4 L613.5,303.1 Z" fill="#d67120"/><path d="M508.5,303.1 L509.9,300.7 L511.3,303.1 Z" fill="#d36c1e"/><path d="M605.7,303.2 L607.3,298.9 L609.0,303.2 Z" fill="#d87723"/><path d="M569.0,303.2 L570.2,296.9 L571.5,303.2 Z" fill="#ce661d"/><path d="M559.7,303.2 L562.1,299.6 L564.4,303.2 Z" fill="#e8ac3f"/><path d="M514.4,303.3 L516.4,300.8 L518.4,303.3 Z" fill="#df8f2f"/><path d="M528.4,303.3 L531.0,299.7 L533.5,303.3 Z" fill="#6e320f"/><path d="M547.3,303.3 L549.7,299.2 L552.2,303.3 Z" fill="#db8128"/><path d="M574.1,303.4 L577.9,294.5 L581.6,303.4 Z" fill="#e8d6ce"/><path d="M590.7,303.4 L592.4,298.7 L594.2,303.4 Z" fill="#d77522"/><path d="M524.9,303.5 L526.7,300.0 L528.5,303.5 Z" fill="#e09130"/><path d="M497.5,303.5 L498.9,299.2 L500.2,303.5 Z" fill="#db8229"/><path d="M539.3,303.5 L540.7,299.1 L542.1,303.5 Z" fill="#d36c1f"/><path d="M568.5,303.5 L569.8,299.4 L571.1,303.5 Z" fill="#e09130"/><path d="M550.2,303.5 L552.5,300.9 L554.8,303.5 Z" fill="#6e320f"/><path d="M543.7,303.5 L545.5,299.2 L547.3,303.5 Z" fill="#e29934"/><path d="M585.4,303.6 L587.8,299.0 L590.2,303.6 Z" fill="#e7a83b"/><path d="M519.2,303.7 L520.5,298.0 L521.8,303.7 Z" fill="#dd882b"/><path d="M534.9,303.7 L536.3,301.6 L537.8,303.7 Z" fill="#e6a439"/><path d="M580.5,303.8 L582.6,299.5 L584.7,303.8 Z" fill="#d97b25"/><path d="M531.8,303.8 L533.3,297.5 L534.7,303.8 Z" fill="#e49f36"/><path d="M572.9,303.8 L575.0,299.1 L577.0,303.8 Z" fill="#c9601b"/><path d="M519.9,303.9 L522.4,300.5 L525.0,303.9 Z" fill="#db8228"/><path d="M541.3,303.9 L544.6,293.9 L548.0,303.9 Z" fill="#e8d6ce"/><path d="M558.3,304.0 L560.0,300.4 L561.8,304.0 Z" fill="#dd892c"/><path d="M548.7,304.0 L550.7,297.0 L552.7,304.0 Z" fill="#d0691e"/><path d="M494.3,304.0 L496.7,301.3 L499.1,304.0 Z" fill="#d26b1e"/><path d="M563.4,304.0 L565.2,300.9 L567.1,304.0 Z" fill="#b24112"/><path d="M573.7,304.0 L576.2,300.9 L578.8,304.0 Z" fill="#e19431"/><path d="M526.5,304.0 L528.9,297.2 L531.3,304.0 Z" fill="#d56f1f"/><path d="M598.6,304.0 L600.5,300.6 L602.4,304.0 Z" fill="#d67020"/><path d="M556.2,304.0 L557.7,301.4 L559.1,304.0 Z" fill="#dc852a"/><path d="M552.6,304.1 L554.9,300.0 L557.2,304.1 Z" fill="#e29934"/><path d="M595.4,304.2 L597.5,297.7 L599.7,304.2 Z" fill="#6e320f"/><path d="M585.1,304.2 L586.6,297.6 L588.1,304.2 Z" fill="#e7a63a"/><path d="M501.2,304.2 L503.5,298.5 L505.8,304.2 Z" fill="#c55a1a"/><path d="M504.1,304.3 L505.7,297.3 L507.3,304.3 Z" fill="#db8329"/><path d="M596.4,304.3 L597.8,297.4 L599.2,304.3 Z" fill="#b94a15"/><path d="M604.6,304.4 L605.8,298.9 L607.1,304.4 Z" fill="#b94a15"/><path d="M588.5,304.4 L589.8,299.6 L591.1,304.4 Z" fill="#e39d35"/><path d="M503.8,304.4 L505.4,298.9 L506.9,304.4 Z" fill="#c25719"/><path d="M534.1,304.4 L536.0,298.7 L537.8,304.4 Z" fill="#ecbd55"/><path d="M571.8,304.6 L573.6,298.1 L575.5,304.6 Z" fill="#dd892c"/><path d="M508.7,304.6 L510.6,299.6 L512.6,304.6 Z" fill="#6e320f"/><path d="M556.5,304.6 L558.2,302.3 L559.9,304.6 Z" fill="#ce661d"/><path d="M511.6,304.6 L514.0,300.0 L516.3,304.6 Z" fill="#da7f27"/><path d="M593.3,304.7 L594.5,302.1 L595.8,304.7 Z" fill="#e8aa3c"/><path d="M539.9,304.7 L541.7,298.4 L543.6,304.7 Z" fill="#e49d36"/><path d="M497.7,304.8 L499.7,300.9 L501.7,304.8 Z" fill="#d36d1f"/><path d="M579.4,304.9 L581.9,299.5 L584.3,304.9 Z" fill="#d77321"/><path d="M573.0,304.9 L575.3,298.9 L577.6,304.9 Z" fill="#c9601b"/><path d="M607.8,304.9 L609.2,300.8 L610.6,304.9 Z" fill="#dd872b"/><path d="M530.3,305.0 L532.7,299.3 L535.0,305.0 Z" fill="#d67020"/><path d="M560.3,305.0 L562.4,298.6 L564.4,305.0 Z" fill="#6e320f"/><path d="M600.8,305.0 L602.7,300.9 L604.5,305.0 Z" fill="#6e320f"/><path d="M513.0,305.1 L516.4,295.3 L519.9,305.1 Z" fill="#e8d6ce"/><path d="M516.3,305.1 L519.5,296.7 L522.6,305.1 Z" fill="#e8d6ce"/><path d="M525.8,305.2 L527.4,302.7 L529.1,305.2 Z" fill="#6e320f"/><path d="M540.0,305.2 L541.5,301.1 L543.0,305.2 Z" fill="#dd882b"/><path d="M551.4,305.2 L553.7,301.2 L556.0,305.2 Z" fill="#c55a19"/><path d="M548.4,305.3 L549.6,299.3 L550.8,305.3 Z" fill="#6e320f"/><path d="M508.2,305.3 L510.6,300.3 L512.9,305.3 Z" fill="#de8c2d"/><path d="M531.2,305.3 L533.8,301.2 L536.3,305.3 Z" fill="#e39c35"/><path d="M605.9,305.4 L607.7,301.2 L609.5,305.4 Z" fill="#d67221"/><path d="M510.3,305.4 L512.6,298.4 L514.9,305.4 Z" fill="#6e320f"/><path d="M506.3,305.5 L507.9,299.2 L509.5,305.5 Z" fill="#dd862a"/><path d="M554.7,305.5 L556.4,298.9 L558.1,305.5 Z" fill="#e9af43"/><path d="M570.7,305.5 L572.8,300.0 L574.9,305.5 Z" fill="#dd892c"/><path d="M543.9,305.5 L545.6,301.7 L547.4,305.5 Z" fill="#e49f36"/><path d="M562.7,305.6 L565.3,298.9 L567.9,305.6 Z" fill="#e39c35"/><path d="M517.2,305.6 L519.3,303.2 L521.5,305.6 Z" fill="#d67221"/><path d="M499.2,305.7 L501.3,301.0 L503.4,305.7 Z" fill="#d87623"/><path d="M522.0,305.7 L524.0,301.2 L526.0,305.7 Z" fill="#e0912f"/><path d="M519.0,305.8 L521.5,302.8 L524.0,305.8 Z" fill="#e39c35"/><path d="M585.4,305.8 L587.2,298.8 L589.1,305.8 Z" fill="#e19632"/><path d="M601.7,305.8 L603.8,302.3 L605.8,305.8 Z" fill="#d67120"/><path d="M505.5,305.8 L507.7,299.2 L509.8,305.8 Z" fill="#de8a2c"/><path d="M565.2,305.9 L567.3,301.6 L569.4,305.9 Z" fill="#e0902f"/><path d="M581.1,306.0 L582.6,301.1 L584.0,306.0 Z" fill="#dd882b"/><path d="M597.4,306.0 L600.0,302.2 L602.5,306.0 Z" fill="#d97a24"/><path d="M558.0,306.0 L559.4,302.5 L560.7,306.0 Z" fill="#e09330"/><path d="M592.6,306.0 L594.4,303.5 L596.2,306.0 Z" fill="#b54514"/><path d="M578.5,306.0 L580.7,300.1 L583.0,306.0 Z" fill="#6e320f"/><path d="M489.1,306.0 L492.1,295.3 L495.2,306.0 Z" fill="#e8d6ce"/><path d="M522.2,306.1 L523.9,303.3 L525.6,306.1 Z" fill="#e0902f"/><path d="M577.0,306.1 L578.4,299.5 L579.7,306.1 Z" fill="#df8f2f"/><path d="M568.9,306.1 L570.3,301.1 L571.6,306.1 Z" fill="#cb621c"/><path d="M572.2,306.1 L574.3,299.2 L576.3,306.1 Z" fill="#6e320f"/><path d="M495.8,306.2 L498.4,301.5 L500.9,306.2 Z" fill="#d87924"/><path d="M590.6,306.2 L592.3,300.6 L594.0,306.2 Z" fill="#6e320f"/><path d="M564.6,306.3 L566.8,304.0 L568.9,306.3 Z" fill="#e6a439"/><path d="M539.7,306.3 L541.3,302.6 L542.9,306.3 Z" fill="#db8028"/><path d="M511.1,306.4 L513.3,300.3 L515.4,306.4 Z" fill="#cd641c"/><path d="M533.5,306.4 L536.1,301.2 L538.7,306.4 Z" fill="#ebb950"/><path d="M492.4,306.4 L493.8,301.7 L495.3,306.4 Z" fill="#d77522"/><path d="M549.2,306.4 L551.5,301.1 L553.9,306.4 Z" fill="#c75c1a"/><path d="M592.5,306.4 L594.0,302.2 L595.5,306.4 Z" fill="#d97a25"/><path d="M536.5,306.5 L538.5,303.9 L540.4,306.5 Z" fill="#d46e1f"/><path d="M527.0,306.6 L529.3,300.6 L531.7,306.6 Z" fill="#d26b1e"/><path d="M586.6,306.7 L588.7,301.4 L590.7,306.7 Z" fill="#6e320f"/><path d="M515.3,306.7 L517.2,304.5 L519.0,306.7 Z" fill="#b84915"/><path d="M585.3,306.9 L586.9,301.4 L588.6,306.9 Z" fill="#dc8429"/><path d="M550.9,306.9 L553.1,303.7 L555.3,306.9 Z" fill="#e09330"/><path d="M545.8,306.9 L548.3,301.9 L550.7,306.9 Z" fill="#db8229"/><path d="M557.8,306.9 L559.3,301.8 L560.8,306.9 Z" fill="#dc852a"/><path d="M543.8,306.9 L545.7,303.0 L547.5,306.9 Z" fill="#df8e2e"/><path d="M580.3,306.9 L581.8,302.2 L583.4,306.9 Z" fill="#e39a34"/><path d="M493.5,307.0 L495.0,304.3 L496.5,307.0 Z" fill="#d1691e"/><path d="M527.7,307.0 L529.9,304.5 L532.0,307.0 Z" fill="#e29732"/><path d="M529.8,307.1 L531.7,304.1 L533.5,307.1 Z" fill="#db8128"/><path d="M570.2,307.1 L572.8,302.6 L575.4,307.1 Z" fill="#ba4c16"/><path d="M496.7,307.1 L498.2,301.4 L499.6,307.1 Z" fill="#bb4e16"/><path d="M554.7,307.2 L557.3,301.5 L559.9,307.2 Z" fill="#da7e27"/><path d="M594.7,307.2 L597.1,300.7 L599.5,307.2 Z" fill="#e19531"/><path d="M508.7,307.3 L510.2,303.0 L511.6,307.3 Z" fill="#d87723"/><path d="M527.0,307.4 L528.4,303.5 L529.7,307.4 Z" fill="#de892c"/><path d="M531.1,307.5 L533.7,301.2 L536.2,307.5 Z" fill="#e8ab3d"/><path d="M493.2,307.5 L494.8,300.6 L496.4,307.5 Z" fill="#ca611b"/><path d="M571.8,307.5 L573.9,304.9 L575.9,307.5 Z" fill="#6e320f"/><path d="M576.2,307.5 L577.9,301.7 L579.5,307.5 Z" fill="#e09130"/><path d="M549.8,307.5 L551.6,305.5 L553.4,307.5 Z" fill="#dc8329"/><path d="M561.9,307.6 L564.1,300.8 L566.3,307.6 Z" fill="#dd882c"/><path d="M520.1,307.6 L522.6,305.5 L525.0,307.6 Z" fill="#e6a63a"/><path d="M594.7,307.6 L596.8,301.7 L598.9,307.6 Z" fill="#d1691e"/><path d="M502.1,307.7 L504.3,302.5 L506.5,307.7 Z" fill="#d0691e"/><path d="M517.9,307.7 L519.1,302.2 L520.4,307.7 Z" fill="#ca601b"/><path d="M538.6,307.7 L540.9,303.3 L543.1,307.7 Z" fill="#e7a73a"/><path d="M567.2,307.7 L569.1,304.7 L570.9,307.7 Z" fill="#c9601b"/><path d="M499.0,307.7 L500.6,303.0 L502.3,307.7 Z" fill="#6e320f"/><path d="M543.7,307.8 L546.2,305.3 L548.8,307.8 Z" fill="#d97a24"/><path d="M511.2,307.8 L512.9,303.4 L514.6,307.8 Z" fill="#de8a2c"/><path d="M602.1,307.8 L603.9,301.4 L605.7,307.8 Z" fill="#aa3710"/><path d="M522.1,307.9 L524.7,305.4 L527.3,307.9 Z" fill="#eab64c"/><path d="M585.6,307.9 L589.0,296.5 L592.5,307.9 Z" fill="#e8d6ce"/><path d="M502.0,307.9 L503.8,302.1 L505.6,307.9 Z" fill="#d67120"/><path d="M542.1,308.0 L543.9,302.5 L545.8,308.0 Z" fill="#c25618"/><path d="M582.5,308.1 L584.7,302.3 L586.9,308.1 Z" fill="#cb621c"/><path d="M559.5,308.2 L560.8,303.3 L562.1,308.2 Z" fill="#dc8329"/><path d="M509.4,308.2 L511.7,305.6 L514.0,308.2 Z" fill="#db8028"/><path d="M541.5,308.2 L543.1,306.0 L544.6,308.2 Z" fill="#cc631c"/><path d="M507.0,308.3 L508.6,304.7 L510.3,308.3 Z" fill="#d77522"/><path d="M525.3,308.4 L527.8,302.4 L530.2,308.4 Z" fill="#d77622"/><path d="M511.9,308.5 L513.5,304.0 L515.0,308.5 Z" fill="#df8d2e"/><path d="M528.3,308.5 L530.9,305.1 L533.5,308.5 Z" fill="#d87723"/><path d="M587.1,308.5 L589.1,302.4 L591.1,308.5 Z" fill="#df8e2e"/><path d="M564.0,308.6 L566.5,303.1 L568.9,308.6 Z" fill="#d67020"/><path d="M574.1,308.6 L577.0,300.5 L579.9,308.6 Z" fill="#e8d6ce"/><path d="M581.0,308.6 L583.3,304.4 L585.6,308.6 Z" fill="#e39a34"/><path d="M551.8,308.6 L553.1,305.2 L554.4,308.6 Z" fill="#c15518"/><path d="M555.4,308.7 L557.7,305.2 L560.0,308.7 Z" fill="#de8c2d"/><path d="M591.6,308.7 L592.9,304.9 L594.2,308.7 Z" fill="#e29934"/><path d="M536.2,308.8 L537.8,306.0 L539.4,308.8 Z" fill="#d16a1e"/><path d="M569.8,308.8 L571.4,306.5 L572.9,308.8 Z" fill="#e49e36"/><path d="M546.6,308.9 L548.2,302.5 L549.8,308.9 Z" fill="#e49e36"/><path d="M499.9,308.9 L501.6,304.1 L503.2,308.9 Z" fill="#e6a439"/><path d="M534.1,309.0 L536.4,302.3 L538.7,309.0 Z" fill="#dc8329"/><path d="M599.0,309.0 L600.7,306.4 L602.3,309.0 Z" fill="#6e320f"/><path d="M542.3,309.0 L543.9,304.5 L545.6,309.0 Z" fill="#de8a2c"/><path d="M571.6,309.0 L573.8,306.0 L576.0,309.0 Z" fill="#dc852a"/><path d="M578.2,309.2 L580.5,306.7 L582.7,309.2 Z" fill="#eab54b"/><path d="M494.7,309.2 L496.2,304.6 L497.7,309.2 Z" fill="#ebbc54"/><path d="M521.4,309.2 L523.8,304.1 L526.3,309.2 Z" fill="#6e320f"/><path d="M548.6,309.4 L550.6,305.6 L552.6,309.4 Z" fill="#d56f1f"/><path d="M594.3,309.4 L596.0,304.2 L597.8,309.4 Z" fill="#6e320f"/><path d="M584.7,309.6 L586.6,306.6 L588.4,309.6 Z" fill="#df8d2e"/><path d="M522.2,309.6 L524.2,305.5 L526.2,309.6 Z" fill="#e19632"/><path d="M560.9,309.6 L562.3,307.5 L563.8,309.6 Z" fill="#de8b2d"/><path d="M537.2,309.7 L539.0,304.1 L540.8,309.7 Z" fill="#de8c2d"/><path d="M554.2,309.7 L556.6,305.2 L559.1,309.7 Z" fill="#d97a24"/><path d="M504.0,309.7 L505.5,306.4 L506.9,309.7 Z" fill="#6e320f"/><path d="M506.8,309.8 L508.2,305.2 L509.7,309.8 Z" fill="#e6a539"/><path d="M581.1,309.8 L582.7,304.0 L584.2,309.8 Z" fill="#d0691e"/><path d="M511.0,309.8 L513.0,305.8 L514.9,309.8 Z" fill="#dd872b"/><path d="M515.3,309.9 L517.4,306.8 L519.5,309.9 Z" fill="#d87723"/><path d="M565.5,309.9 L567.6,304.9 L569.7,309.9 Z" fill="#ce651d"/><path d="M539.5,310.0 L541.8,304.4 L544.1,310.0 Z" fill="#d97924"/><path d="M513.6,310.0 L515.9,306.3 L518.2,310.0 Z" fill="#c85e1a"/><path d="M501.5,310.0 L503.2,304.2 L505.0,310.0 Z" fill="#dd872b"/><path d="M587.1,310.1 L588.9,308.0 L590.6,310.1 Z" fill="#dd882b"/><path d="M498.3,310.1 L500.0,307.0 L501.7,310.1 Z" fill="#e0902f"/><path d="M556.8,310.1 L559.1,307.1 L561.3,310.1 Z" fill="#db8128"/><path d="M517.1,310.1 L519.0,306.6 L521.0,310.1 Z" fill="#de8c2d"/><path d="M572.4,310.1 L574.1,303.8 L575.9,310.1 Z" fill="#cc631c"/><path d="M597.6,310.2 L599.0,305.0 L600.3,310.2 Z" fill="#d97924"/><path d="M506.0,310.2 L507.6,306.9 L509.1,310.2 Z" fill="#c35719"/><path d="M551.6,310.3 L553.6,304.4 L555.7,310.3 Z" fill="#da7f27"/><path d="M519.7,310.3 L521.6,305.4 L523.5,310.3 Z" fill="#6e320f"/><path d="M520.9,310.3 L523.5,304.3 L526.1,310.3 Z" fill="#db8329"/><path d="M576.5,310.4 L578.8,306.7 L581.1,310.4 Z" fill="#e39c35"/><path d="M532.6,310.4 L533.9,306.9 L535.2,310.4 Z" fill="#de8b2d"/><path d="M591.9,310.4 L593.8,306.3 L595.8,310.4 Z" fill="#c05418"/><path d="M584.2,310.4 L586.1,304.9 L588.0,310.4 Z" fill="#da7c26"/><path d="M593.1,310.5 L594.6,307.5 L596.0,310.5 Z" fill="#da7d26"/><path d="M573.0,310.5 L575.4,306.6 L577.8,310.5 Z" fill="#de8c2d"/><path d="M535.9,310.6 L538.1,306.7 L540.2,310.6 Z" fill="#cf661d"/><path d="M527.9,310.6 L529.2,306.2 L530.4,310.6 Z" fill="#df8f2f"/><path d="M509.2,310.6 L511.6,308.5 L514.0,310.6 Z" fill="#6e320f"/><path d="M556.3,310.6 L558.7,307.7 L561.2,310.6 Z" fill="#d16a1e"/><path d="M587.6,310.7 L589.5,304.1 L591.5,310.7 Z" fill="#6e320f"/><path d="M553.0,310.8 L555.3,306.5 L557.6,310.8 Z" fill="#ca611b"/><path d="M566.5,310.9 L569.0,303.9 L571.4,310.9 Z" fill="#db8128"/><path d="M594.9,310.9 L596.5,304.5 L598.0,310.9 Z" fill="#d16a1e"/><path d="M548.8,310.9 L550.5,305.3 L552.1,310.9 Z" fill="#e29733"/><path d="M534.8,311.1 L536.7,304.1 L538.5,311.1 Z" fill="#6e320f"/><path d="M531.5,311.1 L533.3,308.7 L535.1,311.1 Z" fill="#dd882b"/><path d="M507.3,311.2 L509.0,306.6 L510.7,311.2 Z" fill="#d67120"/><path d="M526.7,311.2 L528.9,305.5 L531.0,311.2 Z" fill="#e9b145"/><path d="M545.2,311.3 L547.1,308.6 L549.1,311.3 Z" fill="#d46e1f"/><path d="M497.5,311.3 L499.4,309.2 L501.3,311.3 Z" fill="#e6a339"/><path d="M563.3,311.3 L565.3,306.0 L567.2,311.3 Z" fill="#6e320f"/><path d="M581.9,311.3 L584.1,304.6 L586.3,311.3 Z" fill="#db8028"/><path d="M505.0,311.4 L506.3,308.3 L507.5,311.4 Z" fill="#db8329"/><path d="M528.3,311.4 L529.7,307.6 L531.2,311.4 Z" fill="#e39b35"/><path d="M580.1,311.5 L582.1,306.0 L584.2,311.5 Z" fill="#c75d1a"/><path d="M545.4,311.6 L547.1,309.2 L548.9,311.6 Z" fill="#6e320f"/><path d="M560.7,311.6 L562.9,305.4 L565.0,311.6 Z" fill="#6e320f"/><path d="M538.1,311.7 L539.6,308.1 L541.1,311.7 Z" fill="#6e320f"/><path d="M523.3,311.7 L525.6,309.0 L527.9,311.7 Z" fill="#e6a439"/><path d="M573.5,311.8 L574.8,306.9 L576.2,311.8 Z" fill="#cb631c"/><path d="M554.5,311.9 L557.0,308.8 L559.6,311.9 Z" fill="#dc862a"/><path d="M512.7,311.9 L514.7,307.9 L516.8,311.9 Z" fill="#da7e26"/><path d="M541.8,311.9 L543.9,306.9 L546.0,311.9 Z" fill="#e6a539"/><path d="M536.2,311.9 L537.6,309.2 L538.9,311.9 Z" fill="#d46e1f"/><path d="M505.7,312.1 L507.2,307.4 L508.7,312.1 Z" fill="#d97b25"/><path d="M500.5,312.1 L502.6,309.7 L504.7,312.1 Z" fill="#6e320f"/><path d="M578.3,312.1 L579.6,309.1 L581.0,312.1 Z" fill="#d77522"/><path d="M570.2,312.1 L571.6,309.8 L573.0,312.1 Z" fill="#db8027"/><path d="M566.2,312.2 L568.4,309.5 L570.6,312.2 Z" fill="#eab449"/><path d="M515.7,312.2 L517.7,306.9 L519.7,312.2 Z" fill="#d16a1e"/><path d="M565.4,312.2 L567.4,308.2 L569.3,312.2 Z" fill="#6e320f"/><path d="M559.9,312.3 L561.2,307.4 L562.5,312.3 Z" fill="#c45819"/><path d="M509.4,312.3 L511.7,309.6 L514.0,312.3 Z" fill="#6e320f"/><path d="M520.4,312.3 L521.6,307.9 L522.8,312.3 Z" fill="#e29733"/><path d="M591.1,312.6 L593.4,307.5 L595.8,312.6 Z" fill="#6e320f"/><path d="M569.7,312.6 L572.0,306.0 L574.2,312.6 Z" fill="#c45819"/><path d="M533.2,312.6 L534.5,309.7 L535.8,312.6 Z" fill="#da7f27"/><path d="M522.2,312.6 L524.3,307.2 L526.4,312.6 Z" fill="#c9601b"/><path d="M551.8,312.7 L553.9,308.8 L556.1,312.7 Z" fill="#dd892c"/><path d="M551.0,312.8 L552.7,307.0 L554.4,312.8 Z" fill="#cc641c"/><path d="M585.2,312.8 L587.1,308.5 L589.0,312.8 Z" fill="#6e320f"/><path d="M544.0,312.9 L546.1,310.1 L548.2,312.9 Z" fill="#e7a83b"/><path d="M529.2,312.9 L531.1,306.0 L533.0,312.9 Z" fill="#6e320f"/><path d="M589.2,312.9 L591.0,307.8 L592.8,312.9 Z" fill="#6e320f"/><path d="M512.3,313.0 L513.5,309.4 L514.8,313.0 Z" fill="#d77422"/><path d="M564.0,313.0 L565.6,310.4 L567.1,313.0 Z" fill="#dc8329"/><path d="M580.8,313.0 L582.6,306.9 L584.4,313.0 Z" fill="#e8aa3c"/><path d="M525.4,313.0 L527.6,310.4 L529.7,313.0 Z" fill="#d87824"/><path d="M518.1,313.1 L519.5,308.8 L521.0,313.1 Z" fill="#d87824"/><path d="M585.9,313.2 L588.5,310.0 L591.1,313.2 Z" fill="#6e320f"/><path d="M519.4,313.2 L521.5,307.3 L523.6,313.2 Z" fill="#e7a73a"/><path d="M541.3,313.2 L542.8,308.2 L544.3,313.2 Z" fill="#6e320f"/><path d="M558.1,313.2 L560.3,307.7 L562.5,313.2 Z" fill="#c75d1a"/><path d="M559.5,313.4 L561.5,310.1 L563.4,313.4 Z" fill="#d67020"/><path d="M547.0,313.5 L549.1,311.4 L551.3,313.5 Z" fill="#d67120"/><path d="M567.0,313.5 L568.3,306.5 L569.6,313.5 Z" fill="#edc35d"/><path d="M515.9,313.6 L517.3,308.0 L518.8,313.6 Z" fill="#6e320f"/><path d="M548.8,313.6 L550.1,310.4 L551.5,313.6 Z" fill="#d26a1e"/><path d="M536.2,313.6 L537.4,310.1 L538.7,313.6 Z" fill="#d56e1f"/><path d="M505.3,313.6 L506.7,308.4 L508.1,313.6 Z" fill="#d87723"/><path d="M550.0,313.7 L552.4,310.7 L554.8,313.7 Z" fill="#6e320f"/><path d="M576.2,313.7 L577.4,306.8 L578.6,313.7 Z" fill="#e6a439"/><path d="M524.9,313.7 L526.4,307.1 L528.0,313.7 Z" fill="#b14112"/><path d="M540.7,313.9 L542.1,310.2 L543.5,313.9 Z" fill="#ecc15b"/><path d="M573.3,313.9 L574.9,309.3 L576.5,313.9 Z" fill="#cb611c"/><path d="M569.5,314.0 L571.7,307.3 L573.8,314.0 Z" fill="#d46e1f"/><path d="M558.4,314.0 L560.4,309.2 L562.4,314.0 Z" fill="#c05318"/><path d="M563.2,314.0 L565.2,308.6 L567.2,314.0 Z" fill="#c45919"/><path d="M509.1,314.0 L511.6,307.1 L514.1,314.0 Z" fill="#6e320f"/><path d="M580.3,314.2 L582.6,311.5 L584.8,314.2 Z" fill="#d87623"/><path d="M533.6,314.2 L535.1,307.4 L536.6,314.2 Z" fill="#d26b1e"/><path d="M527.5,314.3 L529.8,311.8 L532.1,314.3 Z" fill="#dc852a"/><path d="M584.5,314.3 L586.7,310.4 L588.9,314.3 Z" fill="#6e320f"/><path d="M506.6,314.4 L508.5,310.4 L510.4,314.4 Z" fill="#dc862a"/><path d="M542.5,314.5 L544.6,310.2 L546.7,314.5 Z" fill="#d36d1f"/><path d="M579.4,314.6 L581.1,308.8 L582.8,314.6 Z" fill="#db8027"/><path d="M569.6,314.6 L572.1,310.6 L574.6,314.6 Z" fill="#dc852a"/><path d="M541.9,314.8 L543.5,311.4 L545.1,314.8 Z" fill="#e49d36"/><path d="M508.3,314.8 L510.1,312.4 L511.8,314.8 Z" fill="#6e320f"/><path d="M515.5,314.9 L517.0,310.4 L518.6,314.9 Z" fill="#e29732"/><path d="M534.9,315.0 L536.6,310.6 L538.4,315.0 Z" fill="#e9b146"/><path d="M554.9,315.0 L556.7,309.0 L558.6,315.0 Z" fill="#d36c1f"/><path d="M516.6,315.1 L518.7,309.1 L520.8,315.1 Z" fill="#cb611c"/><path d="M542.5,315.1 L544.8,309.1 L547.2,315.1 Z" fill="#df8d2e"/><path d="M579.8,315.2 L581.6,309.1 L583.3,315.2 Z" fill="#efcd6a"/><path d="M550.2,315.3 L551.5,309.7 L552.9,315.3 Z" fill="#cb621c"/><path d="M505.5,315.5 L507.4,309.5 L509.2,315.5 Z" fill="#d87723"/><path d="M557.8,315.5 L560.4,306.7 L563.0,315.5 Z" fill="#e8d6ce"/><path d="M533.4,315.6 L535.3,313.3 L537.3,315.6 Z" fill="#d77422"/><path d="M552.2,315.6 L554.6,310.5 L557.1,315.6 Z" fill="#c35719"/><path d="M567.9,315.7 L569.6,309.7 L571.3,315.7 Z" fill="#cc631c"/><path d="M514.2,315.7 L516.2,312.1 L518.2,315.7 Z" fill="#d97b25"/><path d="M574.0,315.7 L576.4,310.8 L578.9,315.7 Z" fill="#dd862a"/><path d="M547.5,315.7 L549.6,313.6 L551.6,315.7 Z" fill="#6e320f"/><path d="M577.9,315.8 L579.7,310.8 L581.5,315.8 Z" fill="#d36d1f"/><path d="M543.8,315.9 L545.4,310.9 L547.0,315.9 Z" fill="#cd651c"/><path d="M520.2,315.9 L522.4,312.2 L524.7,315.9 Z" fill="#b84915"/><path d="M575.1,316.0 L577.6,312.3 L580.0,316.0 Z" fill="#c55a19"/><path d="M525.8,316.0 L527.3,310.3 L528.7,316.0 Z" fill="#c55a19"/><path d="M522.2,316.0 L523.4,309.6 L524.6,316.0 Z" fill="#e4a037"/><path d="M528.8,316.0 L530.9,314.0 L533.0,316.0 Z" fill="#6e320f"/><path d="M538.1,316.1 L540.7,312.9 L543.3,316.1 Z" fill="#d56f1f"/><path d="M584.2,316.2 L585.6,311.3 L587.0,316.2 Z" fill="#d0681d"/><path d="M561.0,316.2 L562.4,309.7 L563.9,316.2 Z" fill="#de8a2c"/><path d="M532.7,316.2 L534.7,310.8 L536.6,316.2 Z" fill="#df902f"/><path d="M507.2,316.3 L508.8,309.8 L510.4,316.3 Z" fill="#d77422"/><path d="M565.7,316.4 L568.2,311.2 L570.7,316.4 Z" fill="#6e320f"/><path d="M522.6,316.4 L524.2,311.5 L525.9,316.4 Z" fill="#cc631c"/><path d="M510.4,316.4 L512.3,310.5 L514.3,316.4 Z" fill="#dd882b"/><path d="M509.3,316.4 L510.9,313.5 L512.5,316.4 Z" fill="#de8a2c"/><path d="M570.5,316.4 L572.8,311.3 L575.1,316.4 Z" fill="#da7e27"/><path d="M554.3,316.4 L555.7,310.7 L557.0,316.4 Z" fill="#de8a2c"/><path d="M544.9,316.5 L546.3,313.2 L547.7,316.5 Z" fill="#e09130"/><path d="M549.5,316.6 L551.5,309.6 L553.6,316.6 Z" fill="#dc8429"/><path d="M580.7,316.7 L582.9,313.0 L585.1,316.7 Z" fill="#ae3d11"/><path d="M552.7,316.7 L554.5,313.5 L556.2,316.7 Z" fill="#ebba51"/><path d="M569.8,316.8 L572.4,310.8 L574.9,316.8 Z" fill="#dd872b"/><path d="M521.6,316.9 L523.9,312.2 L526.2,316.9 Z" fill="#d97a25"/><path d="M527.6,317.0 L529.9,314.1 L532.3,317.0 Z" fill="#e49e36"/><path d="M555.6,317.0 L558.1,312.7 L560.7,317.0 Z" fill="#de8b2d"/><path d="M513.3,317.3 L515.6,311.6 L517.9,317.3 Z" fill="#6e320f"/><path d="M550.1,317.4 L552.4,312.2 L554.6,317.4 Z" fill="#d0681d"/><path d="M559.5,317.5 L560.8,313.9 L562.1,317.5 Z" fill="#de892c"/><path d="M535.8,317.5 L537.9,312.1 L540.0,317.5 Z" fill="#d16a1e"/><path d="M576.6,317.5 L578.2,312.5 L579.7,317.5 Z" fill="#d87824"/><path d="M573.7,317.5 L576.0,312.2 L578.2,317.5 Z" fill="#e39b34"/><path d="M568.0,317.6 L570.4,313.3 L572.9,317.6 Z" fill="#d87723"/><path d="M563.1,317.6 L564.9,314.4 L566.8,317.6 Z" fill="#e39d35"/><path d="M518.0,317.7 L520.3,311.7 L522.7,317.7 Z" fill="#cc631c"/><path d="M562.1,317.7 L564.1,312.5 L566.2,317.7 Z" fill="#6e320f"/><path d="M528.9,317.8 L530.1,314.7 L531.4,317.8 Z" fill="#e29733"/><path d="M539.9,317.8 L542.0,311.4 L544.2,317.8 Z" fill="#c95f1b"/><path d="M565.3,317.8 L568.3,306.5 L571.3,317.8 Z" fill="#e8d6ce"/><path d="M526.3,318.0 L528.8,314.5 L531.4,318.0 Z" fill="#d87824"/><path d="M523.7,318.0 L526.3,311.2 L528.8,318.0 Z" fill="#6e320f"/><path d="M569.1,318.1 L570.6,314.0 L572.1,318.1 Z" fill="#6e320f"/><path d="M545.5,318.2 L546.9,311.4 L548.3,318.2 Z" fill="#e6a63a"/><path d="M540.6,318.3 L541.9,315.9 L543.2,318.3 Z" fill="#e29733"/><path d="M513.1,318.3 L514.8,315.5 L516.5,318.3 Z" fill="#d77422"/><path d="M579.3,318.3 L581.3,314.0 L583.3,318.3 Z" fill="#cf671d"/><path d="M580.4,318.3 L581.8,316.0 L583.2,318.3 Z" fill="#c25618"/><path d="M548.9,318.4 L551.3,312.7 L553.7,318.4 Z" fill="#df8d2e"/><path d="M527.0,318.4 L528.7,314.4 L530.5,318.4 Z" fill="#efcb68"/><path d="M535.0,318.5 L536.9,313.4 L538.8,318.5 Z" fill="#bf5317"/><path d="M540.7,318.6 L542.8,311.8 L545.0,318.6 Z" fill="#b34313"/><path d="M542.5,318.6 L543.8,313.7 L545.0,318.6 Z" fill="#d36c1f"/><path d="M559.3,318.7 L561.4,313.6 L563.5,318.7 Z" fill="#de8a2c"/><path d="M537.5,318.7 L539.5,316.7 L541.4,318.7 Z" fill="#6e320f"/><path d="M547.9,318.9 L550.2,316.5 L552.5,318.9 Z" fill="#e0902f"/><path d="M564.5,318.9 L566.2,314.9 L567.8,318.9 Z" fill="#cf671d"/><path d="M516.3,318.9 L517.9,316.5 L519.6,318.9 Z" fill="#e6a439"/><path d="M576.5,319.3 L578.2,314.8 L580.0,319.3 Z" fill="#df8e2e"/><path d="M528.8,319.3 L531.2,313.8 L533.6,319.3 Z" fill="#db8229"/><path d="M555.3,319.3 L557.8,316.0 L560.2,319.3 Z" fill="#c75d1a"/><path d="M533.3,319.4 L535.9,314.1 L538.4,319.4 Z" fill="#dd872b"/><path d="M519.6,319.5 L521.7,313.8 L523.8,319.5 Z" fill="#cc631c"/><path d="M568.8,319.6 L570.2,316.0 L571.5,319.6 Z" fill="#6e320f"/><path d="M560.9,319.7 L563.5,317.6 L566.1,319.7 Z" fill="#6e320f"/><path d="M555.2,319.7 L556.8,316.5 L558.5,319.7 Z" fill="#da7d26"/><path d="M517.5,319.7 L519.4,312.8 L521.2,319.7 Z" fill="#e29632"/><path d="M571.5,319.8 L573.0,312.9 L574.6,319.8 Z" fill="#6e320f"/><path d="M520.5,319.8 L522.3,315.8 L524.2,319.8 Z" fill="#d97b25"/><path d="M532.1,319.8 L534.2,314.5 L536.3,319.8 Z" fill="#e09130"/><path d="M515.6,319.8 L517.5,315.2 L519.4,319.8 Z" fill="#d87623"/><path d="M512.2,319.9 L514.6,316.0 L517.0,319.9 Z" fill="#6e320f"/><path d="M545.4,320.0 L547.1,316.6 L548.8,320.0 Z" fill="#de892c"/><path d="M556.8,320.0 L558.0,315.3 L559.3,320.0 Z" fill="#6e320f"/><path d="M526.7,320.0 L528.9,315.0 L531.1,320.0 Z" fill="#ce651d"/><path d="M568.2,320.2 L570.2,316.7 L572.3,320.2 Z" fill="#da7e26"/><path d="M566.4,320.3 L568.9,318.3 L571.4,320.3 Z" fill="#d97b25"/><path d="M532.4,320.4 L534.4,316.8 L536.3,320.4 Z" fill="#d77522"/><path d="M517.7,320.4 L520.0,314.3 L522.2,320.4 Z" fill="#db8228"/><path d="M563.5,320.4 L565.6,315.2 L567.6,320.4 Z" fill="#de8c2d"/><path d="M537.0,320.4 L539.3,314.6 L541.6,320.4 Z" fill="#cd651d"/><path d="M526.8,320.5 L528.6,316.5 L530.5,320.5 Z" fill="#d67220"/><path d="M572.4,320.5 L574.8,315.4 L577.1,320.5 Z" fill="#dc862a"/><path d="M555.6,320.6 L557.0,314.9 L558.4,320.6 Z" fill="#eab74e"/><path d="M546.9,320.7 L548.4,314.1 L549.8,320.7 Z" fill="#de8b2d"/><path d="M544.0,320.8 L545.4,317.3 L546.7,320.8 Z" fill="#c45819"/><path d="M540.9,320.9 L542.4,315.5 L543.8,320.9 Z" fill="#e0902f"/><path d="M522.4,320.9 L523.7,314.3 L524.9,320.9 Z" fill="#ebbc54"/><path d="M523.7,320.9 L525.9,318.2 L528.1,320.9 Z" fill="#e49f36"/><path d="M567.5,321.0 L569.9,315.1 L572.4,321.0 Z" fill="#dd882b"/><path d="M537.5,321.0 L539.6,317.8 L541.7,321.0 Z" fill="#d67221"/><path d="M570.7,321.1 L572.4,318.8 L574.2,321.1 Z" fill="#de8b2d"/><path d="M550.1,321.1 L552.7,317.4 L555.2,321.1 Z" fill="#d0681d"/><path d="M530.6,321.3 L532.4,315.3 L534.3,321.3 Z" fill="#d97924"/><path d="M560.8,321.6 L563.4,318.0 L566.0,321.6 Z" fill="#c35719"/><path d="M543.8,321.6 L546.3,316.4 L548.7,321.6 Z" fill="#6e320f"/><path d="M564.9,321.6 L567.5,312.3 L570.1,321.6 Z" fill="#e8d6ce"/><path d="M518.0,321.7 L519.9,318.0 L521.9,321.7 Z" fill="#6e320f"/><path d="M539.6,321.7 L540.9,315.8 L542.2,321.7 Z" fill="#b94a15"/><path d="M559.2,321.8 L561.3,315.1 L563.4,321.8 Z" fill="#e29632"/><path d="M542.3,321.8 L544.0,316.6 L545.7,321.8 Z" fill="#e8ae41"/><path d="M534.2,322.0 L536.6,319.1 L538.9,322.0 Z" fill="#cc641c"/><path d="M570.4,322.0 L572.1,319.0 L573.8,322.0 Z" fill="#6e320f"/><path d="M550.6,322.2 L552.5,317.3 L554.4,322.2 Z" fill="#6e320f"/><path d="M552.2,322.2 L553.9,315.6 L555.7,322.2 Z" fill="#da7f27"/><path d="M522.8,322.2 L525.5,313.0 L528.1,322.2 Z" fill="#e8d6ce"/><path d="M548.4,322.4 L550.6,316.2 L552.7,322.4 Z" fill="#b84a15"/><path d="M554.7,322.5 L556.1,318.9 L557.5,322.5 Z" fill="#ba4c16"/><path d="M525.9,322.6 L527.7,315.9 L529.5,322.6 Z" fill="#de8a2c"/><path d="M563.8,322.6 L565.3,316.6 L566.8,322.6 Z" fill="#e29833"/><path d="M527.1,322.7 L529.3,319.7 L531.4,322.7 Z" fill="#c55a19"/><path d="M557.0,322.8 L559.5,317.9 L562.1,322.8 Z" fill="#d16a1e"/><path d="M541.3,323.1 L542.9,319.4 L544.5,323.1 Z" fill="#e39a34"/><path d="M558.3,323.2 L560.8,317.8 L563.3,323.2 Z" fill="#dd862a"/><path d="M547.2,323.4 L549.2,319.7 L551.2,323.4 Z" fill="#d36c1f"/><path d="M519.5,323.6 L521.5,320.5 L523.5,323.6 Z" fill="#6e320f"/><path d="M546.0,323.6 L547.9,317.0 L549.8,323.6 Z" fill="#e8ab3e"/><path d="M531.0,323.6 L533.2,319.1 L535.4,323.6 Z" fill="#de8b2d"/><path d="M525.3,323.7 L527.4,319.2 L529.6,323.7 Z" fill="#d0691e"/><path d="M523.1,323.7 L524.8,319.1 L526.6,323.7 Z" fill="#e7a93b"/><path d="M557.5,323.9 L559.7,321.3 L561.8,323.9 Z" fill="#d26b1e"/><path d="M567.4,324.0 L569.4,317.2 L571.4,324.0 Z" fill="#e49d35"/><path d="M549.7,324.0 L552.1,319.8 L554.4,324.0 Z" fill="#cf671d"/><path d="M553.3,324.1 L554.8,321.6 L556.3,324.1 Z" fill="#c85e1b"/><path d="M531.8,324.1 L533.6,318.5 L535.5,324.1 Z" fill="#6e320f"/><path d="M535.3,324.3 L538.7,316.9 L542.1,324.3 Z" fill="#e8d6ce"/><path d="M522.9,324.4 L525.2,320.0 L527.6,324.4 Z" fill="#6e320f"/><path d="M538.6,324.4 L540.4,317.5 L542.1,324.4 Z" fill="#d67020"/><path d="M563.7,324.6 L566.2,319.1 L568.7,324.6 Z" fill="#c85e1b"/><path d="M535.6,324.6 L537.0,318.5 L538.4,324.6 Z" fill="#e5a338"/><path d="M561.5,324.7 L563.6,317.8 L565.7,324.7 Z" fill="#db8128"/><path d="M542.3,324.7 L544.5,321.8 L546.8,324.7 Z" fill="#e5a238"/><path d="M556.3,324.8 L558.3,318.7 L560.2,324.8 Z" fill="#e9b247"/><path d="M550.0,325.0 L551.9,319.2 L553.7,325.0 Z" fill="#ab3810"/><path d="M559.4,325.2 L561.5,321.2 L563.5,325.2 Z" fill="#e19331"/><path d="M565.2,325.2 L566.9,319.3 L568.5,325.2 Z" fill="#d87924"/><path d="M536.3,325.2 L538.8,319.7 L541.3,325.2 Z" fill="#6e320f"/><path d="M532.3,325.5 L534.0,321.0 L535.8,325.5 Z" fill="#c55a1a"/><path d="M557.4,325.6 L559.0,319.5 L560.7,325.6 Z" fill="#d77321"/><path d="M549.2,325.6 L551.0,323.1 L552.7,325.6 Z" fill="#db8329"/><path d="M547.4,325.6 L548.9,320.0 L550.4,325.6 Z" fill="#de8b2d"/><path d="M527.7,325.8 L529.3,320.5 L530.9,325.8 Z" fill="#d97b25"/><path d="M541.3,326.0 L543.2,323.1 L545.0,326.0 Z" fill="#cf671d"/><path d="M530.7,326.2 L533.1,324.2 L535.5,326.2 Z" fill="#e6a63a"/><path d="M545.2,326.3 L546.5,319.7 L547.8,326.3 Z" fill="#6e320f"/><path d="M539.5,326.6 L541.2,324.3 L542.8,326.6 Z" fill="#e39a34"/><path d="M542.3,326.6 L543.8,321.6 L545.3,326.6 Z" fill="#d36c1e"/><path d="M546.4,326.6 L548.5,323.9 L550.7,326.6 Z" fill="#b74815"/><path d="M525.1,326.7 L527.3,320.0 L529.5,326.7 Z" fill="#d77622"/><path d="M535.4,326.7 L537.8,321.9 L540.2,326.7 Z" fill="#e5a037"/><path d="M529.0,326.8 L530.3,323.2 L531.7,326.8 Z" fill="#dd892c"/><path d="M553.0,326.9 L555.4,321.4 L557.7,326.9 Z" fill="#dc862a"/><path d="M561.7,327.1 L564.2,318.5 L566.7,327.1 Z" fill="#e8d6ce"/><path d="M556.5,327.3 L558.0,325.1 L559.6,327.3 Z" fill="#de8a2c"/><path d="M550.0,327.4 L552.5,322.9 L555.0,327.4 Z" fill="#ce661d"/><path d="M540.9,327.5 L542.4,321.1 L544.0,327.5 Z" fill="#df8f2f"/><path d="M533.9,327.8 L535.4,325.7 L537.0,327.8 Z" fill="#de8c2d"/><path d="M545.3,327.9 L546.7,321.0 L548.0,327.9 Z" fill="#cd651c"/><path d="M560.2,327.9 L561.8,321.5 L563.5,327.9 Z" fill="#db8128"/><path d="M553.5,328.2 L554.9,323.0 L556.3,328.2 Z" fill="#e39c35"/><path d="M536.9,328.2 L538.3,322.4 L539.7,328.2 Z" fill="#d0691e"/><path d="M530.7,328.3 L532.8,325.4 L534.9,328.3 Z" fill="#db8128"/><path d="M548.5,328.6 L551.0,322.1 L553.5,328.6 Z" fill="#e09330"/><path d="M555.3,328.7 L556.8,326.0 L558.2,328.7 Z" fill="#e5a137"/><path d="M557.1,328.8 L558.9,326.6 L560.6,328.8 Z" fill="#df902f"/><path d="M536.8,328.8 L539.2,323.7 L541.6,328.8 Z" fill="#de8a2c"/><path d="M541.0,329.1 L544.3,320.7 L547.6,329.1 Z" fill="#e8d6ce"/><path d="M550.5,329.2 L553.0,323.3 L555.5,329.2 Z" fill="#6e320f"/><path d="M535.3,329.3 L537.2,323.0 L539.1,329.3 Z" fill="#e09230"/><path d="M540.5,329.3 L541.8,324.4 L543.1,329.3 Z" fill="#df8e2e"/><path d="M546.8,329.4 L549.3,326.6 L551.9,329.4 Z" fill="#d87623"/><path d="M544.1,329.8 L546.3,326.0 L548.5,329.8 Z" fill="#dd892c"/><path d="M549.0,329.9 L551.6,327.5 L554.1,329.9 Z" fill="#e9b246"/><path d="M535.2,330.0 L536.6,327.1 L538.0,330.0 Z" fill="#dc852a"/><path d="M553.7,330.1 L555.9,325.2 L558.0,330.1 Z" fill="#c35719"/><path d="M532.1,330.3 L534.3,325.1 L536.4,330.3 Z" fill="#d67221"/><path d="M537.7,330.3 L539.4,328.2 L541.1,330.3 Z" fill="#df8d2e"/><path d="M537.8,330.7 L539.7,325.5 L541.6,330.7 Z" fill="#d56f1f"/><path d="M542.2,330.7 L544.5,326.0 L546.9,330.7 Z" fill="#d67020"/><path d="M546.2,331.2 L548.0,327.5 L549.9,331.2 Z" fill="#e5a238"/><path d="M537.3,331.4 L539.5,324.4 L541.8,331.4 Z" fill="#d56f1f"/><path d="M548.6,331.8 L550.7,329.5 L552.7,331.8 Z" fill="#df8f2f"/><path d="M542.5,331.9 L543.7,325.6 L544.9,331.9 Z" fill="#e19431"/><path d="M550.9,332.0 L552.6,326.0 L554.3,332.0 Z" fill="#6e320f"/><path d="M543.7,332.3 L545.3,326.0 L546.9,332.3 Z" fill="#d97924"/><path d="M546.9,332.5 L549.0,328.4 L551.1,332.5 Z" fill="#d87723"/><path d="M542.0,333.0 L544.6,327.7 L547.1,333.0 Z" fill="#e5a238"/><path d="M538.8,333.4 L541.1,328.4 L543.3,333.4 Z" fill="#e09230"/><path d="M541.2,333.6 L543.2,329.6 L545.2,333.6 Z" fill="#e49d35"/><path d="M545.0,334.5 L547.5,331.3 L550.1,334.5 Z" fill="#e9af43"/><path d="M543.7,336.0 L546.1,332.5 L548.4,336.0 Z" fill="#d87623"/></g>
<path d="M488,206 V228" stroke="#bbb" stroke-width="0.6"/>
<path d="M485,230.6 L544.8,262 L617,227.2" stroke="#222" stroke-width="1.1" fill="none"/>
<path d="M485,310.6 L544.8,342 L617,307.2" stroke="#222" stroke-width="1.1" fill="none"/>
<text font-size="11.2" fill="#222" text-anchor="middle" transform="translate(504.5,256) rotate(30)">y = 5 μm</text>
<text font-size="11.2" fill="#222" text-anchor="middle" transform="translate(592.5,252.5) rotate(-30)">x = 5 μm</text>
<text font-size="11.2" fill="#222" text-anchor="middle" transform="translate(506,336) rotate(30)">y = 5 μm</text>
<text font-size="11.2" fill="#222" text-anchor="middle" transform="translate(593.5,334.5) rotate(-30)">x = 5 μm</text>
<rect x="633.2" y="202.8" width="6.2" height="56.5" fill="url(#cbar)" stroke="#2a3a70" stroke-width="0.7"/>
<rect x="633.2" y="275" width="6.4" height="57.5" fill="url(#cbar)" stroke="#2a3a70" stroke-width="0.7"/>
<text x="644" y="210.5" font-size="10.6" fill="#222" text-anchor="start" >-0.871 V</text>
<text x="644" y="256.2" font-size="10.6" fill="#222" text-anchor="start" >-1.252 V</text>
<text x="644" y="281.4" font-size="10.6" fill="#222" text-anchor="start" >-4.441 V</text>
<text x="644" y="332.2" font-size="10.6" fill="#222" text-anchor="start" >-4.792 V</text>
<defs><clipPath id="gclip"><rect x="39.7" y="378.3" width="173" height="139.4"/></clipPath></defs>
<g clip-path="url(#gclip)">
<path d="M97.3,408 V517" stroke="#40b8f0" stroke-width="0.9" stroke-dasharray="3,2" fill="none"/>
<path d="M41.50,372.00 C41.62,373.08 39.62,361.83 42.20,378.50 C44.78,395.17 54.03,455.42 57.00,472.00 C59.97,488.58 58.37,473.78 60.00,478.00 C61.63,482.22 64.17,492.57 66.80,497.30 C69.43,502.03 70.72,504.25 75.80,506.40 C80.88,508.55 88.62,509.45 97.30,510.20 C105.98,510.95 108.67,510.43 127.90,510.90 C147.13,511.37 198.57,512.65 212.70,513.00" stroke="#e0905a" stroke-width="1.0" fill="none"/>
<path d="M42.30,372.00 C42.42,373.08 40.55,362.50 43.00,378.50 C45.45,394.50 54.17,451.97 57.00,468.00 C59.83,484.03 58.37,470.95 60.00,474.70 C61.63,478.45 64.17,486.65 66.80,490.50 C69.43,494.35 70.72,495.72 75.80,497.80 C80.88,499.88 88.62,501.57 97.30,503.00 C105.98,504.43 108.67,504.82 127.90,506.40 C147.13,507.98 198.57,511.48 212.70,512.50" stroke="#c8a090" stroke-width="1.3" fill="none"/>
<path d="M43.30,372.00 C43.42,373.08 42.55,368.00 44.00,378.50 C45.45,389.00 49.77,421.75 52.00,435.00 C54.23,448.25 56.07,452.83 57.40,458.00 C58.73,463.17 58.43,462.17 60.00,466.00 C61.57,469.83 64.17,477.10 66.80,481.00 C69.43,484.90 70.72,487.13 75.80,489.40 C80.88,491.67 88.62,492.72 97.30,494.60 C105.98,496.48 115.28,498.73 127.90,500.70 C140.52,502.67 158.87,504.70 173.00,506.40 C187.13,508.10 206.08,510.15 212.70,510.90" stroke="#e08050" stroke-width="1.0" fill="none"/>
<path d="M45.20,372.00 C45.33,373.08 44.53,369.67 46.00,378.50 C47.47,387.33 51.67,412.93 54.00,425.00 C56.33,437.07 58.42,445.40 60.00,450.90 C61.58,456.40 62.00,455.73 63.50,458.00 C65.00,460.27 63.37,461.17 69.00,464.50 C74.63,467.83 90.68,475.17 97.30,478.00 C103.92,480.83 103.60,479.98 108.70,481.50 C113.80,483.02 120.93,484.65 127.90,487.10 C134.87,489.55 142.98,493.38 150.50,496.20 C158.02,499.02 165.45,501.87 173.00,504.00 C180.55,506.13 189.18,507.78 195.80,509.00 C202.42,510.22 209.88,510.92 212.70,511.30" stroke="#f0b848" stroke-width="1.0" fill="none"/>
<path d="M47.20,372.00 C47.33,373.08 46.70,372.17 48.00,378.50 C49.30,384.83 52.92,400.92 55.00,410.00 C57.08,419.08 59.00,427.83 60.50,433.00 C62.00,438.17 62.42,438.83 64.00,441.00 C65.58,443.17 64.45,442.73 70.00,446.00 C75.55,449.27 90.85,457.27 97.30,460.60 C103.75,463.93 103.60,463.65 108.70,466.00 C113.80,468.35 120.93,470.80 127.90,474.70 C134.87,478.60 142.98,485.07 150.50,489.40 C158.02,493.73 165.45,497.68 173.00,500.70 C180.55,503.72 189.18,505.92 195.80,507.50 C202.42,509.08 209.88,509.75 212.70,510.20" stroke="#b8e070" stroke-width="1.0" fill="none"/>
<path d="M49.00,372.00 C49.13,373.08 48.97,375.00 49.80,378.50 C50.63,382.00 52.55,388.08 54.00,393.00 C55.45,397.92 57.17,403.67 58.50,408.00 C59.83,412.33 60.92,416.25 62.00,419.00 C63.08,421.75 63.33,422.67 65.00,424.50 C66.67,426.33 66.62,426.73 72.00,430.00 C77.38,433.27 91.18,440.62 97.30,444.10 C103.42,447.58 103.60,447.32 108.70,450.90 C113.80,454.48 120.93,459.75 127.90,465.60 C134.87,471.45 142.98,480.63 150.50,486.00 C158.02,491.37 165.45,494.60 173.00,497.80 C180.55,501.00 189.18,503.40 195.80,505.20 C202.42,507.00 209.88,508.03 212.70,508.60" stroke="#5e9a50" stroke-width="1.0" fill="none"/>
<path d="M42.00,372.00 C42.13,373.08 41.87,369.77 42.80,378.50 C43.73,387.23 45.17,408.95 47.60,424.40 C50.03,439.85 54.20,460.00 57.40,471.20 C60.60,482.40 63.73,486.87 66.80,491.60 C69.87,496.33 72.78,497.60 75.80,499.60 C78.82,501.60 81.70,502.67 84.90,503.60 C88.10,504.53 91.80,504.73 95.00,505.20 C98.20,505.67 98.62,505.85 104.10,506.40 C109.58,506.95 118.58,507.82 127.90,508.50 C137.22,509.18 145.87,509.75 160.00,510.50 C174.13,511.25 203.92,512.58 212.70,513.00" stroke="#4070e0" stroke-width="0.9" fill="none"/>
<path d="M42.80,372.00 C42.92,373.08 42.62,371.12 43.50,378.50 C44.38,385.88 45.78,402.18 48.10,416.30 C50.42,430.42 54.28,451.97 57.40,463.20 C60.52,474.43 63.73,478.97 66.80,483.70 C69.87,488.43 72.78,489.52 75.80,491.60 C78.82,493.68 81.70,494.98 84.90,496.20 C88.10,497.42 91.80,498.23 95.00,498.90 C98.20,499.57 101.07,499.72 104.10,500.20 C107.13,500.68 108.48,500.97 113.20,501.80 C117.92,502.63 124.67,504.07 132.40,505.20 C140.13,506.33 150.35,507.53 159.60,508.60 C168.85,509.67 179.05,510.90 187.90,511.60 C196.75,512.30 208.57,512.60 212.70,512.80" stroke="#ff2020" stroke-width="0.9" fill="none"/>
<path d="M50.3,416.3 L46.6,414.2 L46.6,418.4 Z" fill="#ff2020"/>
<path d="M45.9,426.8 L49.6,424.7 L49.6,428.9 Z" fill="#4070e0"/>
<path d="M59.4,462.2 L55.7,460.1 L55.7,464.3 Z" fill="#ff2020"/>
<path d="M55.0,470.2 L58.7,468.1 L58.7,472.3 Z" fill="#4070e0"/>
<path d="M68.5,482.6 L64.8,480.5 L64.8,484.7 Z" fill="#ff2020"/>
<path d="M64.1,490.5 L67.8,488.4 L67.8,492.6 Z" fill="#4070e0"/>
<path d="M77.6,491.2 L73.9,489.1 L73.9,493.3 Z" fill="#ff2020"/>
<path d="M73.2,499.2 L76.9,497.1 L76.9,501.3 Z" fill="#4070e0"/>
<path d="M86.7,496.0 L83.0,493.9 L83.0,498.1 Z" fill="#ff2020"/>
<path d="M82.3,503.4 L86.0,501.3 L86.0,505.5 Z" fill="#4070e0"/>
<path d="M95.8,498.5 L92.1,496.4 L92.1,500.6 Z" fill="#ff2020"/>
<path d="M91.4,505.0 L95.1,502.9 L95.1,507.1 Z" fill="#4070e0"/>
<path d="M104.9,500.0 L101.2,497.9 L101.2,502.1 Z" fill="#ff2020"/>
<path d="M100.5,506.2 L104.2,504.1 L104.2,508.3 Z" fill="#4070e0"/>
<path d="M114.0,501.6 L110.3,499.5 L110.3,503.7 Z" fill="#ff2020"/>
<path d="M109.6,507.1 L113.3,505.0 L113.3,509.2 Z" fill="#4070e0"/>
<path d="M123.1,503.2 L119.4,501.1 L119.4,505.3 Z" fill="#ff2020"/>
<path d="M118.7,507.9 L122.4,505.8 L122.4,510.0 Z" fill="#4070e0"/>
<path d="M132.2,504.8 L128.5,502.7 L128.5,506.9 Z" fill="#ff2020"/>
<path d="M127.8,508.6 L131.5,506.5 L131.5,510.7 Z" fill="#4070e0"/>
<path d="M141.3,506.0 L137.6,503.9 L137.6,508.1 Z" fill="#ff2020"/>
<path d="M136.9,509.2 L140.6,507.1 L140.6,511.3 Z" fill="#4070e0"/>
<path d="M150.4,507.2 L146.7,505.1 L146.7,509.3 Z" fill="#ff2020"/>
<path d="M146.0,509.8 L149.7,507.7 L149.7,511.9 Z" fill="#4070e0"/>
<path d="M159.5,508.3 L155.8,506.2 L155.8,510.4 Z" fill="#ff2020"/>
<path d="M155.1,510.3 L158.8,508.2 L158.8,512.4 Z" fill="#4070e0"/>
<path d="M168.6,509.3 L164.9,507.2 L164.9,511.4 Z" fill="#ff2020"/>
<path d="M164.2,510.8 L167.9,508.7 L167.9,512.9 Z" fill="#4070e0"/>
<path d="M177.7,510.3 L174.0,508.2 L174.0,512.4 Z" fill="#ff2020"/>
<path d="M173.3,511.2 L177.0,509.1 L177.0,513.3 Z" fill="#4070e0"/>
<path d="M186.8,511.3 L183.1,509.2 L183.1,513.4 Z" fill="#ff2020"/>
<path d="M182.4,511.7 L186.1,509.6 L186.1,513.8 Z" fill="#4070e0"/>
<path d="M195.9,511.9 L192.2,509.8 L192.2,514.0 Z" fill="#ff2020"/>
<path d="M191.5,512.1 L195.2,510.0 L195.2,514.2 Z" fill="#4070e0"/>
<path d="M205.0,512.3 L201.3,510.2 L201.3,514.4 Z" fill="#ff2020"/>
<path d="M200.6,512.5 L204.3,510.4 L204.3,514.6 Z" fill="#4070e0"/>
<path d="M214.1,512.8 L210.4,510.7 L210.4,514.9 Z" fill="#ff2020"/>
<path d="M209.7,513.0 L213.4,510.9 L213.4,515.1 Z" fill="#4070e0"/>
</g>
<rect x="39.7" y="378.3" width="173.0" height="139.40000000000003" fill="none" stroke="#222" stroke-width="1.2"/>
<path d="M39.7,515.7 h2.5" stroke="#222" stroke-width="1"/>
<text x="36.2" y="515.1" font-size="12" fill="#222" text-anchor="end" dominant-baseline="central">0.0</text>
<path d="M39.7,470.0 h2.5" stroke="#222" stroke-width="1"/>
<text x="36.2" y="469.38" font-size="12" fill="#222" text-anchor="end" dominant-baseline="central">0.2</text>
<path d="M39.7,424.3 h2.5" stroke="#222" stroke-width="1"/>
<text x="36.2" y="423.66" font-size="12" fill="#222" text-anchor="end" dominant-baseline="central">0.4</text>
<path d="M39.7,378.5 h2.5" stroke="#222" stroke-width="1"/>
<text x="36.2" y="377.94000000000005" font-size="12" fill="#222" text-anchor="end" dominant-baseline="central">0.6</text>
<path d="M39.7,517.7 v-2.5" stroke="#222" stroke-width="1"/>
<text x="39.7" y="530.8" font-size="12" fill="#222" text-anchor="middle" >350</text>
<path d="M97.4,517.7 v-2.5" stroke="#222" stroke-width="1"/>
<text x="97.36666666666667" y="530.8" font-size="12" fill="#222" text-anchor="middle" >400</text>
<path d="M155.0,517.7 v-2.5" stroke="#222" stroke-width="1"/>
<text x="155.03333333333333" y="530.8" font-size="12" fill="#222" text-anchor="middle" >450</text>
<path d="M212.7,517.7 v-2.5" stroke="#222" stroke-width="1"/>
<text x="212.7" y="530.8" font-size="12" fill="#222" text-anchor="middle" >500</text>
<text x="125.5" y="542.5" font-size="11.6" fill="#222" text-anchor="middle" >Wavelength (nm)</text>
<text x="0" y="0" font-size="11.8" fill="#333" text-anchor="middle" dominant-baseline="central" transform="translate(6.2,442.4) rotate(-90)">Absorbance (arb. units)</text>
<path d="M123.1,386.3 H140.3" stroke="#e0905a" stroke-width="1.15"/>
<text x="143.3" y="389.2" font-size="7.9" fill="#222" text-anchor="start" >0 μM</text>
<path d="M123.1,396.0 H140.3" stroke="#c8a090" stroke-width="1.6"/>
<text x="143.3" y="398.87" font-size="7.9" fill="#222" text-anchor="start" >10 μM</text>
<path d="M123.1,405.6 H140.3" stroke="#e08050" stroke-width="1.15"/>
<text x="143.3" y="408.53999999999996" font-size="7.9" fill="#222" text-anchor="start" >25 μM</text>
<path d="M123.1,415.3 H140.3" stroke="#f0b848" stroke-width="1.15"/>
<text x="143.3" y="418.21" font-size="7.9" fill="#222" text-anchor="start" >50 μM</text>
<path d="M123.1,425.0 H140.3" stroke="#b8e070" stroke-width="1.2"/>
<text x="143.3" y="427.88" font-size="7.9" fill="#222" text-anchor="start" >75 μM</text>
<path d="M123.1,434.7 H140.3" stroke="#5e9a50" stroke-width="1.2"/>
<text x="143.3" y="437.55" font-size="7.9" fill="#222" text-anchor="start" >100 μM</text>
<path d="M123.1,444.3 H140.3" stroke="#4070e0" stroke-width="1.15"/>
<text x="143.3" y="447.21999999999997" font-size="7.9" fill="#222" text-anchor="start" >Before modification</text>
<path d="M123.1,454.0 H140.3" stroke="#ff2020" stroke-width="1.15"/>
<text x="143.3" y="456.89" font-size="7.9" fill="#222" text-anchor="start" >After modification</text>
<path d="M129.5,444.4 L133.5,442 L133.5,446.8 Z" fill="#4070e0"/>
<path d="M134,454 L130,451.6 L130,456.4 Z" fill="#ff2020"/>
<path d="M266.0,511.4 L417.5,408.9" stroke="#4a78e0" stroke-width="1" stroke-dasharray="4,3" fill="none"/>
<rect x="263.1" y="508.3" width="5.8" height="5.8" fill="none" stroke="#111" stroke-width="1.05"/>
<rect x="278.2" y="497.8" width="5.8" height="5.8" fill="none" stroke="#111" stroke-width="1.05"/>
<rect x="301.0" y="483.8" width="5.8" height="5.8" fill="none" stroke="#111" stroke-width="1.05"/>
<rect x="338.9" y="458.3" width="5.8" height="5.8" fill="none" stroke="#111" stroke-width="1.05"/>
<rect x="376.7" y="432.0" width="5.8" height="5.8" fill="none" stroke="#111" stroke-width="1.05"/>
<rect x="414.6" y="405.8" width="5.8" height="5.8" fill="none" stroke="#111" stroke-width="1.05"/>
<path d="M278.2,507.5 V514" stroke="#4a78e0" stroke-width="1"/><path d="M276.4,513 L280,513 L278.2,518 Z" fill="#4a78e0"/>
<path d="M293.3,496.5 V514" stroke="#f02020" stroke-width="1"/><path d="M291.5,513 L295.1,513 L293.3,518 Z" fill="#f02020"/>
<path d="M274.0,504 L281.0,500 L281.0,508 Z" fill="none" stroke="#4a78e0" stroke-width="1.2"/>
<path d="M297.7,492.8 L290.7,488.8 L290.7,496.8 Z" fill="none" stroke="#f02020" stroke-width="1.1"/>
<path d="M278.8,426.2 L284.4,422.9 L284.4,429.5 Z" fill="none" stroke="#4a78e0" stroke-width="1.2"/>
<path d="M285.59999999999997,435.3 L280.0,432.0 L280.0,438.6 Z" fill="none" stroke="#f02020" stroke-width="1.1"/>
<text x="293.5" y="429" font-size="8" fill="#222" text-anchor="start" >Before modification</text>
<text x="293.5" y="438.6" font-size="8" fill="#222" text-anchor="start" >After modification</text>
<text x="266.8" y="397.2" font-size="9.6" fill="#222" text-anchor="start" >Y<tspan font-size="6.6" dy="2">(400 nm)</tspan><tspan dy="-2"> = [H</tspan><tspan font-size="6.6" dy="2">2</tspan><tspan dy="-2">O</tspan><tspan font-size="6.6" dy="2">2</tspan><tspan dy="-2">] × 0.00293 + 0.01929</tspan></text>
<rect x="258.8" y="378.6" width="173.5" height="139.60000000000002" fill="none" stroke="#222" stroke-width="1.2"/>
<path d="M258.8,518.2 h2.5" stroke="#222" stroke-width="1"/>
<text x="255.2" y="518.0" font-size="11.8" fill="#222" text-anchor="end" dominant-baseline="central">0.0</text>
<path d="M258.8,483.2 h2.5" stroke="#222" stroke-width="1"/>
<text x="255.2" y="483.00000000000006" font-size="11.8" fill="#222" text-anchor="end" dominant-baseline="central">0.1</text>
<path d="M258.8,448.2 h2.5" stroke="#222" stroke-width="1"/>
<text x="255.2" y="448.00000000000006" font-size="11.8" fill="#222" text-anchor="end" dominant-baseline="central">0.2</text>
<path d="M258.8,413.2 h2.5" stroke="#222" stroke-width="1"/>
<text x="255.2" y="413.00000000000006" font-size="11.8" fill="#222" text-anchor="end" dominant-baseline="central">0.3</text>
<path d="M258.8,378.2 h2.5" stroke="#222" stroke-width="1"/>
<text x="255.2" y="378.00000000000006" font-size="11.8" fill="#222" text-anchor="end" dominant-baseline="central">0.4</text>
<path d="M266.0,518.2 v-2.5" stroke="#222" stroke-width="1"/>
<text x="266.0" y="531.7" font-size="11.9" fill="#222" text-anchor="middle" >0</text>
<path d="M296.3,518.2 v-2.5" stroke="#222" stroke-width="1"/>
<text x="296.3" y="531.7" font-size="11.9" fill="#222" text-anchor="middle" >20</text>
<path d="M326.6,518.2 v-2.5" stroke="#222" stroke-width="1"/>
<text x="326.6" y="531.7" font-size="11.9" fill="#222" text-anchor="middle" >40</text>
<path d="M356.9,518.2 v-2.5" stroke="#222" stroke-width="1"/>
<text x="356.9" y="531.7" font-size="11.9" fill="#222" text-anchor="middle" >60</text>
<path d="M387.2,518.2 v-2.5" stroke="#222" stroke-width="1"/>
<text x="387.2" y="531.7" font-size="11.9" fill="#222" text-anchor="middle" >80</text>
<path d="M417.5,518.2 v-2.5" stroke="#222" stroke-width="1"/>
<text x="417.5" y="531.7" font-size="11.9" fill="#222" text-anchor="middle" >100</text>
<text x="0" y="0" font-size="11.9" fill="#333" text-anchor="middle" dominant-baseline="central" transform="translate(229.5,442.4) rotate(-90)">Absorbance (arb. units)</text>
<text x="281.2" y="544.6" font-size="11.9" fill="#222" text-anchor="start" >H<tspan font-size="8.2" dy="2.6">2</tspan><tspan dy="-2.6">O</tspan><tspan font-size="8.2" dy="2.6">2</tspan><tspan dy="-2.6"> concentration (μM)</tspan></text>
<path d="M602.2,381.5 H658.9 V520.0 H602.2 Z" fill="#f6d9dc"/>
<path d="M495.5,507.2 L503.5,507.2 L499.5,514.1 Z" fill="none" stroke="#f02020" stroke-width="1.1"/>
<path d="M500.9,493.09999999999997 L508.9,493.09999999999997 L504.9,500.0 Z" fill="none" stroke="#f02020" stroke-width="1.1"/>
<path d="M516.2,457.9 L524.2,457.9 L520.2,464.8 Z" fill="none" stroke="#f02020" stroke-width="1.1"/>
<path d="M535.2,438.09999999999997 L543.2,438.09999999999997 L539.2,445.0 Z" fill="none" stroke="#f02020" stroke-width="1.1"/>
<path d="M557.4,422.9 L565.4,422.9 L561.4,429.8 Z" fill="none" stroke="#f02020" stroke-width="1.1"/>
<path d="M585.5,414.3 L593.5,414.3 L589.5,421.20000000000005 Z" fill="none" stroke="#f02020" stroke-width="1.1"/>
<path d="M605.9,411.7 L613.9,411.7 L609.9,418.6 Z" fill="none" stroke="#f02020" stroke-width="1.1"/>
<path d="M635.7,412.0 L643.7,412.0 L639.7,418.90000000000003 Z" fill="none" stroke="#f02020" stroke-width="1.1"/>
<rect x="486.0" y="381.5" width="172.89999999999998" height="138.5" fill="none" stroke="#222" stroke-width="1.2"/>
<path d="M486.0,514.5 h2.5" stroke="#222" stroke-width="1"/>
<text x="482.5" y="514.2" font-size="11.9" fill="#222" text-anchor="end" dominant-baseline="central">0</text>
<path d="M486.0,481.1 h2.5" stroke="#222" stroke-width="1"/>
<text x="482.5" y="480.84999999999997" font-size="11.9" fill="#222" text-anchor="end" dominant-baseline="central">6</text>
<path d="M486.0,447.8 h2.5" stroke="#222" stroke-width="1"/>
<text x="482.5" y="447.5" font-size="11.9" fill="#222" text-anchor="end" dominant-baseline="central">12</text>
<path d="M486.0,414.4 h2.5" stroke="#222" stroke-width="1"/>
<text x="482.5" y="414.15" font-size="11.9" fill="#222" text-anchor="end" dominant-baseline="central">18</text>
<path d="M486.0,381.1 h2.5" stroke="#222" stroke-width="1"/>
<text x="482.5" y="380.8" font-size="11.9" fill="#222" text-anchor="end" dominant-baseline="central">24</text>
<path d="M499.0,520.0 v-2.5" stroke="#222" stroke-width="1"/>
<text x="499.0" y="532.8" font-size="11.9" fill="#222" text-anchor="middle" >0</text>
<path d="M537.7,520.0 v-2.5" stroke="#222" stroke-width="1"/>
<text x="537.7" y="532.8" font-size="11.9" fill="#222" text-anchor="middle" >300</text>
<path d="M576.4,520.0 v-2.5" stroke="#222" stroke-width="1"/>
<text x="576.4" y="532.8" font-size="11.9" fill="#222" text-anchor="middle" >600</text>
<path d="M615.1,520.0 v-2.5" stroke="#222" stroke-width="1"/>
<text x="615.1" y="532.8" font-size="11.9" fill="#222" text-anchor="middle" >900</text>
<path d="M653.8,520.0 v-2.5" stroke="#222" stroke-width="1"/>
<text x="653.8" y="532.8" font-size="11.9" fill="#222" text-anchor="middle" >1200</text>
<text x="572.8" y="547.3" font-size="11.6" fill="#222" text-anchor="middle" >Cycle</text>
<text x="632.3" y="401.8" font-size="9" fill="#222" text-anchor="middle" >Saturation</text>
<text font-size="11.6" fill="#333" text-anchor="middle" transform="translate(465.5,453) rotate(-90)">H<tspan font-size="8" dy="2">2</tspan><tspan dy="-2">O</tspan><tspan font-size="8" dy="2">2</tspan><tspan dy="-2"> concentration (μM)</tspan></text>
</svg></body></html>
